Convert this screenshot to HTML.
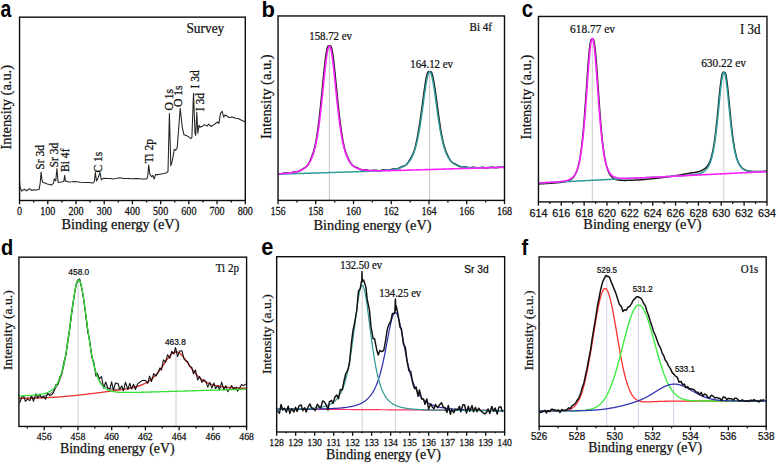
<!DOCTYPE html>
<html><head><meta charset="utf-8"><title>XPS spectra</title>
<style>html,body{margin:0;padding:0;background:#fff;width:778px;height:464px;overflow:hidden}svg{display:block}</style>
</head><body>
<svg xmlns="http://www.w3.org/2000/svg" width="778" height="464" viewBox="0 0 778 464">
<rect x="0" y="0" width="778" height="464" fill="#fff"/>
<polyline fill="none" stroke="#222" stroke-width="1.05" stroke-linejoin="round" points="19.60,181.00 19.90,187.00 21.90,191.20 24.20,189.20 26.50,190.80 29.60,188.70 31.90,190.50 34.00,189.80 36.50,190.00 39.20,189.30 40.20,183.00 41.10,172.00 42.00,180.00 42.70,182.40 45.00,183.10 47.30,183.90 49.50,184.40 51.50,185.10 53.50,183.10 54.20,178.90 55.80,180.80 56.90,168.50 58.10,182.40 61.20,182.00 63.80,181.60 64.70,175.40 65.40,181.20 66.20,181.20 68.90,182.00 72.00,181.80 75.00,181.50 80.00,182.20 85.80,182.60 89.00,182.40 92.80,183.10 94.40,181.50 95.30,172.30 96.50,180.90 98.20,177.70 100.00,172.30 101.40,179.90 103.50,178.20 107.30,178.60 110.00,178.40 112.70,179.00 116.00,178.60 119.70,177.70 123.50,178.60 128.00,178.40 132.00,178.80 137.00,178.60 142.00,179.00 146.50,179.00 147.70,176.80 148.70,164.90 149.80,174.10 151.60,176.80 152.90,175.40 154.10,179.00 155.60,174.60 158.00,174.60 161.10,174.10 164.00,173.60 166.60,172.80 168.00,171.30 169.40,113.40 170.80,165.80 172.40,160.40 174.30,149.40 175.70,150.30 177.20,147.60 180.20,108.20 182.30,127.40 184.00,134.80 186.70,135.70 188.50,136.60 190.80,138.60 191.90,137.60 193.50,93.20 195.00,133.00 195.70,135.40 196.80,112.20 197.80,133.20 199.10,125.20 200.00,127.30 202.20,126.20 204.90,124.60 207.00,126.20 208.60,124.10 211.30,126.50 214.00,124.60 216.20,123.00 217.80,121.90 218.90,123.50 220.50,113.30 222.10,111.20 223.70,117.10 225.30,114.90 227.50,116.50 229.10,117.60 232.30,117.10 235.60,118.20 238.80,118.70 241.50,120.30 244.20,121.40 245.00,121.60" />
<rect x="19.55" y="17.15" width="225.75" height="183.35" fill="none" stroke="#0d0d0d" stroke-width="1.4"/>
<line x1="19.55" y1="200.50" x2="19.55" y2="204.30" stroke="#0d0d0d" stroke-width="1.3"/>
<line x1="47.77" y1="200.50" x2="47.77" y2="204.30" stroke="#0d0d0d" stroke-width="1.3"/>
<line x1="75.99" y1="200.50" x2="75.99" y2="204.30" stroke="#0d0d0d" stroke-width="1.3"/>
<line x1="104.21" y1="200.50" x2="104.21" y2="204.30" stroke="#0d0d0d" stroke-width="1.3"/>
<line x1="132.42" y1="200.50" x2="132.42" y2="204.30" stroke="#0d0d0d" stroke-width="1.3"/>
<line x1="160.64" y1="200.50" x2="160.64" y2="204.30" stroke="#0d0d0d" stroke-width="1.3"/>
<line x1="188.86" y1="200.50" x2="188.86" y2="204.30" stroke="#0d0d0d" stroke-width="1.3"/>
<line x1="217.08" y1="200.50" x2="217.08" y2="204.30" stroke="#0d0d0d" stroke-width="1.3"/>
<line x1="245.30" y1="200.50" x2="245.30" y2="204.30" stroke="#0d0d0d" stroke-width="1.3"/>
<line x1="33.66" y1="200.50" x2="33.66" y2="202.50" stroke="#0d0d0d" stroke-width="1.3"/>
<line x1="61.88" y1="200.50" x2="61.88" y2="202.50" stroke="#0d0d0d" stroke-width="1.3"/>
<line x1="90.10" y1="200.50" x2="90.10" y2="202.50" stroke="#0d0d0d" stroke-width="1.3"/>
<line x1="118.32" y1="200.50" x2="118.32" y2="202.50" stroke="#0d0d0d" stroke-width="1.3"/>
<line x1="146.53" y1="200.50" x2="146.53" y2="202.50" stroke="#0d0d0d" stroke-width="1.3"/>
<line x1="174.75" y1="200.50" x2="174.75" y2="202.50" stroke="#0d0d0d" stroke-width="1.3"/>
<line x1="202.97" y1="200.50" x2="202.97" y2="202.50" stroke="#0d0d0d" stroke-width="1.3"/>
<line x1="231.19" y1="200.50" x2="231.19" y2="202.50" stroke="#0d0d0d" stroke-width="1.3"/>
<text x="0" y="0" font-family='"Liberation Serif", serif' font-size="11.65" text-anchor="middle" font-weight="normal" fill="#111" transform="translate(19.55 215.30) scale(0.87 1.0)" stroke="#111" stroke-width="0.25">0</text>
<text x="0" y="0" font-family='"Liberation Serif", serif' font-size="11.65" text-anchor="middle" font-weight="normal" fill="#111" transform="translate(47.77 215.30) scale(0.87 1.0)" stroke="#111" stroke-width="0.25">100</text>
<text x="0" y="0" font-family='"Liberation Serif", serif' font-size="11.65" text-anchor="middle" font-weight="normal" fill="#111" transform="translate(75.99 215.30) scale(0.87 1.0)" stroke="#111" stroke-width="0.25">200</text>
<text x="0" y="0" font-family='"Liberation Serif", serif' font-size="11.65" text-anchor="middle" font-weight="normal" fill="#111" transform="translate(104.21 215.30) scale(0.87 1.0)" stroke="#111" stroke-width="0.25">300</text>
<text x="0" y="0" font-family='"Liberation Serif", serif' font-size="11.65" text-anchor="middle" font-weight="normal" fill="#111" transform="translate(132.42 215.30) scale(0.87 1.0)" stroke="#111" stroke-width="0.25">400</text>
<text x="0" y="0" font-family='"Liberation Serif", serif' font-size="11.65" text-anchor="middle" font-weight="normal" fill="#111" transform="translate(160.64 215.30) scale(0.87 1.0)" stroke="#111" stroke-width="0.25">500</text>
<text x="0" y="0" font-family='"Liberation Serif", serif' font-size="11.65" text-anchor="middle" font-weight="normal" fill="#111" transform="translate(188.86 215.30) scale(0.87 1.0)" stroke="#111" stroke-width="0.25">600</text>
<text x="0" y="0" font-family='"Liberation Serif", serif' font-size="11.65" text-anchor="middle" font-weight="normal" fill="#111" transform="translate(217.08 215.30) scale(0.87 1.0)" stroke="#111" stroke-width="0.25">700</text>
<text x="0" y="0" font-family='"Liberation Serif", serif' font-size="11.65" text-anchor="middle" font-weight="normal" fill="#111" transform="translate(245.30 215.30) scale(0.87 1.0)" stroke="#111" stroke-width="0.25">800</text>
<text x="120.45" y="228.80" font-family='"Liberation Serif", serif' font-size="14.3" text-anchor="middle" font-weight="normal" fill="#111" stroke="#111" stroke-width="0.25">Binding energy (eV)</text>
<text x="0" y="0" font-family='"Liberation Serif", serif' font-size="14.45" text-anchor="middle" font-weight="normal" fill="#111" transform="translate(11.30 107.25) rotate(-90) scale(1.0 0.95)" stroke="#111" stroke-width="0.25">Intensity (a.u.)</text>
<text x="0" y="0" font-family='"Liberation Serif", serif' font-size="13.8" text-anchor="end" font-weight="normal" fill="#111" transform="translate(224.30 33.10) scale(0.97 1.0)" stroke="#111" stroke-width="0.25">Survey</text>
<text x="0" y="0" font-family='"Liberation Serif", serif' font-size="11.6" text-anchor="start" font-weight="normal" fill="#111" transform="translate(44.10 169.70) rotate(-90)" stroke="#111" stroke-width="0.25">Sr 3d</text>
<text x="0" y="0" font-family='"Liberation Serif", serif' font-size="11.6" text-anchor="start" font-weight="normal" fill="#111" transform="translate(57.60 167.50) rotate(-90)" stroke="#111" stroke-width="0.25">Sr 3d</text>
<text x="0" y="0" font-family='"Liberation Serif", serif' font-size="11.6" text-anchor="start" font-weight="normal" fill="#111" transform="translate(69.10 172.00) rotate(-90)" stroke="#111" stroke-width="0.25">Bi 4f</text>
<text x="0" y="0" font-family='"Liberation Serif", serif' font-size="11.6" text-anchor="start" font-weight="normal" fill="#111" transform="translate(101.80 172.60) rotate(-90)" stroke="#111" stroke-width="0.25">C 1s</text>
<text x="0" y="0" font-family='"Liberation Serif", serif' font-size="11.6" text-anchor="start" font-weight="normal" fill="#111" transform="translate(153.20 163.30) rotate(-90)" stroke="#111" stroke-width="0.25">Ti 2p</text>
<text x="0" y="0" font-family='"Liberation Serif", serif' font-size="11.6" text-anchor="start" font-weight="normal" fill="#111" transform="translate(172.90 110.60) rotate(-90)" stroke="#111" stroke-width="0.25">O 1s</text>
<text x="0" y="0" font-family='"Liberation Serif", serif' font-size="11.6" text-anchor="start" font-weight="normal" fill="#111" transform="translate(181.90 107.10) rotate(-90)" stroke="#111" stroke-width="0.25">O 1s</text>
<text x="0" y="0" font-family='"Liberation Serif", serif' font-size="11.6" text-anchor="start" font-weight="normal" fill="#111" transform="translate(198.60 88.60) rotate(-90)" stroke="#111" stroke-width="0.25">I 3d</text>
<text x="0" y="0" font-family='"Liberation Serif", serif' font-size="11.6" text-anchor="start" font-weight="normal" fill="#111" transform="translate(203.90 111.20) rotate(-90)" stroke="#111" stroke-width="0.25">I 3d</text>
<text x="0" y="0" font-family='"Liberation Sans", sans-serif' font-size="24.6" text-anchor="start" font-weight="bold" fill="#000" transform="translate(0.55 17.10) scale(0.79 1.0)">a</text>
<line x1="329.40" y1="46.00" x2="329.40" y2="200.40" stroke="#bdbdc2" stroke-width="0.9"/>
<line x1="429.70" y1="72.00" x2="429.70" y2="200.40" stroke="#bdbdc2" stroke-width="0.9"/>
<polyline fill="none" stroke="#1a1a1a" stroke-width="1.6" stroke-linejoin="round" points="278.00,173.82 278.39,173.87 278.77,173.93 279.15,173.98 279.54,174.01 279.92,174.03 280.30,174.02 280.67,174.00 281.05,173.95 281.42,173.89 281.79,173.81 282.16,173.71 282.53,173.61 282.91,173.50 283.28,173.40 283.65,173.30 284.03,173.22 284.40,173.15 284.78,173.10 285.16,173.07 285.54,173.07 285.92,173.07 286.29,173.10 286.67,173.13 287.06,173.18 287.44,173.22 287.82,173.25 288.20,173.28 288.58,173.29 288.95,173.28 289.33,173.25 289.71,173.20 290.08,173.13 290.46,173.04 290.83,172.92 291.20,172.80 291.58,172.67 291.95,172.53 292.32,172.40 292.70,172.28 293.07,172.16 293.45,172.06 293.82,171.98 294.20,171.92 294.58,171.87 294.95,171.84 295.33,171.82 295.71,171.81 296.09,171.80 296.47,171.78 296.84,171.76 297.22,171.72 297.60,171.66 297.97,171.58 298.35,171.47 298.72,171.34 299.10,171.18 299.47,170.99 299.84,170.78 300.22,170.56 300.59,170.32 300.96,170.07 301.34,169.82 301.71,169.58 302.08,169.33 302.46,169.10 302.83,168.87 303.20,168.65 303.58,168.44 303.95,168.23 304.33,168.02 304.70,167.80 305.08,167.57 305.45,167.32 305.83,167.04 306.20,166.73 306.57,166.39 306.94,166.00 307.32,165.56 307.69,165.07 308.06,164.54 308.43,163.95 308.80,163.32 309.17,162.64 309.54,161.93 309.91,161.17 310.28,160.37 310.64,159.54 311.01,158.68 311.38,157.78 311.75,156.85 312.12,155.88 312.49,154.86 312.86,153.79 313.22,152.66 313.59,151.47 313.96,150.19 314.33,148.83 314.69,147.36 315.06,145.80 315.42,144.11 315.79,142.30 316.15,140.36 316.52,138.29 316.88,136.09 317.24,133.74 317.61,131.26 317.97,128.65 318.33,125.91 318.69,123.04 319.05,120.06 319.41,116.96 319.78,113.76 320.14,110.46 320.50,107.07 320.86,103.60 321.22,100.06 321.58,96.46 321.94,92.81 322.31,89.13 322.67,85.43 323.03,81.73 323.39,78.05 323.76,74.42 324.12,70.86 324.48,67.40 324.85,64.08 325.22,60.93 325.58,57.99 325.95,55.29 326.32,52.87 326.69,50.75 327.06,48.98 327.44,47.58 327.81,46.57 328.19,45.98 330.36,45.80 330.74,46.05 331.12,46.72 331.49,47.80 331.87,49.27 332.24,51.12 332.61,53.32 332.98,55.83 333.34,58.61 333.71,61.64 334.07,64.87 334.44,68.27 334.80,71.79 335.17,75.40 335.53,79.07 335.89,82.77 336.25,86.48 336.62,90.17 336.98,93.82 337.34,97.42 337.70,100.95 338.06,104.41 338.42,107.79 338.79,111.08 339.15,114.27 339.51,117.36 339.87,120.35 340.23,123.24 340.59,126.01 340.96,128.67 341.32,131.22 341.68,133.64 342.04,135.94 342.41,138.11 342.77,140.16 343.14,142.08 343.50,143.87 343.87,145.54 344.23,147.09 344.60,148.53 344.96,149.86 345.33,151.10 345.70,152.25 346.07,153.31 346.44,154.31 346.80,155.25 347.17,156.14 347.54,156.99 347.91,157.80 348.28,158.58 348.65,159.33 349.02,160.06 349.39,160.75 349.76,161.43 350.13,162.07 350.50,162.67 350.87,163.25 351.24,163.78 351.61,164.27 351.98,164.72 352.36,165.12 352.73,165.48 353.10,165.79 353.47,166.07 353.85,166.31 354.22,166.52 354.60,166.70 354.97,166.87 355.35,167.02 355.72,167.17 356.10,167.33 356.47,167.48 356.85,167.64 357.22,167.82 357.59,168.00 357.97,168.19 358.34,168.39 358.72,168.60 359.09,168.80 359.46,168.99 359.83,169.18 360.21,169.35 360.58,169.49 360.96,169.62 361.33,169.72 361.71,169.79 362.08,169.84 362.46,169.86 362.84,169.87 363.22,169.86 363.59,169.84 363.97,169.81 364.35,169.79 364.73,169.78 365.11,169.77 365.48,169.78 365.86,169.81 366.24,169.86 366.61,169.92 366.99,170.00 367.36,170.09 367.74,170.19 368.11,170.30 368.48,170.40 368.86,170.49 369.23,170.57 369.61,170.64 369.91,170.68 370.28,170.71 370.66,170.71 371.04,170.69 371.42,170.65 371.80,170.59 372.17,170.53 372.55,170.45 372.93,170.38 373.31,170.31 373.68,170.26 374.06,170.21 374.44,170.19 374.82,170.18 375.20,170.20 375.58,170.23 375.95,170.28 376.33,170.34 376.71,170.41 377.09,170.49 377.47,170.56 377.85,170.62 378.23,170.67 378.60,170.71 378.98,170.72 379.36,170.72 379.74,170.69 380.12,170.64 380.49,170.57 380.87,170.49 381.25,170.40 381.63,170.31 382.00,170.21 382.38,170.13 382.76,170.05 383.14,170.00 383.51,169.96 383.89,169.94 384.27,169.93 384.65,169.95 385.03,169.99 385.41,170.03 385.78,170.08 386.16,170.14 386.54,170.19 386.92,170.23 387.30,170.25 387.68,170.26 388.05,170.25 388.43,170.21 388.81,170.15 389.19,170.08 389.49,169.98 389.87,169.87 390.24,169.76 390.61,169.64 390.99,169.52 391.36,169.41 391.73,169.31 392.11,169.22 392.49,169.16 392.86,169.11 393.24,169.08 393.62,169.06 394.00,169.06 394.38,169.07 394.75,169.08 395.13,169.09 395.51,169.10 395.89,169.09 396.27,169.06 396.64,169.01 397.02,168.94 397.39,168.84 397.77,168.72 398.14,168.57 398.52,168.40 398.89,168.22 399.26,168.03 399.63,167.83 400.01,167.63 400.38,167.43 400.75,167.24 401.13,167.06 401.50,166.90 401.88,166.74 402.25,166.60 402.63,166.47 403.00,166.34 403.38,166.21 403.75,166.07 404.13,165.92 404.50,165.76 404.88,165.57 405.25,165.34 405.62,165.09 406.00,164.80 406.37,164.47 406.74,164.10 407.11,163.69 407.48,163.25 407.85,162.77 408.22,162.27 408.59,161.74 408.96,161.19 409.33,160.62 409.70,160.04 410.07,159.44 410.44,158.83 410.81,158.20 411.18,157.55 411.55,156.88 411.92,156.18 412.29,155.43 412.66,154.64 413.02,153.80 413.39,152.89 413.76,151.92 414.13,150.86 414.49,149.72 414.86,148.49 415.22,147.17 415.59,145.76 415.95,144.25 416.32,142.65 416.68,140.96 417.04,139.18 417.41,137.31 417.77,135.37 418.13,133.34 418.50,131.25 418.86,129.08 419.22,126.84 419.58,124.54 419.95,122.18 420.31,119.75 420.67,117.26 421.03,114.72 421.39,112.12 421.76,109.46 422.12,106.77 422.48,104.04 422.84,101.28 423.21,98.52 423.57,95.77 423.93,93.04 424.30,90.37 424.66,87.77 425.03,85.27 425.40,82.91 425.76,80.70 426.13,78.68 426.50,76.88 426.87,75.31 427.24,73.99 427.62,72.95 427.99,72.21 428.37,71.76 428.75,71.61 430.92,71.76 431.30,72.20 431.68,72.94 432.05,73.94 432.42,75.20 432.79,76.69 433.16,78.40 433.53,80.30 433.90,82.37 434.27,84.58 434.63,86.92 435.00,89.36 435.36,91.89 435.73,94.48 436.09,97.11 436.45,99.79 436.82,102.48 437.18,105.18 437.54,107.88 437.91,110.57 438.27,113.23 438.63,115.86 438.99,118.45 439.35,120.98 439.71,123.45 440.08,125.84 440.44,128.16 440.80,130.39 441.16,132.52 441.52,134.55 441.89,136.48 442.25,138.29 442.61,140.00 442.98,141.61 443.34,143.11 443.71,144.51 444.07,145.82 444.44,147.05 444.81,148.20 445.17,149.28 445.54,150.30 445.91,151.27 446.28,152.20 446.64,153.09 447.01,153.94 447.38,154.77 447.75,155.57 448.12,156.34 448.49,157.08 448.85,157.78 449.22,158.46 449.59,159.09 449.96,159.69 450.33,160.24 450.70,160.75 451.07,161.21 451.44,161.62 451.81,161.99 452.18,162.31 452.56,162.59 452.93,162.85 453.30,163.07 453.68,163.28 454.05,163.47 454.43,163.65 454.80,163.83 455.17,164.01 455.55,164.20 455.92,164.39 456.30,164.60 456.67,164.81 457.04,165.04 457.41,165.26 457.79,165.48 458.16,165.70 458.53,165.90 458.90,166.09 459.28,166.26 459.65,166.40 460.02,166.52 460.40,166.61 460.77,166.68 461.15,166.72 461.53,166.74 461.90,166.75 462.28,166.74 462.66,166.73 463.04,166.72 463.42,166.71 463.79,166.71 464.17,166.73 464.55,166.76 464.92,166.82 465.30,166.89 465.67,166.97 466.05,167.07 466.42,167.18 466.79,167.29 467.16,167.40 467.54,167.51 467.91,167.60 468.28,167.67 468.66,167.73 469.03,167.77 469.41,167.78 469.79,167.77 470.17,167.74 470.55,167.70 470.93,167.64 471.31,167.57 471.69,167.51 472.07,167.45 472.45,167.40 472.83,167.36 473.21,167.34 473.58,167.34 473.96,167.36 474.34,167.40 474.71,167.45 475.08,167.52 475.46,167.60 475.83,167.68 476.20,167.77 476.57,167.84 476.94,167.91 477.31,167.95 477.69,167.98 478.06,167.99 478.44,167.98 478.82,167.94 479.21,167.89 479.59,167.82 479.97,167.75 480.36,167.67 480.74,167.59 481.12,167.51 481.50,167.45 481.88,167.41 482.26,167.38 482.64,167.37 483.02,167.38 483.39,167.41 483.77,167.46 484.14,167.53 484.51,167.60 484.88,167.67 485.25,167.74 485.61,167.81 485.98,167.86 486.35,167.89 486.73,167.91 487.11,167.90 487.49,167.88 487.87,167.83 488.24,167.77 488.64,167.70 489.03,167.61 489.42,167.53 489.76,167.44 490.13,167.37 490.51,167.30 490.89,167.26 491.27,167.23 491.65,167.22 492.02,167.24 492.40,167.27 492.78,167.32 493.16,167.38 493.54,167.45 493.91,167.52 494.29,167.58 494.67,167.64 495.05,167.69 495.43,167.72 495.80,167.72 496.18,167.71 496.56,167.68 496.94,167.62 497.32,167.56 497.70,167.48 498.07,167.39 498.45,167.30 498.83,167.22 499.21,167.14 499.59,167.08 499.96,167.04 500.34,167.01 500.72,167.01 501.10,167.03 501.48,167.06 501.85,167.11 502.23,167.17 502.61,167.24 502.99,167.31 503.37,167.37 503.74,167.43 504.12,167.47 504.50,167.49" />
<polyline fill="none" stroke="#2f9c9c" stroke-width="1.5" stroke-linejoin="round" points="278.05,174.16 278.43,174.15 278.81,174.14 279.18,174.13 279.56,174.12 279.94,174.11 280.32,174.09 280.70,174.08 281.07,174.07 281.45,174.06 281.83,174.05 282.21,174.04 282.59,174.02 282.96,174.01 283.34,174.00 283.72,173.99 284.10,173.98 284.48,173.97 284.85,173.96 285.23,173.94 285.61,173.93 285.99,173.92 286.37,173.91 286.75,173.90 287.12,173.89 287.50,173.87 287.88,173.86 288.26,173.85 288.64,173.84 289.01,173.83 289.39,173.82 289.77,173.81 290.15,173.79 290.53,173.78 290.90,173.77 291.28,173.76 291.66,173.75 292.04,173.74 292.42,173.72 292.79,173.71 293.17,173.70 293.55,173.69 293.93,173.68 294.31,173.67 294.68,173.65 295.06,173.64 295.44,173.63 295.82,173.62 296.20,173.61 296.57,173.60 296.95,173.59 297.33,173.57 297.71,173.56 298.09,173.55 298.46,173.54 298.84,173.53 299.22,173.52 299.60,173.50 299.98,173.49 300.35,173.48 300.73,173.47 301.11,173.46 301.49,173.45 301.87,173.43 302.24,173.42 302.62,173.41 303.00,173.40 303.38,173.39 303.76,173.38 304.14,173.36 304.51,173.35 304.89,173.34 305.27,173.33 305.65,173.32 306.03,173.31 306.40,173.30 306.78,173.28 307.16,173.27 307.54,173.26 307.92,173.25 308.29,173.24 308.67,173.23 309.05,173.21 309.43,173.20 309.81,173.19 310.18,173.18 310.56,173.17 310.94,173.16 311.32,173.14 311.70,173.13 312.07,173.12 312.45,173.11 312.83,173.10 313.21,173.09 313.59,173.07 313.96,173.06 314.34,173.05 314.72,173.04 315.10,173.03 315.48,173.02 315.85,173.00 316.23,172.99 316.61,172.98 316.99,172.97 317.37,172.96 317.74,172.95 318.12,172.93 318.50,172.92 318.88,172.91 319.26,172.90 319.64,172.89 320.01,172.88 320.39,172.86 320.77,172.85 321.15,172.84 321.53,172.83 321.90,172.82 322.28,172.81 322.66,172.79 323.04,172.78 323.42,172.77 323.79,172.76 324.17,172.75 324.55,172.74 324.93,172.72 325.31,172.71 325.68,172.70 326.06,172.69 326.44,172.68 326.82,172.66 327.20,172.65 327.57,172.64 327.95,172.63 328.33,172.62 328.71,172.61 329.09,172.59 329.46,172.58 329.84,172.57 330.22,172.56 330.60,172.55 330.98,172.54 331.35,172.52 331.73,172.51 332.11,172.50 332.49,172.49 332.87,172.48 333.24,172.46 333.62,172.45 334.00,172.44 334.38,172.43 334.76,172.42 335.14,172.40 335.51,172.39 335.89,172.38 336.27,172.37 336.65,172.36 337.03,172.35 337.40,172.33 337.78,172.32 338.16,172.31 338.54,172.30 338.92,172.29 339.29,172.27 339.67,172.26 340.05,172.25 340.43,172.24 340.81,172.23 341.18,172.21 341.56,172.20 341.94,172.19 342.32,172.18 342.70,172.16 343.07,172.15 343.45,172.14 343.83,172.13 344.21,172.12 344.59,172.10 344.96,172.09 345.34,172.08 345.72,172.07 346.10,172.06 346.48,172.04 346.85,172.03 347.23,172.02 347.61,172.01 347.99,171.99 348.37,171.98 348.74,171.97 349.12,171.96 349.50,171.94 349.88,171.93 350.26,171.92 350.63,171.91 351.01,171.89 351.39,171.88 351.77,171.87 352.15,171.86 352.53,171.84 352.90,171.83 353.28,171.82 353.66,171.81 354.04,171.79 354.42,171.78 354.79,171.77 355.17,171.76 355.55,171.74 355.93,171.73 356.31,171.72 356.68,171.70 357.06,171.69 357.44,171.68 357.82,171.66 358.20,171.65 358.57,171.64 358.95,171.63 359.33,171.61 359.71,171.60 360.09,171.59 360.46,171.57 360.84,171.56 361.22,171.54 361.60,171.53 361.98,171.52 362.35,171.50 362.73,171.49 363.11,171.48 363.49,171.46 363.87,171.45 364.24,171.43 364.62,171.42 365.00,171.41 365.38,171.39 365.76,171.38 366.13,171.36 366.51,171.35 366.89,171.33 367.27,171.32 367.65,171.30 368.03,171.29 368.40,171.27 368.78,171.26 369.16,171.24 369.54,171.23 369.92,171.21 370.29,171.20 370.67,171.18 371.05,171.16 371.43,171.15 371.81,171.13 372.18,171.12 372.56,171.10 372.94,171.08 373.32,171.06 373.70,171.05 374.07,171.03 374.45,171.01 374.83,170.99 375.21,170.98 375.59,170.96 375.96,170.94 376.34,170.92 376.72,170.90 377.10,170.88 377.48,170.86 377.85,170.84 378.23,170.82 378.61,170.80 378.99,170.78 379.37,170.76 379.74,170.74 380.12,170.72 380.50,170.69 380.88,170.67 381.26,170.65 381.63,170.62 382.01,170.60 382.39,170.57 382.77,170.55 383.15,170.52 383.53,170.50 383.90,170.47 384.28,170.44 384.66,170.41 385.04,170.38 385.42,170.35 385.79,170.32 386.17,170.29 386.55,170.26 386.93,170.23 387.31,170.19 387.68,170.16 388.06,170.12 388.44,170.08 388.82,170.04 389.20,170.00 389.57,169.96 389.95,169.92 390.33,169.88 390.71,169.83 391.09,169.78 391.46,169.74 391.84,169.69 392.22,169.63 392.60,169.58 392.98,169.52 393.35,169.46 393.73,169.40 394.11,169.34 394.49,169.27 394.87,169.21 395.24,169.13 395.62,169.06 396.00,168.98 396.38,168.90 396.76,168.82 397.13,168.73 397.51,168.64 397.89,168.54 398.27,168.44 398.65,168.33 399.02,168.22 399.40,168.10 399.78,167.98 400.16,167.85 400.54,167.72 400.92,167.57 401.29,167.42 401.67,167.27 402.05,167.10 402.43,166.93 402.81,166.74 403.18,166.55 403.56,166.34 403.94,166.13 404.32,165.90 404.70,165.66 405.07,165.41 405.45,165.14 405.83,164.85 406.21,164.55 406.59,164.23 406.96,163.89 407.34,163.54 407.72,163.16 408.10,162.76 408.48,162.33 408.85,161.88 409.23,161.40 409.61,160.89 409.99,160.35 410.37,159.78 410.74,159.17 411.12,158.53 411.50,157.84 411.88,157.11 412.26,156.34 412.63,155.52 413.01,154.66 413.39,153.73 413.77,152.76 414.15,151.72 414.52,150.62 414.90,149.46 415.28,148.23 415.66,146.92 416.04,145.55 416.42,144.09 416.79,142.56 417.17,140.94 417.55,139.24 417.93,137.45 418.31,135.57 418.68,133.61 419.06,131.55 419.44,129.40 419.82,127.17 420.20,124.85 420.57,122.44 420.95,119.96 421.33,117.40 421.71,114.78 422.09,112.09 422.46,109.37 422.84,106.60 423.22,103.82 423.60,101.03 423.98,98.24 424.35,95.49 424.73,92.79 425.11,90.16 425.49,87.62 425.87,85.19 426.24,82.90 426.62,80.78 427.00,78.83 427.38,77.09 427.76,75.57 428.13,74.29 428.51,73.27 428.89,72.52 429.27,72.04 429.65,71.85 430.02,71.94 430.40,72.31 430.78,72.97 431.16,73.89 431.54,75.07 431.92,76.50 432.29,78.16 432.67,80.03 433.05,82.08 433.43,84.31 433.81,86.67 434.18,89.16 434.56,91.74 434.94,94.41 435.32,97.12 435.70,99.87 436.07,102.64 436.45,105.41 436.83,108.16 437.21,110.87 437.59,113.54 437.96,116.16 438.34,118.72 438.72,121.20 439.10,123.60 439.48,125.93 439.85,128.16 440.23,130.31 440.61,132.37 440.99,134.34 441.37,136.22 441.74,138.01 442.12,139.71 442.50,141.33 442.88,142.87 443.26,144.32 443.63,145.69 444.01,146.99 444.39,148.22 444.77,149.38 445.15,150.48 445.52,151.51 445.90,152.48 446.28,153.39 446.66,154.25 447.04,155.06 447.41,155.82 447.79,156.54 448.17,157.21 448.55,157.84 448.93,158.44 449.31,159.00 449.68,159.52 450.06,160.02 450.44,160.48 450.82,160.92 451.20,161.33 451.57,161.71 451.95,162.07 452.33,162.41 452.71,162.73 453.09,163.04 453.46,163.32 453.84,163.58 454.22,163.84 454.60,164.07 454.98,164.29 455.35,164.50 455.73,164.70 456.11,164.88 456.49,165.06 456.87,165.22 457.24,165.37 457.62,165.52 458.00,165.65 458.38,165.78 458.76,165.90 459.13,166.02 459.51,166.13 459.89,166.23 460.27,166.32 460.65,166.41 461.02,166.50 461.40,166.58 461.78,166.65 462.16,166.72 462.54,166.79 462.91,166.85 463.29,166.91 463.67,166.97 464.05,167.02 464.43,167.07 464.81,167.11 465.18,167.16 465.56,167.20 465.94,167.24 466.32,167.27 466.70,167.31 467.07,167.34 467.45,167.37 467.83,167.40 468.21,167.42 468.59,167.45 468.96,167.47 469.34,167.49 469.72,167.51 470.10,167.53 470.48,167.55 470.85,167.56 471.23,167.58 471.61,167.59 471.99,167.60 472.37,167.61 472.74,167.62 473.12,167.63 473.50,167.64 473.88,167.65 474.26,167.66 474.63,167.66 475.01,167.67 475.39,167.67 475.77,167.68 476.15,167.68 476.52,167.69 476.90,167.69 477.28,167.69 477.66,167.69 478.04,167.69 478.41,167.69 478.79,167.69 479.17,167.69 479.55,167.69 479.93,167.69 480.31,167.69 480.68,167.69 481.06,167.68 481.44,167.68 481.82,167.68 482.20,167.67 482.57,167.67 482.95,167.67 483.33,167.66 483.71,167.66 484.09,167.65 484.46,167.65 484.84,167.64 485.22,167.64 485.60,167.63 485.98,167.63 486.35,167.62 486.73,167.62 487.11,167.61 487.49,167.60 487.87,167.60 488.24,167.59 488.62,167.58 489.00,167.57 489.38,167.57 489.76,167.56 490.13,167.55 490.51,167.54 490.89,167.54 491.27,167.53 491.65,167.52 492.02,167.51 492.40,167.50 492.78,167.50 493.16,167.49 493.54,167.48 493.91,167.47 494.29,167.46 494.67,167.45 495.05,167.44 495.43,167.44 495.80,167.43 496.18,167.42 496.56,167.41 496.94,167.40 497.32,167.39 497.70,167.38 498.07,167.37 498.45,167.36 498.83,167.35 499.21,167.34 499.59,167.33 499.96,167.32 500.34,167.31 500.72,167.30 501.10,167.29 501.48,167.28 501.85,167.27 502.23,167.26 502.61,167.25 502.99,167.24 503.37,167.23 503.74,167.22 504.12,167.21 504.50,167.20" />
<polyline fill="none" stroke="#ff22ff" stroke-width="1.6" stroke-linejoin="round" points="278.05,173.86 278.43,173.84 278.81,173.82 279.18,173.80 279.56,173.77 279.94,173.75 280.32,173.73 280.70,173.70 281.07,173.68 281.45,173.65 281.83,173.63 282.21,173.60 282.59,173.58 282.96,173.55 283.34,173.52 283.72,173.49 284.10,173.46 284.48,173.43 284.85,173.40 285.23,173.37 285.61,173.34 285.99,173.31 286.37,173.27 286.75,173.24 287.12,173.20 287.50,173.16 287.88,173.13 288.26,173.09 288.64,173.04 289.01,173.00 289.39,172.96 289.77,172.91 290.15,172.87 290.53,172.82 290.90,172.77 291.28,172.71 291.66,172.66 292.04,172.60 292.42,172.54 292.79,172.48 293.17,172.42 293.55,172.35 293.93,172.29 294.31,172.21 294.68,172.14 295.06,172.06 295.44,171.98 295.82,171.90 296.20,171.81 296.57,171.71 296.95,171.62 297.33,171.51 297.71,171.41 298.09,171.29 298.46,171.18 298.84,171.05 299.22,170.92 299.60,170.79 299.98,170.64 300.35,170.49 300.73,170.33 301.11,170.16 301.49,169.99 301.87,169.80 302.24,169.60 302.62,169.39 303.00,169.17 303.38,168.94 303.76,168.70 304.14,168.44 304.51,168.16 304.89,167.87 305.27,167.56 305.65,167.23 306.03,166.88 306.40,166.51 306.78,166.12 307.16,165.71 307.54,165.27 307.92,164.80 308.29,164.30 308.67,163.77 309.05,163.20 309.43,162.60 309.81,161.96 310.18,161.28 310.56,160.56 310.94,159.78 311.32,158.96 311.70,158.09 312.07,157.16 312.45,156.16 312.83,155.11 313.21,153.98 313.59,152.79 313.96,151.51 314.34,150.16 314.72,148.72 315.10,147.19 315.48,145.57 315.85,143.84 316.23,142.01 316.61,140.08 316.99,138.03 317.37,135.86 317.74,133.57 318.12,131.17 318.50,128.63 318.88,125.97 319.26,123.18 319.64,120.26 320.01,117.22 320.39,114.05 320.77,110.77 321.15,107.38 321.53,103.88 321.90,100.30 322.28,96.64 322.66,92.92 323.04,89.16 323.42,85.38 323.79,81.61 324.17,77.86 324.55,74.18 324.93,70.59 325.31,67.12 325.68,63.80 326.06,60.68 326.44,57.78 326.82,55.14 327.20,52.79 327.57,50.76 327.95,49.07 328.33,47.74 328.71,46.80 329.09,46.25 329.46,46.10 329.84,46.36 330.22,47.02 330.60,48.08 330.98,49.51 331.35,51.29 331.73,53.42 332.11,55.85 332.49,58.55 332.87,61.51 333.24,64.68 333.62,68.02 334.00,71.52 334.38,75.12 334.76,78.80 335.14,82.54 335.51,86.30 335.89,90.05 336.27,93.77 336.65,97.45 337.03,101.06 337.40,104.60 337.78,108.03 338.16,111.37 338.54,114.59 338.92,117.69 339.29,120.66 339.67,123.52 340.05,126.24 340.43,128.83 340.81,131.30 341.18,133.65 341.56,135.87 341.94,137.97 342.32,139.96 342.70,141.84 343.07,143.61 343.45,145.27 343.83,146.84 344.21,148.32 344.59,149.70 344.96,151.01 345.34,152.23 345.72,153.38 346.10,154.46 346.48,155.47 346.85,156.42 347.23,157.30 347.61,158.14 347.99,158.92 348.37,159.65 348.74,160.34 349.12,160.98 349.50,161.58 349.88,162.15 350.26,162.68 350.63,163.17 351.01,163.64 351.39,164.08 351.77,164.49 352.15,164.87 352.53,165.23 352.90,165.57 353.28,165.89 353.66,166.19 354.04,166.47 354.42,166.73 354.79,166.98 355.17,167.21 355.55,167.43 355.93,167.63 356.31,167.83 356.68,168.01 357.06,168.18 357.44,168.34 357.82,168.49 358.20,168.63 358.57,168.76 358.95,168.89 359.33,169.01 359.71,169.12 360.09,169.22 360.46,169.32 360.84,169.41 361.22,169.50 361.60,169.58 361.98,169.66 362.35,169.73 362.73,169.80 363.11,169.87 363.49,169.93 363.87,169.99 364.24,170.04 364.62,170.09 365.00,170.14 365.38,170.18 365.76,170.22 366.13,170.26 366.51,170.30 366.89,170.34 367.27,170.37 367.65,170.40 368.03,170.43 368.40,170.45 368.78,170.48 369.16,170.50 369.54,170.52 369.92,170.54 370.29,170.56 370.67,170.58 371.05,170.60 371.43,170.61 371.81,170.63 372.18,170.64 372.56,170.65 372.94,170.66 373.32,170.67 373.70,170.68 374.07,170.69 374.45,170.70 374.83,170.70 375.21,170.71 375.59,170.71 375.96,170.72 376.34,170.72 376.72,170.73 377.10,170.73 377.48,170.73 377.85,170.73 378.23,170.73 378.61,170.73 378.99,170.73 379.37,170.73 379.74,170.73 380.12,170.73 380.50,170.73 380.88,170.73 381.26,170.73 381.63,170.72 382.01,170.72 382.39,170.72 382.77,170.71 383.15,170.71 383.53,170.71 383.90,170.70 384.28,170.70 384.66,170.69 385.04,170.69 385.42,170.68 385.79,170.68 386.17,170.67 386.55,170.66 386.93,170.66 387.31,170.65 387.68,170.65 388.06,170.64 388.44,170.63 388.82,170.62 389.20,170.62 389.57,170.61 389.95,170.60 390.33,170.60 390.71,170.59 391.09,170.58 391.46,170.57 391.84,170.56 392.22,170.56 392.60,170.55 392.98,170.54 393.35,170.53 393.73,170.52 394.11,170.51 394.49,170.51 394.87,170.50 395.24,170.49 395.62,170.48 396.00,170.47 396.38,170.46 396.76,170.45 397.13,170.44 397.51,170.43 397.89,170.42 398.27,170.41 398.65,170.40 399.02,170.39 399.40,170.39 399.78,170.38 400.16,170.37 400.54,170.36 400.92,170.35 401.29,170.34 401.67,170.33 402.05,170.32 402.43,170.31 402.81,170.30 403.18,170.29 403.56,170.28 403.94,170.27 404.32,170.26 404.70,170.25 405.07,170.24 405.45,170.23 405.83,170.21 406.21,170.20 406.59,170.19 406.96,170.18 407.34,170.17 407.72,170.16 408.10,170.15 408.48,170.14 408.85,170.13 409.23,170.12 409.61,170.11 409.99,170.10 410.37,170.09 410.74,170.08 411.12,170.07 411.50,170.06 411.88,170.05 412.26,170.04 412.63,170.02 413.01,170.01 413.39,170.00 413.77,169.99 414.15,169.98 414.52,169.97 414.90,169.96 415.28,169.95 415.66,169.94 416.04,169.93 416.42,169.92 416.79,169.90 417.17,169.89 417.55,169.88 417.93,169.87 418.31,169.86 418.68,169.85 419.06,169.84 419.44,169.83 419.82,169.82 420.20,169.81 420.57,169.79 420.95,169.78 421.33,169.77 421.71,169.76 422.09,169.75 422.46,169.74 422.84,169.73 423.22,169.72 423.60,169.71 423.98,169.69 424.35,169.68 424.73,169.67 425.11,169.66 425.49,169.65 425.87,169.64 426.24,169.63 426.62,169.62 427.00,169.60 427.38,169.59 427.76,169.58 428.13,169.57 428.51,169.56 428.89,169.55 429.27,169.54 429.65,169.53 430.02,169.52 430.40,169.50 430.78,169.49 431.16,169.48 431.54,169.47 431.92,169.46 432.29,169.45 432.67,169.44 433.05,169.42 433.43,169.41 433.81,169.40 434.18,169.39 434.56,169.38 434.94,169.37 435.32,169.36 435.70,169.35 436.07,169.33 436.45,169.32 436.83,169.31 437.21,169.30 437.59,169.29 437.96,169.28 438.34,169.27 438.72,169.25 439.10,169.24 439.48,169.23 439.85,169.22 440.23,169.21 440.61,169.20 440.99,169.19 441.37,169.18 441.74,169.16 442.12,169.15 442.50,169.14 442.88,169.13 443.26,169.12 443.63,169.11 444.01,169.10 444.39,169.08 444.77,169.07 445.15,169.06 445.52,169.05 445.90,169.04 446.28,169.03 446.66,169.02 447.04,169.00 447.41,168.99 447.79,168.98 448.17,168.97 448.55,168.96 448.93,168.95 449.31,168.94 449.68,168.92 450.06,168.91 450.44,168.90 450.82,168.89 451.20,168.88 451.57,168.87 451.95,168.86 452.33,168.84 452.71,168.83 453.09,168.82 453.46,168.81 453.84,168.80 454.22,168.79 454.60,168.78 454.98,168.76 455.35,168.75 455.73,168.74 456.11,168.73 456.49,168.72 456.87,168.71 457.24,168.70 457.62,168.68 458.00,168.67 458.38,168.66 458.76,168.65 459.13,168.64 459.51,168.63 459.89,168.62 460.27,168.60 460.65,168.59 461.02,168.58 461.40,168.57 461.78,168.56 462.16,168.55 462.54,168.53 462.91,168.52 463.29,168.51 463.67,168.50 464.05,168.49 464.43,168.48 464.81,168.47 465.18,168.45 465.56,168.44 465.94,168.43 466.32,168.42 466.70,168.41 467.07,168.40 467.45,168.39 467.83,168.37 468.21,168.36 468.59,168.35 468.96,168.34 469.34,168.33 469.72,168.32 470.10,168.31 470.48,168.29 470.85,168.28 471.23,168.27 471.61,168.26 471.99,168.25 472.37,168.24 472.74,168.22 473.12,168.21 473.50,168.20 473.88,168.19 474.26,168.18 474.63,168.17 475.01,168.16 475.39,168.14 475.77,168.13 476.15,168.12 476.52,168.11 476.90,168.10 477.28,168.09 477.66,168.08 478.04,168.06 478.41,168.05 478.79,168.04 479.17,168.03 479.55,168.02 479.93,168.01 480.31,167.99 480.68,167.98 481.06,167.97 481.44,167.96 481.82,167.95 482.20,167.94 482.57,167.93 482.95,167.91 483.33,167.90 483.71,167.89 484.09,167.88 484.46,167.87 484.84,167.86 485.22,167.85 485.60,167.83 485.98,167.82 486.35,167.81 486.73,167.80 487.11,167.79 487.49,167.78 487.87,167.76 488.24,167.75 488.62,167.74 489.00,167.73 489.38,167.72 489.76,167.71 490.13,167.70 490.51,167.68 490.89,167.67 491.27,167.66 491.65,167.65 492.02,167.64 492.40,167.63 492.78,167.62 493.16,167.60 493.54,167.59 493.91,167.58 494.29,167.57 494.67,167.56 495.05,167.55 495.43,167.53 495.80,167.52 496.18,167.51 496.56,167.50 496.94,167.49 497.32,167.48 497.70,167.47 498.07,167.45 498.45,167.44 498.83,167.43 499.21,167.42 499.59,167.41 499.96,167.40 500.34,167.38 500.72,167.37 501.10,167.36 501.48,167.35 501.85,167.34 502.23,167.33 502.61,167.32 502.99,167.30 503.37,167.29 503.74,167.28 504.12,167.27 504.50,167.26" />
<rect x="278.05" y="15.95" width="226.45" height="184.45" fill="none" stroke="#0d0d0d" stroke-width="1.4"/>
<line x1="278.05" y1="200.40" x2="278.05" y2="204.20" stroke="#0d0d0d" stroke-width="1.3"/>
<line x1="315.79" y1="200.40" x2="315.79" y2="204.20" stroke="#0d0d0d" stroke-width="1.3"/>
<line x1="353.53" y1="200.40" x2="353.53" y2="204.20" stroke="#0d0d0d" stroke-width="1.3"/>
<line x1="391.27" y1="200.40" x2="391.27" y2="204.20" stroke="#0d0d0d" stroke-width="1.3"/>
<line x1="429.02" y1="200.40" x2="429.02" y2="204.20" stroke="#0d0d0d" stroke-width="1.3"/>
<line x1="466.76" y1="200.40" x2="466.76" y2="204.20" stroke="#0d0d0d" stroke-width="1.3"/>
<line x1="504.50" y1="200.40" x2="504.50" y2="204.20" stroke="#0d0d0d" stroke-width="1.3"/>
<line x1="296.92" y1="200.40" x2="296.92" y2="202.40" stroke="#0d0d0d" stroke-width="1.3"/>
<line x1="334.66" y1="200.40" x2="334.66" y2="202.40" stroke="#0d0d0d" stroke-width="1.3"/>
<line x1="372.40" y1="200.40" x2="372.40" y2="202.40" stroke="#0d0d0d" stroke-width="1.3"/>
<line x1="410.15" y1="200.40" x2="410.15" y2="202.40" stroke="#0d0d0d" stroke-width="1.3"/>
<line x1="447.89" y1="200.40" x2="447.89" y2="202.40" stroke="#0d0d0d" stroke-width="1.3"/>
<line x1="485.63" y1="200.40" x2="485.63" y2="202.40" stroke="#0d0d0d" stroke-width="1.3"/>
<text x="0" y="0" font-family='"Liberation Serif", serif' font-size="11.65" text-anchor="middle" font-weight="normal" fill="#111" transform="translate(278.05 215.30) scale(0.87 1.0)" stroke="#111" stroke-width="0.25">156</text>
<text x="0" y="0" font-family='"Liberation Serif", serif' font-size="11.65" text-anchor="middle" font-weight="normal" fill="#111" transform="translate(315.79 215.30) scale(0.87 1.0)" stroke="#111" stroke-width="0.25">158</text>
<text x="0" y="0" font-family='"Liberation Serif", serif' font-size="11.65" text-anchor="middle" font-weight="normal" fill="#111" transform="translate(353.53 215.30) scale(0.87 1.0)" stroke="#111" stroke-width="0.25">160</text>
<text x="0" y="0" font-family='"Liberation Serif", serif' font-size="11.65" text-anchor="middle" font-weight="normal" fill="#111" transform="translate(391.27 215.30) scale(0.87 1.0)" stroke="#111" stroke-width="0.25">162</text>
<text x="0" y="0" font-family='"Liberation Serif", serif' font-size="11.65" text-anchor="middle" font-weight="normal" fill="#111" transform="translate(429.02 215.30) scale(0.87 1.0)" stroke="#111" stroke-width="0.25">164</text>
<text x="0" y="0" font-family='"Liberation Serif", serif' font-size="11.65" text-anchor="middle" font-weight="normal" fill="#111" transform="translate(466.76 215.30) scale(0.87 1.0)" stroke="#111" stroke-width="0.25">166</text>
<text x="0" y="0" font-family='"Liberation Serif", serif' font-size="11.65" text-anchor="middle" font-weight="normal" fill="#111" transform="translate(504.50 215.30) scale(0.87 1.0)" stroke="#111" stroke-width="0.25">168</text>
<text x="0" y="0" font-family='"Liberation Serif", serif' font-size="15.0" text-anchor="middle" font-weight="normal" fill="#111" transform="translate(372.50 229.90) scale(0.953 1.0)" stroke="#111" stroke-width="0.25">Binding energy (eV)</text>
<text x="0" y="0" font-family='"Liberation Serif", serif' font-size="14.45" text-anchor="middle" font-weight="normal" fill="#111" transform="translate(270.90 96.75) rotate(-90) scale(1.0 0.95)" stroke="#111" stroke-width="0.25">Intensity (a.u.)</text>
<text x="0" y="0" font-family='"Liberation Serif", serif' font-size="11.8" text-anchor="end" font-weight="normal" fill="#111" transform="translate(492.00 30.80) scale(0.94 1.0)" stroke="#111" stroke-width="0.25">Bi 4f</text>
<text x="0" y="0" font-family='"Liberation Serif", serif' font-size="11.9" text-anchor="middle" font-weight="normal" fill="#111" transform="translate(330.60 39.90) scale(0.91 1.0)" stroke="#111" stroke-width="0.25">158.72 ev</text>
<text x="0" y="0" font-family='"Liberation Serif", serif' font-size="11.9" text-anchor="middle" font-weight="normal" fill="#111" transform="translate(431.60 67.50) scale(0.91 1.0)" stroke="#111" stroke-width="0.25">164.12 ev</text>
<text x="261.60" y="17.00" font-family='"Liberation Sans", sans-serif' font-size="22" text-anchor="start" font-weight="bold" fill="#000">b</text>
<line x1="592.30" y1="39.00" x2="592.30" y2="201.90" stroke="#c8c8cc" stroke-width="0.9"/>
<line x1="723.80" y1="73.00" x2="723.80" y2="201.90" stroke="#c8c8cc" stroke-width="0.9"/>
<polyline fill="none" stroke="#1a1a1a" stroke-width="1.5" stroke-linejoin="round" points="538.45,183.98 538.83,183.96 539.21,183.94 539.59,183.92 539.98,183.89 540.36,183.87 540.74,183.85 541.12,183.83 541.50,183.80 541.88,183.78 542.26,183.76 542.65,183.73 543.03,183.71 543.41,183.69 543.79,183.66 544.17,183.64 544.55,183.62 544.93,183.60 545.32,183.57 545.70,183.55 546.08,183.52 546.46,183.50 546.84,183.48 547.22,183.45 547.61,183.43 547.99,183.40 548.37,183.38 548.75,183.36 549.13,183.33 549.51,183.31 549.89,183.28 550.28,183.26 550.66,183.23 551.04,183.20 551.42,183.18 551.80,183.15 552.18,183.13 552.56,183.10 552.95,183.07 553.33,183.04 553.71,183.02 554.09,182.99 554.47,182.96 554.85,182.93 555.23,182.90 555.62,182.87 556.00,182.84 556.38,182.81 556.76,182.77 557.14,182.74 557.52,182.71 557.90,182.67 558.29,182.64 558.67,182.60 559.05,182.56 559.43,182.52 559.81,182.48 560.19,182.44 560.58,182.39 560.96,182.35 561.34,182.30 561.72,182.25 562.10,182.20 562.48,182.14 562.86,182.09 563.25,182.02 563.63,181.96 564.01,181.89 564.39,181.82 564.77,181.75 565.15,181.67 565.52,181.58 565.89,181.49 566.27,181.40 566.65,181.29 567.02,181.18 567.40,181.06 567.78,180.94 568.15,180.80 568.53,180.65 568.91,180.49 569.29,180.32 569.66,180.14 570.04,179.94 570.42,179.72 570.79,179.48 571.17,179.23 571.55,178.95 571.92,178.65 572.30,178.32 572.68,177.96 573.05,177.56 573.43,177.13 573.80,176.67 574.18,176.15 574.55,175.59 574.92,174.98 575.30,174.31 575.67,173.58 576.05,172.78 576.42,171.90 576.79,170.94 577.16,169.89 577.54,168.75 577.91,167.49 578.28,166.12 578.65,164.63 579.02,163.00 579.39,161.23 579.76,159.30 580.13,157.20 580.49,154.92 580.86,152.46 581.23,149.80 581.60,146.93 581.96,143.84 582.33,140.54 582.69,137.00 583.06,133.23 583.42,129.23 583.79,125.00 584.15,120.55 584.52,115.89 584.88,111.03 585.24,106.00 585.61,100.83 585.97,95.54 586.34,90.18 586.70,84.80 587.07,79.43 587.43,74.15 587.80,69.01 588.17,64.07 588.54,59.40 588.91,55.07 589.28,51.14 589.65,47.68 590.03,44.73 590.40,42.35 590.78,40.58 591.16,39.45 591.54,38.99 593.32,39.19 593.70,40.06 594.07,41.57 594.45,43.71 594.82,46.43 595.20,49.69 595.57,53.43 595.94,57.59 596.31,62.11 596.68,66.92 597.04,71.95 597.41,77.15 597.78,82.45 598.14,87.79 598.51,93.12 598.87,98.39 599.24,103.56 599.60,108.60 599.96,113.47 600.33,118.15 600.69,122.65 601.06,126.95 601.42,131.03 601.79,134.87 602.15,138.48 602.52,141.86 602.88,145.01 603.25,147.95 603.62,150.68 603.98,153.20 604.35,155.53 604.72,157.68 605.09,159.66 605.46,161.49 605.83,163.16 606.20,164.69 606.57,166.10 606.94,167.39 607.31,168.56 607.68,169.64 608.05,170.63 608.42,171.53 608.80,172.35 609.17,173.10 609.54,173.79 609.92,174.41 610.29,174.99 610.66,175.51 611.04,175.99 611.41,176.43 611.79,176.83 612.16,177.19 612.53,177.53 612.91,177.84 613.28,178.12 613.65,178.38 614.03,178.62 614.40,178.84 614.77,179.04 615.13,179.22 615.51,179.35 615.89,179.47 616.27,179.58 616.65,179.68 617.03,179.77 617.41,179.85 617.80,179.92 618.18,179.99 618.56,180.04 618.94,180.10 619.32,180.14 619.70,180.18 620.08,180.22 620.47,180.25 620.85,180.27 621.23,180.30 621.61,180.32 621.99,180.34 622.37,180.35 622.75,180.36 623.14,180.37 623.52,180.38 623.90,180.38 624.28,180.39 624.66,180.39 625.04,180.39 625.42,180.39 625.81,180.39 626.19,180.38 626.57,180.38 626.95,180.37 627.33,180.37 627.71,180.36 628.10,180.35 628.48,180.34 628.86,180.33 629.24,180.32 629.62,180.31 630.00,180.30 630.38,180.29 630.77,180.28 631.15,180.26 631.53,180.25 631.91,180.24 632.29,180.22 632.67,180.21 633.05,180.19 633.44,180.18 633.82,180.16 634.20,180.15 634.58,180.13 634.96,180.12 635.34,180.10 635.72,180.08 636.11,180.07 636.49,180.05 636.87,180.03 637.25,180.02 637.63,180.00 638.01,179.98 638.39,179.97 638.78,179.95 639.16,179.93 639.54,179.91 639.92,179.90 640.30,179.86 640.68,179.83 641.07,179.79 641.45,179.75 641.83,179.71 642.21,179.68 642.59,179.64 642.97,179.60 643.35,179.57 643.74,179.53 644.12,179.49 644.50,179.45 644.88,179.42 645.26,179.38 645.64,179.34 646.02,179.30 646.41,179.26 646.79,179.23 647.17,179.19 647.55,179.15 647.93,179.11 648.31,179.08 648.69,179.04 649.08,179.00 649.46,178.96 649.84,178.92 650.22,178.89 650.60,178.85 650.98,178.81 651.36,178.77 651.75,178.73 652.13,178.70 652.51,178.66 652.89,178.62 653.27,178.58 653.65,178.54 654.04,178.51 654.42,178.47 654.80,178.43 655.18,178.39 655.56,178.35 655.94,178.31 656.32,178.28 656.71,178.24 657.09,178.20 657.47,178.16 657.85,178.12 658.23,178.08 658.61,178.05 658.99,178.01 659.38,177.97 659.76,177.93 660.14,177.89 660.52,177.84 660.90,177.79 661.28,177.73 661.66,177.68 662.05,177.63 662.43,177.58 662.81,177.53 663.19,177.48 663.57,177.43 663.95,177.37 664.33,177.32 664.72,177.27 665.10,177.22 665.48,177.17 665.86,177.12 666.24,177.07 666.62,177.01 667.01,176.96 667.39,176.91 667.77,176.86 668.15,176.81 668.53,176.76 668.91,176.70 669.29,176.65 669.68,176.60 670.06,176.55 670.44,176.50 670.82,176.44 671.20,176.39 671.58,176.34 671.95,176.29 672.33,176.23 672.70,176.16 673.08,176.10 673.46,176.04 673.84,175.97 674.21,175.91 674.59,175.85 674.97,175.78 675.35,175.72 675.73,175.66 676.11,175.59 676.49,175.53 676.87,175.46 677.25,175.40 677.63,175.34 678.01,175.27 678.39,175.21 678.77,175.14 679.15,175.08 679.53,175.01 679.91,174.95 680.29,174.88 680.67,174.82 681.05,174.75 681.43,174.68 681.81,174.62 682.19,174.55 682.57,174.48 682.95,174.42 683.33,174.35 683.71,174.28 684.09,174.21 684.47,174.14 684.85,174.07 685.23,174.00 685.61,173.93 685.99,173.86 686.37,173.79 686.75,173.72 687.13,173.65 687.51,173.58 687.89,173.50 688.27,173.43 688.65,173.35 689.03,173.28 689.41,173.20 689.79,173.12 690.17,173.07 690.55,173.03 690.93,172.98 691.31,172.94 691.69,172.89 692.07,172.84 692.45,172.79 692.83,172.74 693.22,172.69 693.60,172.63 693.98,172.58 694.36,172.52 694.74,172.45 695.12,172.39 695.50,172.32 695.88,172.25 696.26,172.17 696.64,172.10 697.02,172.01 697.40,171.93 697.78,171.83 698.16,171.74 698.54,171.64 698.92,171.53 699.30,171.41 699.68,171.29 700.06,171.16 700.44,171.02 700.82,170.87 701.20,170.71 701.57,170.54 701.95,170.36 702.33,170.17 702.71,169.96 703.09,169.74 703.47,169.50 703.84,169.24 704.22,168.95 704.60,168.65 704.98,168.35 705.36,168.07 705.73,167.76 706.11,167.41 706.49,167.04 706.86,166.62 707.24,166.16 707.62,165.66 707.99,165.11 708.37,164.50 708.74,163.83 709.11,163.10 709.49,162.31 709.86,161.43 710.23,160.48 710.61,159.43 710.98,158.29 711.35,157.05 711.72,155.69 712.09,154.20 712.46,152.59 712.83,150.83 713.19,148.94 713.56,146.90 713.93,144.70 714.30,142.34 714.66,139.82 715.03,137.13 715.39,134.27 715.76,131.24 716.12,128.05 716.49,124.70 716.85,121.22 717.22,117.60 717.58,113.89 717.95,110.09 718.31,106.25 718.68,102.40 719.04,98.58 719.41,94.83 719.78,91.17 720.15,87.69 720.52,84.43 720.89,81.47 721.26,78.84 721.63,76.60 722.01,74.78 722.39,73.43 722.76,72.57 723.14,72.22 724.92,72.38 725.30,73.05 725.68,74.22 726.06,75.86 726.43,77.94 726.80,80.42 727.17,83.25 727.54,86.38 727.91,89.76 728.28,93.33 728.65,97.05 729.01,100.86 729.38,104.72 729.74,108.57 730.11,112.39 730.47,116.14 730.84,119.80 731.20,123.33 731.57,126.73 731.93,129.97 732.30,133.05 732.66,135.97 733.03,138.72 733.39,141.30 733.76,143.72 734.12,145.97 734.49,148.07 734.86,150.01 735.23,151.81 735.60,153.47 735.97,155.01 736.33,156.42 736.70,157.72 737.08,158.92 737.45,160.01 737.82,161.02 738.19,161.94 738.56,162.79 738.93,163.56 739.31,164.27 739.68,164.92 740.05,165.52 740.43,166.06 740.80,166.55 741.18,167.01 741.55,167.42 741.93,167.80 742.30,168.15 742.68,168.47 743.06,168.76 743.43,169.02 743.81,169.26 744.19,169.48 744.56,169.69 744.94,169.87 745.32,170.04 745.70,170.19 746.07,170.33 746.45,170.46 746.83,170.58 747.21,170.68 747.59,170.78 747.97,170.87 748.34,170.95 748.72,171.02 749.10,171.08 749.48,171.14 749.86,171.20 750.24,171.24 750.62,171.29 751.00,171.33 751.38,171.36 751.76,171.39 752.14,171.42 752.52,171.44 752.90,171.47 753.28,171.48 753.66,171.50 754.04,171.51 754.42,171.52 754.80,171.53 755.18,171.54 755.56,171.55 755.94,171.55 756.32,171.55 756.70,171.55 757.08,171.55 757.46,171.55 757.84,171.55 758.22,171.54 758.60,171.54 758.99,171.53 759.37,171.52 759.75,171.52 760.13,171.51 760.51,171.50 760.89,171.49 761.27,171.48 761.65,171.47 762.03,171.46 762.41,171.45 762.80,171.43 763.18,171.42 763.56,171.41 763.94,171.39 764.32,171.38 764.70,171.36 765.08,171.35 765.46,171.33 765.84,171.32 766.23,171.30 766.61,171.29 766.99,171.27" />
<polyline fill="none" stroke="#2f9c9c" stroke-width="1.5" stroke-linejoin="round" points="538.45,183.00 538.83,182.98 539.21,182.96 539.59,182.94 539.98,182.92 540.36,182.90 540.74,182.89 541.12,182.87 541.50,182.85 541.88,182.83 542.26,182.81 542.65,182.79 543.03,182.77 543.41,182.75 543.79,182.73 544.17,182.71 544.55,182.69 544.93,182.68 545.32,182.66 545.70,182.64 546.08,182.62 546.46,182.60 546.84,182.58 547.22,182.56 547.61,182.54 547.99,182.52 548.37,182.50 548.75,182.48 549.13,182.47 549.51,182.45 549.89,182.43 550.28,182.41 550.66,182.39 551.04,182.37 551.42,182.35 551.80,182.33 552.18,182.31 552.56,182.29 552.95,182.28 553.33,182.26 553.71,182.24 554.09,182.22 554.47,182.20 554.85,182.18 555.23,182.16 555.62,182.14 556.00,182.12 556.38,182.10 556.76,182.08 557.14,182.07 557.52,182.05 557.90,182.03 558.29,182.01 558.67,181.99 559.05,181.97 559.43,181.95 559.81,181.93 560.19,181.91 560.58,181.89 560.96,181.87 561.34,181.86 561.72,181.84 562.10,181.82 562.48,181.80 562.86,181.78 563.25,181.76 563.63,181.74 564.01,181.72 564.39,181.70 564.77,181.68 565.15,181.66 565.53,181.65 565.92,181.63 566.30,181.61 566.68,181.59 567.06,181.57 567.44,181.55 567.82,181.53 568.20,181.51 568.59,181.49 568.97,181.47 569.35,181.45 569.73,181.44 570.11,181.42 570.49,181.40 570.87,181.38 571.26,181.36 571.64,181.34 572.02,181.32 572.40,181.30 572.78,181.28 573.16,181.26 573.55,181.25 573.93,181.23 574.31,181.21 574.69,181.19 575.07,181.17 575.45,181.15 575.83,181.13 576.22,181.11 576.60,181.09 576.98,181.07 577.36,181.05 577.74,181.04 578.12,181.02 578.50,181.00 578.89,180.98 579.27,180.96 579.65,180.94 580.03,180.92 580.41,180.90 580.79,180.88 581.17,180.86 581.56,180.84 581.94,180.83 582.32,180.81 582.70,180.79 583.08,180.77 583.46,180.75 583.84,180.73 584.23,180.71 584.61,180.69 584.99,180.67 585.37,180.65 585.75,180.63 586.13,180.62 586.52,180.60 586.90,180.58 587.28,180.56 587.66,180.54 588.04,180.52 588.42,180.50 588.80,180.48 589.19,180.46 589.57,180.44 589.95,180.42 590.33,180.41 590.71,180.39 591.09,180.37 591.47,180.35 591.86,180.33 592.24,180.31 592.62,180.29 593.00,180.27 593.38,180.25 593.76,180.23 594.14,180.21 594.53,180.20 594.91,180.18 595.29,180.16 595.67,180.14 596.05,180.12 596.43,180.10 596.81,180.08 597.20,180.06 597.58,180.04 597.96,180.02 598.34,180.01 598.72,179.99 599.10,179.97 599.49,179.95 599.87,179.93 600.25,179.91 600.63,179.89 601.01,179.87 601.39,179.85 601.77,179.83 602.16,179.81 602.54,179.80 602.92,179.78 603.30,179.76 603.68,179.74 604.06,179.72 604.44,179.70 604.83,179.68 605.21,179.66 605.59,179.64 605.97,179.62 606.35,179.60 606.73,179.59 607.11,179.57 607.50,179.55 607.88,179.53 608.26,179.51 608.64,179.49 609.02,179.47 609.40,179.45 609.78,179.43 610.17,179.41 610.55,179.39 610.93,179.38 611.31,179.36 611.69,179.34 612.07,179.32 612.46,179.30 612.84,179.28 613.22,179.26 613.60,179.24 613.98,179.22 614.36,179.20 614.74,179.18 615.13,179.17 615.51,179.15 615.89,179.13 616.27,179.11 616.65,179.09 617.03,179.07 617.41,179.05 617.80,179.03 618.18,179.01 618.56,178.99 618.94,178.97 619.32,178.96 619.70,178.94 620.08,178.92 620.47,178.90 620.85,178.88 621.23,178.86 621.61,178.84 621.99,178.82 622.37,178.80 622.75,178.78 623.14,178.76 623.52,178.75 623.90,178.73 624.28,178.71 624.66,178.69 625.04,178.67 625.42,178.65 625.81,178.63 626.19,178.61 626.57,178.59 626.95,178.57 627.33,178.55 627.71,178.54 628.10,178.52 628.48,178.50 628.86,178.48 629.24,178.46 629.62,178.44 630.00,178.42 630.38,178.40 630.77,178.38 631.15,178.36 631.53,178.34 631.91,178.33 632.29,178.31 632.67,178.29 633.05,178.27 633.44,178.25 633.82,178.23 634.20,178.21 634.58,178.19 634.96,178.17 635.34,178.15 635.72,178.13 636.11,178.11 636.49,178.10 636.87,178.08 637.25,178.06 637.63,178.04 638.01,178.02 638.39,178.00 638.78,177.98 639.16,177.96 639.54,177.94 639.92,177.92 640.30,177.90 640.68,177.88 641.07,177.87 641.45,177.85 641.83,177.83 642.21,177.81 642.59,177.79 642.97,177.77 643.35,177.75 643.74,177.73 644.12,177.71 644.50,177.69 644.88,177.67 645.26,177.65 645.64,177.64 646.02,177.62 646.41,177.60 646.79,177.58 647.17,177.56 647.55,177.54 647.93,177.52 648.31,177.50 648.69,177.48 649.08,177.46 649.46,177.44 649.84,177.42 650.22,177.41 650.60,177.39 650.98,177.37 651.36,177.35 651.75,177.33 652.13,177.31 652.51,177.29 652.89,177.27 653.27,177.25 653.65,177.23 654.04,177.21 654.42,177.19 654.80,177.17 655.18,177.15 655.56,177.14 655.94,177.12 656.32,177.10 656.71,177.08 657.09,177.06 657.47,177.04 657.85,177.02 658.23,177.00 658.61,176.98 658.99,176.96 659.38,176.94 659.76,176.92 660.14,176.90 660.52,176.88 660.90,176.86 661.28,176.84 661.66,176.82 662.05,176.80 662.43,176.78 662.81,176.77 663.19,176.75 663.57,176.73 663.95,176.71 664.33,176.69 664.72,176.67 665.10,176.65 665.48,176.63 665.86,176.61 666.24,176.59 666.62,176.57 667.01,176.55 667.39,176.53 667.77,176.51 668.15,176.49 668.53,176.47 668.91,176.45 669.29,176.43 669.68,176.41 670.06,176.39 670.44,176.37 670.82,176.35 671.20,176.33 671.58,176.31 671.96,176.29 672.35,176.26 672.73,176.24 673.11,176.22 673.49,176.20 673.87,176.18 674.25,176.16 674.63,176.14 675.02,176.12 675.40,176.10 675.78,176.08 676.16,176.05 676.54,176.03 676.92,176.01 677.30,175.99 677.69,175.97 678.07,175.95 678.45,175.92 678.83,175.90 679.21,175.88 679.59,175.86 679.98,175.83 680.36,175.81 680.74,175.79 681.12,175.76 681.50,175.74 681.88,175.72 682.26,175.69 682.65,175.67 683.03,175.64 683.41,175.62 683.79,175.59 684.17,175.56 684.55,175.54 684.93,175.51 685.32,175.48 685.70,175.46 686.08,175.43 686.46,175.40 686.84,175.37 687.22,175.34 687.60,175.31 687.99,175.28 688.37,175.25 688.75,175.21 689.13,175.18 689.51,175.15 689.89,175.11 690.27,175.07 690.66,175.04 691.04,175.00 691.42,174.96 691.80,174.92 692.18,174.87 692.56,174.83 692.94,174.78 693.33,174.73 693.71,174.68 694.09,174.63 694.47,174.58 694.85,174.52 695.23,174.46 695.62,174.40 696.00,174.33 696.38,174.26 696.76,174.19 697.14,174.11 697.52,174.03 697.90,173.94 698.29,173.85 698.67,173.75 699.05,173.65 699.43,173.54 699.81,173.42 700.19,173.30 700.57,173.16 700.96,173.02 701.34,172.87 701.72,172.70 702.10,172.53 702.48,172.34 702.86,172.13 703.24,171.91 703.63,171.68 704.01,171.42 704.39,171.15 704.77,170.85 705.15,170.53 705.53,170.18 705.91,169.80 706.30,169.39 706.68,168.95 707.06,168.47 707.44,167.94 707.82,167.37 708.20,166.76 708.59,166.08 708.97,165.35 709.35,164.56 709.73,163.70 710.11,162.76 710.49,161.73 710.87,160.62 711.26,159.42 711.64,158.11 712.02,156.69 712.40,155.15 712.78,153.49 713.16,151.69 713.54,149.75 713.93,147.66 714.31,145.41 714.69,143.01 715.07,140.44 715.45,137.70 715.83,134.79 716.21,131.71 716.60,128.47 716.98,125.08 717.36,121.55 717.74,117.89 718.12,114.12 718.50,110.28 718.88,106.39 719.27,102.49 719.65,98.62 720.03,94.83 720.41,91.17 720.79,87.69 721.17,84.44 721.56,81.48 721.94,78.85 722.32,76.61 722.70,74.80 723.08,73.45 723.46,72.59 723.84,72.24 724.23,72.40 724.61,73.07 724.99,74.24 725.37,75.88 725.75,77.96 726.13,80.44 726.51,83.28 726.90,86.41 727.28,89.79 727.66,93.37 728.04,97.09 728.42,100.90 728.80,104.75 729.18,108.61 729.57,112.43 729.95,116.18 730.33,119.84 730.71,123.38 731.09,126.77 731.47,130.02 731.85,133.11 732.24,136.03 732.62,138.78 733.00,141.36 733.38,143.78 733.76,146.03 734.14,148.13 734.53,150.07 734.91,151.87 735.29,153.54 735.67,155.07 736.05,156.49 736.43,157.79 736.81,158.99 737.20,160.09 737.58,161.10 737.96,162.02 738.34,162.87 738.72,163.65 739.10,164.36 739.48,165.01 739.87,165.60 740.25,166.15 740.63,166.64 741.01,167.10 741.39,167.52 741.77,167.90 742.15,168.25 742.54,168.56 742.92,168.86 743.30,169.12 743.68,169.37 744.06,169.59 744.44,169.79 744.82,169.98 745.21,170.15 745.59,170.30 745.97,170.44 746.35,170.57 746.73,170.69 747.11,170.80 747.50,170.90 747.88,170.99 748.26,171.07 748.64,171.14 749.02,171.21 749.40,171.27 749.78,171.33 750.17,171.38 750.55,171.42 750.93,171.46 751.31,171.50 751.69,171.53 752.07,171.56 752.45,171.59 752.84,171.61 753.22,171.63 753.60,171.65 753.98,171.66 754.36,171.67 754.74,171.68 755.12,171.69 755.51,171.70 755.89,171.71 756.27,171.71 756.65,171.71 757.03,171.71 757.41,171.71 757.79,171.71 758.18,171.71 758.56,171.71 758.94,171.70 759.32,171.70 759.70,171.69 760.08,171.68 760.47,171.68 760.85,171.67 761.23,171.66 761.61,171.65 761.99,171.64 762.37,171.63 762.75,171.62 763.14,171.61 763.52,171.60 763.90,171.58 764.28,171.57 764.66,171.56 765.04,171.54 765.42,171.53 765.81,171.52 766.19,171.50 766.57,171.49 766.95,171.47" />
<polyline fill="none" stroke="#ff22ff" stroke-width="1.6" stroke-linejoin="round" points="538.45,182.99 538.83,182.97 539.21,182.95 539.59,182.93 539.98,182.91 540.36,182.89 540.74,182.87 541.12,182.85 541.50,182.83 541.88,182.81 542.26,182.79 542.65,182.77 543.03,182.75 543.41,182.73 543.79,182.71 544.17,182.69 544.55,182.67 544.93,182.65 545.32,182.63 545.70,182.61 546.08,182.58 546.46,182.56 546.84,182.54 547.22,182.52 547.61,182.50 547.99,182.48 548.37,182.46 548.75,182.44 549.13,182.41 549.51,182.39 549.89,182.37 550.28,182.35 550.66,182.32 551.04,182.30 551.42,182.28 551.80,182.25 552.18,182.23 552.56,182.21 552.95,182.18 553.33,182.16 553.71,182.13 554.09,182.11 554.47,182.08 554.85,182.05 555.23,182.03 555.62,182.00 556.00,181.97 556.38,181.94 556.76,181.91 557.14,181.88 557.52,181.85 557.90,181.82 558.29,181.79 558.67,181.75 559.05,181.72 559.43,181.68 559.81,181.64 560.19,181.60 560.58,181.56 560.96,181.52 561.34,181.47 561.72,181.43 562.10,181.38 562.48,181.32 562.86,181.27 563.25,181.21 563.63,181.15 564.01,181.09 564.39,181.02 564.77,180.95 565.15,180.87 565.53,180.79 565.92,180.70 566.30,180.61 566.68,180.51 567.06,180.40 567.44,180.28 567.82,180.16 568.20,180.03 568.59,179.88 568.97,179.73 569.35,179.56 569.73,179.38 570.11,179.18 570.49,178.97 570.87,178.73 571.26,178.48 571.64,178.21 572.02,177.91 572.40,177.58 572.78,177.22 573.16,176.83 573.55,176.41 573.93,175.94 574.31,175.43 574.69,174.88 575.07,174.27 575.45,173.60 575.83,172.87 576.22,172.08 576.60,171.20 576.98,170.25 577.36,169.20 577.74,168.06 578.12,166.81 578.50,165.44 578.89,163.95 579.27,162.32 579.65,160.55 580.03,158.63 580.41,156.53 580.79,154.26 581.17,151.80 581.56,149.14 581.94,146.28 582.32,143.19 582.70,139.89 583.08,136.35 583.46,132.59 583.84,128.59 584.23,124.37 584.61,119.92 584.99,115.26 585.37,110.41 585.75,105.38 586.13,100.21 586.52,94.93 586.90,89.57 587.28,84.19 587.66,78.83 588.04,73.55 588.42,68.41 588.80,63.48 589.19,58.81 589.57,54.48 589.95,50.56 590.33,47.09 590.71,44.15 591.09,41.77 591.47,40.01 591.86,38.88 592.24,38.42 592.62,38.63 593.00,39.50 593.38,41.01 593.76,43.15 594.14,45.88 594.53,49.14 594.91,52.88 595.29,57.05 595.67,61.57 596.05,66.38 596.43,71.42 596.81,76.63 597.20,81.93 597.58,87.27 597.96,92.60 598.34,97.88 598.72,103.05 599.10,108.09 599.49,112.96 599.87,117.65 600.25,122.13 600.63,126.39 601.01,130.43 601.39,134.23 601.77,137.80 602.16,141.14 602.54,144.26 602.92,147.16 603.30,149.85 603.68,152.33 604.06,154.63 604.44,156.74 604.83,158.68 605.21,160.47 605.59,162.10 605.97,163.60 606.35,164.96 606.73,166.21 607.11,167.35 607.50,168.39 607.88,169.34 608.26,170.20 608.64,170.98 609.02,171.70 609.40,172.35 609.78,172.93 610.17,173.47 610.55,173.95 610.93,174.40 611.31,174.80 611.69,175.16 612.07,175.49 612.46,175.79 612.84,176.06 613.22,176.30 613.60,176.52 613.98,176.72 614.36,176.91 614.74,177.07 615.13,177.22 615.51,177.35 615.89,177.47 616.27,177.58 616.65,177.68 617.03,177.77 617.41,177.85 617.80,177.92 618.18,177.99 618.56,178.04 618.94,178.10 619.32,178.14 619.70,178.18 620.08,178.22 620.47,178.25 620.85,178.28 621.23,178.30 621.61,178.32 621.99,178.34 622.37,178.35 622.75,178.36 623.14,178.37 623.52,178.38 623.90,178.39 624.28,178.39 624.66,178.39 625.04,178.39 625.42,178.39 625.81,178.39 626.19,178.39 626.57,178.38 626.95,178.38 627.33,178.37 627.71,178.36 628.10,178.35 628.48,178.34 628.86,178.33 629.24,178.32 629.62,178.31 630.00,178.30 630.38,178.29 630.77,178.28 631.15,178.26 631.53,178.25 631.91,178.24 632.29,178.22 632.67,178.21 633.05,178.19 633.44,178.18 633.82,178.16 634.20,178.15 634.58,178.13 634.96,178.12 635.34,178.10 635.72,178.09 636.11,178.07 636.49,178.05 636.87,178.04 637.25,178.02 637.63,178.00 638.01,177.99 638.39,177.97 638.78,177.95 639.16,177.93 639.54,177.92 639.92,177.90 640.30,177.88 640.68,177.86 641.07,177.84 641.45,177.83 641.83,177.81 642.21,177.79 642.59,177.77 642.97,177.75 643.35,177.74 643.74,177.72 644.12,177.70 644.50,177.68 644.88,177.66 645.26,177.65 645.64,177.63 646.02,177.61 646.41,177.59 646.79,177.57 647.17,177.55 647.55,177.53 647.93,177.52 648.31,177.50 648.69,177.48 649.08,177.46 649.46,177.44 649.84,177.42 650.22,177.40 650.60,177.38 650.98,177.37 651.36,177.35 651.75,177.33 652.13,177.31 652.51,177.29 652.89,177.27 653.27,177.25 653.65,177.23 654.04,177.22 654.42,177.20 654.80,177.18 655.18,177.16 655.56,177.14 655.94,177.12 656.32,177.10 656.71,177.08 657.09,177.06 657.47,177.05 657.85,177.03 658.23,177.01 658.61,176.99 658.99,176.97 659.38,176.95 659.76,176.93 660.14,176.91 660.52,176.89 660.90,176.87 661.28,176.86 661.66,176.84 662.05,176.82 662.43,176.80 662.81,176.78 663.19,176.76 663.57,176.74 663.95,176.72 664.33,176.70 664.72,176.68 665.10,176.67 665.48,176.65 665.86,176.63 666.24,176.61 666.62,176.59 667.01,176.57 667.39,176.55 667.77,176.53 668.15,176.51 668.53,176.49 668.91,176.48 669.29,176.46 669.68,176.44 670.06,176.42 670.44,176.40 670.82,176.38 671.20,176.36 671.58,176.34 671.96,176.32 672.35,176.30 672.73,176.29 673.11,176.27 673.49,176.25 673.87,176.23 674.25,176.21 674.63,176.19 675.02,176.17 675.40,176.15 675.78,176.13 676.16,176.11 676.54,176.09 676.92,176.08 677.30,176.06 677.69,176.04 678.07,176.02 678.45,176.00 678.83,175.98 679.21,175.96 679.59,175.94 679.98,175.92 680.36,175.90 680.74,175.89 681.12,175.87 681.50,175.85 681.88,175.83 682.26,175.81 682.65,175.79 683.03,175.77 683.41,175.75 683.79,175.73 684.17,175.71 684.55,175.69 684.93,175.68 685.32,175.66 685.70,175.64 686.08,175.62 686.46,175.60 686.84,175.58 687.22,175.56 687.60,175.54 687.99,175.52 688.37,175.50 688.75,175.48 689.13,175.47 689.51,175.45 689.89,175.43 690.27,175.41 690.66,175.39 691.04,175.37 691.42,175.35 691.80,175.33 692.18,175.31 692.56,175.29 692.94,175.28 693.33,175.26 693.71,175.24 694.09,175.22 694.47,175.20 694.85,175.18 695.23,175.16 695.62,175.14 696.00,175.12 696.38,175.10 696.76,175.08 697.14,175.07 697.52,175.05 697.90,175.03 698.29,175.01 698.67,174.99 699.05,174.97 699.43,174.95 699.81,174.93 700.19,174.91 700.57,174.89 700.96,174.87 701.34,174.86 701.72,174.84 702.10,174.82 702.48,174.80 702.86,174.78 703.24,174.76 703.63,174.74 704.01,174.72 704.39,174.70 704.77,174.68 705.15,174.66 705.53,174.65 705.91,174.63 706.30,174.61 706.68,174.59 707.06,174.57 707.44,174.55 707.82,174.53 708.20,174.51 708.59,174.49 708.97,174.47 709.35,174.46 709.73,174.44 710.11,174.42 710.49,174.40 710.87,174.38 711.26,174.36 711.64,174.34 712.02,174.32 712.40,174.30 712.78,174.28 713.16,174.26 713.54,174.25 713.93,174.23 714.31,174.21 714.69,174.19 715.07,174.17 715.45,174.15 715.83,174.13 716.21,174.11 716.60,174.09 716.98,174.07 717.36,174.05 717.74,174.04 718.12,174.02 718.50,174.00 718.88,173.98 719.27,173.96 719.65,173.94 720.03,173.92 720.41,173.90 720.79,173.88 721.17,173.86 721.56,173.84 721.94,173.83 722.32,173.81 722.70,173.79 723.08,173.77 723.46,173.75 723.84,173.73 724.23,173.71 724.61,173.69 724.99,173.67 725.37,173.65 725.75,173.63 726.13,173.62 726.51,173.60 726.90,173.58 727.28,173.56 727.66,173.54 728.04,173.52 728.42,173.50 728.80,173.48 729.18,173.46 729.57,173.44 729.95,173.43 730.33,173.41 730.71,173.39 731.09,173.37 731.47,173.35 731.85,173.33 732.24,173.31 732.62,173.29 733.00,173.27 733.38,173.25 733.76,173.23 734.14,173.22 734.53,173.20 734.91,173.18 735.29,173.16 735.67,173.14 736.05,173.12 736.43,173.10 736.81,173.08 737.20,173.06 737.58,173.04 737.96,173.02 738.34,173.01 738.72,172.99 739.10,172.97 739.48,172.95 739.87,172.93 740.25,172.91 740.63,172.89 741.01,172.87 741.39,172.85 741.77,172.83 742.15,172.81 742.54,172.80 742.92,172.78 743.30,172.76 743.68,172.74 744.06,172.72 744.44,172.70 744.82,172.68 745.21,172.66 745.59,172.64 745.97,172.62 746.35,172.60 746.73,172.59 747.11,172.57 747.50,172.55 747.88,172.53 748.26,172.51 748.64,172.49 749.02,172.47 749.40,172.45 749.78,172.43 750.17,172.41 750.55,172.40 750.93,172.38 751.31,172.36 751.69,172.34 752.07,172.32 752.45,172.30 752.84,172.28 753.22,172.26 753.60,172.24 753.98,172.22 754.36,172.20 754.74,172.19 755.12,172.17 755.51,172.15 755.89,172.13 756.27,172.11 756.65,172.09 757.03,172.07 757.41,172.05 757.79,172.03 758.18,172.01 758.56,171.99 758.94,171.98 759.32,171.96 759.70,171.94 760.08,171.92 760.47,171.90 760.85,171.88 761.23,171.86 761.61,171.84 761.99,171.82 762.37,171.80 762.75,171.78 763.14,171.77 763.52,171.75 763.90,171.73 764.28,171.71 764.66,171.69 765.04,171.67 765.42,171.65 765.81,171.63 766.19,171.61 766.57,171.59 766.95,171.57" />
<rect x="538.45" y="16.45" width="228.50" height="185.45" fill="none" stroke="#0d0d0d" stroke-width="1.4"/>
<line x1="538.45" y1="201.90" x2="538.45" y2="205.70" stroke="#0d0d0d" stroke-width="1.3"/>
<line x1="561.30" y1="201.90" x2="561.30" y2="205.70" stroke="#0d0d0d" stroke-width="1.3"/>
<line x1="584.15" y1="201.90" x2="584.15" y2="205.70" stroke="#0d0d0d" stroke-width="1.3"/>
<line x1="607.00" y1="201.90" x2="607.00" y2="205.70" stroke="#0d0d0d" stroke-width="1.3"/>
<line x1="629.85" y1="201.90" x2="629.85" y2="205.70" stroke="#0d0d0d" stroke-width="1.3"/>
<line x1="652.70" y1="201.90" x2="652.70" y2="205.70" stroke="#0d0d0d" stroke-width="1.3"/>
<line x1="675.55" y1="201.90" x2="675.55" y2="205.70" stroke="#0d0d0d" stroke-width="1.3"/>
<line x1="698.40" y1="201.90" x2="698.40" y2="205.70" stroke="#0d0d0d" stroke-width="1.3"/>
<line x1="721.25" y1="201.90" x2="721.25" y2="205.70" stroke="#0d0d0d" stroke-width="1.3"/>
<line x1="744.10" y1="201.90" x2="744.10" y2="205.70" stroke="#0d0d0d" stroke-width="1.3"/>
<line x1="766.95" y1="201.90" x2="766.95" y2="205.70" stroke="#0d0d0d" stroke-width="1.3"/>
<line x1="549.88" y1="201.90" x2="549.88" y2="203.90" stroke="#0d0d0d" stroke-width="1.3"/>
<line x1="572.73" y1="201.90" x2="572.73" y2="203.90" stroke="#0d0d0d" stroke-width="1.3"/>
<line x1="595.58" y1="201.90" x2="595.58" y2="203.90" stroke="#0d0d0d" stroke-width="1.3"/>
<line x1="618.43" y1="201.90" x2="618.43" y2="203.90" stroke="#0d0d0d" stroke-width="1.3"/>
<line x1="641.28" y1="201.90" x2="641.28" y2="203.90" stroke="#0d0d0d" stroke-width="1.3"/>
<line x1="664.12" y1="201.90" x2="664.12" y2="203.90" stroke="#0d0d0d" stroke-width="1.3"/>
<line x1="686.98" y1="201.90" x2="686.98" y2="203.90" stroke="#0d0d0d" stroke-width="1.3"/>
<line x1="709.83" y1="201.90" x2="709.83" y2="203.90" stroke="#0d0d0d" stroke-width="1.3"/>
<line x1="732.68" y1="201.90" x2="732.68" y2="203.90" stroke="#0d0d0d" stroke-width="1.3"/>
<line x1="755.53" y1="201.90" x2="755.53" y2="203.90" stroke="#0d0d0d" stroke-width="1.3"/>
<text x="538.45" y="216.60" font-family='"Liberation Sans", sans-serif' font-size="10.8" text-anchor="middle" font-weight="normal" fill="#111" stroke="#111" stroke-width="0.25">614</text>
<text x="561.30" y="216.60" font-family='"Liberation Sans", sans-serif' font-size="10.8" text-anchor="middle" font-weight="normal" fill="#111" stroke="#111" stroke-width="0.25">616</text>
<text x="584.15" y="216.60" font-family='"Liberation Sans", sans-serif' font-size="10.8" text-anchor="middle" font-weight="normal" fill="#111" stroke="#111" stroke-width="0.25">618</text>
<text x="607.00" y="216.60" font-family='"Liberation Sans", sans-serif' font-size="10.8" text-anchor="middle" font-weight="normal" fill="#111" stroke="#111" stroke-width="0.25">620</text>
<text x="629.85" y="216.60" font-family='"Liberation Sans", sans-serif' font-size="10.8" text-anchor="middle" font-weight="normal" fill="#111" stroke="#111" stroke-width="0.25">622</text>
<text x="652.70" y="216.60" font-family='"Liberation Sans", sans-serif' font-size="10.8" text-anchor="middle" font-weight="normal" fill="#111" stroke="#111" stroke-width="0.25">624</text>
<text x="675.55" y="216.60" font-family='"Liberation Sans", sans-serif' font-size="10.8" text-anchor="middle" font-weight="normal" fill="#111" stroke="#111" stroke-width="0.25">626</text>
<text x="698.40" y="216.60" font-family='"Liberation Sans", sans-serif' font-size="10.8" text-anchor="middle" font-weight="normal" fill="#111" stroke="#111" stroke-width="0.25">628</text>
<text x="721.25" y="216.60" font-family='"Liberation Sans", sans-serif' font-size="10.8" text-anchor="middle" font-weight="normal" fill="#111" stroke="#111" stroke-width="0.25">630</text>
<text x="744.10" y="216.60" font-family='"Liberation Sans", sans-serif' font-size="10.8" text-anchor="middle" font-weight="normal" fill="#111" stroke="#111" stroke-width="0.25">632</text>
<text x="766.95" y="216.60" font-family='"Liberation Sans", sans-serif' font-size="10.8" text-anchor="middle" font-weight="normal" fill="#111" stroke="#111" stroke-width="0.25">634</text>
<text x="0" y="0" font-family='"Liberation Serif", serif' font-size="15.0" text-anchor="middle" font-weight="normal" fill="#111" transform="translate(642.45 229.40) scale(0.955 1.0)" stroke="#111" stroke-width="0.25">Binding energy (eV)</text>
<text x="0" y="0" font-family='"Liberation Serif", serif' font-size="14.45" text-anchor="middle" font-weight="normal" fill="#111" transform="translate(530.60 97.10) rotate(-90) scale(1.0 0.95)" stroke="#111" stroke-width="0.25">Intensity (a.u.)</text>
<text x="0" y="0" font-family='"Liberation Serif", serif' font-size="14.0" text-anchor="end" font-weight="normal" fill="#111" transform="translate(760.60 33.70) scale(0.93 1.0)" stroke="#111" stroke-width="0.25">I 3d</text>
<text x="0" y="0" font-family='"Liberation Serif", serif' font-size="12.65" text-anchor="middle" font-weight="normal" fill="#111" transform="translate(592.50 33.40) scale(0.9 1.0)" stroke="#111" stroke-width="0.25">618.77 ev</text>
<text x="0" y="0" font-family='"Liberation Serif", serif' font-size="12.65" text-anchor="middle" font-weight="normal" fill="#111" transform="translate(723.60 67.30) scale(0.9 1.0)" stroke="#111" stroke-width="0.25">630.22 ev</text>
<text x="0" y="0" font-family='"Liberation Sans", sans-serif' font-size="23" text-anchor="start" font-weight="bold" fill="#000" transform="translate(521.80 16.90) scale(0.88 1.0)">c</text>
<line x1="78.20" y1="279.00" x2="78.20" y2="426.45" stroke="#c8c8cc" stroke-width="0.9"/>
<line x1="176.00" y1="350.00" x2="176.00" y2="426.45" stroke="#c8c8cc" stroke-width="0.9"/>
<polyline fill="none" stroke="#333" stroke-width="1.0" stroke-linejoin="round" points="18.90,398.34 19.23,398.33 19.55,398.33 19.88,398.32 20.20,398.31 20.53,398.30 20.85,398.29 21.18,398.28 21.51,398.27 21.83,398.26 22.16,398.25 22.48,398.24 22.81,398.23 23.13,398.22 23.46,398.21 23.79,398.20 24.11,398.19 24.44,398.18 24.76,398.17 25.09,398.15 25.42,398.14 25.74,398.13 26.07,398.12 26.39,398.10 26.72,398.09 27.04,398.07 27.37,398.06 27.70,398.04 28.02,398.03 28.35,398.01 28.67,398.00 29.00,397.98 29.32,397.96 29.65,397.95 29.98,397.93 30.30,397.91 30.63,397.89 30.95,397.87 31.28,397.85 31.60,397.83 31.93,397.81 32.26,397.78 32.58,397.76 32.91,397.74 33.23,397.71 33.56,397.69 33.88,397.66 34.21,397.64 34.54,397.61 34.86,397.58 35.19,397.55 35.51,397.52 35.84,397.49 36.16,397.45 36.49,397.42 36.82,397.38 37.14,397.35 37.47,397.31 37.79,397.27 38.12,397.23 38.45,397.19 38.77,397.14 39.10,397.10 39.42,397.05 39.75,397.00 40.07,396.95 40.40,396.90 40.73,396.84 41.05,396.79 41.38,396.73 41.70,396.66 42.03,396.60 42.35,396.53 42.68,396.46 43.01,396.39 43.33,396.31 43.66,396.23 43.98,396.15 44.31,396.06 44.63,395.97 44.96,395.88 45.29,395.78 45.61,395.67 45.94,395.57 46.26,395.45 46.59,395.34 46.91,395.21 47.24,395.08 47.57,394.95 47.89,394.81 48.22,394.66 48.54,394.50 48.87,394.34 49.19,394.17 49.52,393.99 49.85,393.80 50.17,393.60 50.50,393.40 50.82,393.18 51.15,392.95 51.48,392.71 51.80,392.46 52.13,392.20 52.45,391.92 52.78,391.63 53.10,391.32 53.43,391.00 53.76,390.66 54.08,390.31 54.41,389.94 54.73,389.55 55.06,389.13 55.38,388.70 55.71,388.25 56.04,387.77 56.36,387.27 56.69,386.74 57.01,386.18 57.34,385.60 57.66,384.99 57.99,384.35 58.32,383.67 58.64,382.97 58.97,382.22 59.29,381.44 59.62,380.62 59.94,379.76 60.27,378.87 60.60,377.92 60.92,376.94 61.25,375.90 61.57,374.82 61.90,373.69 62.22,372.51 62.55,371.27 62.88,369.98 63.20,368.64 63.53,367.24 63.85,365.78 64.18,364.26 64.51,362.68 64.83,361.04 65.16,359.34 65.48,357.57 65.81,355.75 66.13,353.86 66.46,351.92 66.79,349.91 67.11,347.85 67.44,345.72 67.76,343.54 68.09,341.31 68.41,339.03 68.74,336.70 69.07,334.33 69.39,331.93 69.72,329.48 70.04,327.02 70.37,324.53 70.69,322.02 71.02,319.51 71.35,317.00 71.67,314.50 72.00,312.01 72.32,309.55 72.65,307.13 72.97,304.75 73.30,302.43 73.63,300.18 73.95,298.00 74.28,295.91 74.60,293.91 74.93,292.03 75.25,290.26 75.58,288.61 75.91,287.11 76.23,285.74 76.56,284.53 76.88,283.48 77.21,282.59 77.54,281.87 77.86,281.32 78.19,280.95 78.51,280.76 78.84,280.75 79.16,280.92 79.49,281.27 79.82,281.79 80.14,282.49 80.47,283.35 80.79,284.38 81.12,285.56 81.44,286.90 81.77,288.37 82.10,289.98 82.42,291.71 82.75,293.56 83.07,295.51 83.40,297.56 83.72,299.69 84.05,301.89 84.38,304.16 84.70,306.48 85.03,308.84 85.35,311.24 85.68,313.66 86.00,316.09 86.33,318.53 86.66,320.97 86.98,323.41 87.31,325.82 87.63,328.21 87.96,330.57 88.28,332.90 88.61,335.19 88.94,337.44 89.26,339.64 89.59,341.79 89.91,343.88 90.24,345.92 90.57,347.90 90.89,349.82 91.22,351.68 91.54,353.48 91.87,355.22 92.19,356.90 92.52,358.52 92.85,360.07 93.17,361.57 93.50,363.00 93.82,364.38 94.15,365.70 94.47,366.96 94.80,368.17 95.13,369.32 95.45,370.42 95.78,371.48 96.10,372.48 96.43,373.43 96.75,374.34 97.08,375.21 97.41,376.03 97.73,376.81 98.06,377.56 98.38,378.26 98.71,378.93 99.03,379.57 99.36,380.17 99.69,380.74 100.01,381.28 100.34,381.79 100.66,382.27 100.99,382.73 101.32,383.16 101.64,383.57 101.97,383.96 102.29,384.32 102.62,384.67 102.94,384.99 103.27,385.30 103.60,385.59 103.92,385.86 104.25,386.11 104.57,386.35 104.90,386.58 105.22,386.79 105.55,386.99 105.88,387.18 106.20,387.36 106.53,387.52 106.85,387.68 107.18,387.82 107.50,387.96 107.83,388.09 108.16,388.20 108.48,388.31 108.81,388.42 109.13,388.51 109.46,388.60 109.78,388.68 110.11,388.76 110.44,388.83 110.76,388.89 111.09,388.95 111.41,389.01 111.74,389.05 112.06,389.10 112.39,389.14 112.72,389.18 113.04,389.21 113.37,389.24 113.69,389.26 114.02,389.29 114.35,389.30 114.67,389.32 115.00,389.33 115.32,389.34 115.65,389.35 115.97,389.35 116.30,389.36 116.63,389.36 116.95,389.36 117.28,389.35 117.60,389.34 117.93,389.34 118.25,389.33 118.58,389.31 118.91,389.30 119.23,389.29 119.56,389.27 119.88,389.25 120.21,389.23 120.53,389.21 120.86,389.19 121.19,389.16 121.51,389.14 121.84,389.11 122.16,389.08 122.49,389.05 122.81,389.02 123.14,388.99 123.47,388.95 123.79,388.92 124.12,388.88 124.44,388.85 124.77,388.81 125.09,388.77 125.42,388.73 125.75,388.69 126.07,388.65 126.40,388.60 126.72,388.56 127.05,388.51 127.38,388.46 127.70,388.42 128.03,388.37 128.35,388.32 128.68,388.26 129.00,388.21 129.33,388.16 129.66,388.10 129.98,388.04 130.31,387.99 130.63,387.93 130.96,387.87 131.28,387.81 131.61,387.74 131.94,387.68 132.26,387.61 132.59,387.54 132.91,387.47 133.24,387.40 133.56,387.33 133.89,387.26 134.22,387.18 134.54,387.11 134.87,387.03 135.19,386.95 135.52,386.87 135.84,386.78 136.17,386.69 136.50,386.61 136.82,386.52 137.15,386.42 137.47,386.33 137.80,386.23 138.12,386.14 138.45,386.03 138.78,385.93 139.10,385.83 139.43,385.72 139.75,385.61 140.08,385.49 140.41,385.38 140.73,385.26 141.06,385.14 141.38,385.01 141.71,384.88 142.03,384.75 142.36,384.62 142.69,384.48 143.01,384.34 143.34,384.19 143.66,384.05 143.99,383.89 144.31,383.74 144.64,383.58 144.97,383.42 145.29,383.25 145.62,383.08 145.94,382.90 146.27,382.72 146.59,382.54 146.92,382.35 147.25,382.15 147.57,381.95 147.90,381.75 148.22,381.54 148.55,381.33 148.87,381.11 149.20,380.88 149.53,380.65 149.85,380.41 150.18,380.17 150.50,379.93 150.83,379.67 151.15,379.41 151.48,379.15 151.81,378.87 152.13,378.60 152.46,378.31 152.78,378.02 153.11,377.72 153.44,377.42 153.76,377.11 154.09,376.79 154.41,376.46 154.74,376.13 155.06,375.79 155.39,375.44 155.72,375.09 156.04,374.73 156.37,374.36 156.69,373.99 157.02,373.61 157.34,373.22 157.67,372.83 158.00,372.42 158.32,372.01 158.65,371.60 158.97,371.18 159.30,370.75 159.62,370.32 159.95,369.88 160.28,369.43 160.60,368.98 160.93,368.52 161.25,368.06 161.58,367.60 161.90,367.13 162.23,366.65 162.56,366.18 162.88,365.70 163.21,365.22 163.53,364.73 163.86,364.25 164.18,363.76 164.51,363.27 164.84,362.79 165.16,362.30 165.49,361.82 165.81,361.34 166.14,360.86 166.47,360.38 166.79,359.91 167.12,359.45 167.44,358.99 167.77,358.54 168.09,358.10 168.42,357.67 168.75,357.24 169.07,356.83 169.40,356.42 169.72,356.03 170.05,355.66 170.37,355.29 170.70,354.94 171.03,354.61 171.35,354.29 171.68,353.99 172.00,353.71 172.33,353.45 172.65,353.20 172.98,352.98 173.31,352.77 173.63,352.59 173.96,352.42 174.28,352.28 174.61,352.16 174.93,352.07 175.26,351.99 175.59,351.94 175.91,351.91 176.24,351.91 176.56,351.93 176.89,351.97 177.22,352.03 177.54,352.12 177.87,352.23 178.19,352.36 178.52,352.52 178.84,352.69 179.17,352.89 179.50,353.10 179.82,353.34 180.15,353.59 180.47,353.87 180.80,354.16 181.12,354.47 181.45,354.79 181.78,355.13 182.10,355.49 182.43,355.86 182.75,356.24 183.08,356.63 183.40,357.04 183.73,357.46 184.06,357.88 184.38,358.32 184.71,358.76 185.03,359.21 185.36,359.67 185.68,360.13 186.01,360.60 186.34,361.07 186.66,361.54 186.99,362.02 187.31,362.50 187.64,362.98 187.96,363.46 188.29,363.94 188.62,364.42 188.94,364.89 189.27,365.37 189.59,365.84 189.92,366.31 190.25,366.78 190.57,367.24 190.90,367.70 191.22,368.16 191.55,368.61 191.87,369.05 192.20,369.49 192.53,369.92 192.85,370.35 193.18,370.77 193.50,371.19 193.83,371.60 194.15,372.00 194.48,372.39 194.81,372.78 195.13,373.16 195.46,373.54 195.78,373.90 196.11,374.27 196.43,374.62 196.76,374.96 197.09,375.30 197.41,375.64 197.74,375.96 198.06,376.28 198.39,376.59 198.71,376.89 199.04,377.19 199.37,377.48 199.69,377.76 200.02,378.04 200.34,378.31 200.67,378.58 200.99,378.83 201.32,379.09 201.65,379.33 201.97,379.57 202.30,379.80 202.62,380.03 202.95,380.25 203.28,380.47 203.60,380.68 203.93,380.89 204.25,381.09 204.58,381.28 204.90,381.47 205.23,381.65 205.56,381.83 205.88,382.01 206.21,382.18 206.53,382.35 206.86,382.51 207.18,382.67 207.51,382.82 207.84,382.97 208.16,383.11 208.49,383.26 208.81,383.39 209.14,383.53 209.46,383.66 209.79,383.79 210.12,383.91 210.44,384.03 210.77,384.15 211.09,384.26 211.42,384.37 211.74,384.48 212.07,384.58 212.40,384.69 212.72,384.79 213.05,384.88 213.37,384.98 213.70,385.07 214.02,385.16 214.35,385.24 214.68,385.33 215.00,385.41 215.33,385.49 215.65,385.57 215.98,385.64 216.31,385.72 216.63,385.79 216.96,385.86 217.28,385.93 217.61,386.00 217.93,386.06 218.26,386.12 218.59,386.18 218.91,386.24 219.24,386.30 219.56,386.36 219.89,386.41 220.21,386.47 220.54,386.52 220.87,386.57 221.19,386.62 221.52,386.67 221.84,386.72 222.17,386.76 222.49,386.81 222.82,386.85 223.15,386.89 223.47,386.94 223.80,386.98 224.12,387.02 224.45,387.05 224.77,387.09 225.10,387.13 225.43,387.16 225.75,387.20 226.08,387.23 226.40,387.27 226.73,387.30 227.05,387.33 227.38,387.36 227.71,387.39 228.03,387.42 228.36,387.45 228.68,387.48 229.01,387.50 229.34,387.53 229.66,387.55 229.99,387.58 230.31,387.60 230.64,387.63 230.96,387.65 231.29,387.68 231.62,387.70 231.94,387.72 232.27,387.74 232.59,387.76 232.92,387.78 233.24,387.80 233.57,387.82 233.90,387.84 234.22,387.86 234.55,387.88 234.87,387.89 235.20,387.91 235.52,387.93 235.85,387.95 236.18,387.96 236.50,387.98 236.83,387.99 237.15,388.01 237.48,388.02 237.80,388.04 238.13,388.05 238.46,388.07 238.78,388.08 239.11,388.09 239.43,388.10 239.76,388.12 240.08,388.13 240.41,388.14 240.74,388.15 241.06,388.17 241.39,388.18 241.71,388.19 242.04,388.20 242.37,388.21 242.69,388.22 243.02,388.23 243.34,388.24 243.67,388.25 243.99,388.26 244.32,388.27 244.65,388.28 244.97,388.29 245.30,388.30 245.62,388.30 245.95,388.31 246.27,388.32 246.60,388.33" />
<polyline fill="none" stroke="#ee3333" stroke-width="1.3" stroke-linejoin="round" points="18.90,398.43 19.23,398.43 19.55,398.42 19.88,398.42 20.20,398.41 20.53,398.40 20.85,398.40 21.18,398.39 21.51,398.39 21.83,398.38 22.16,398.38 22.48,398.37 22.81,398.36 23.13,398.36 23.46,398.35 23.79,398.35 24.11,398.34 24.44,398.33 24.76,398.33 25.09,398.32 25.42,398.31 25.74,398.31 26.07,398.30 26.39,398.29 26.72,398.29 27.04,398.28 27.37,398.27 27.70,398.26 28.02,398.26 28.35,398.25 28.67,398.24 29.00,398.23 29.32,398.23 29.65,398.22 29.98,398.21 30.30,398.20 30.63,398.19 30.95,398.18 31.28,398.18 31.60,398.17 31.93,398.16 32.26,398.15 32.58,398.14 32.91,398.13 33.23,398.12 33.56,398.11 33.88,398.10 34.21,398.09 34.54,398.08 34.86,398.07 35.19,398.06 35.51,398.05 35.84,398.04 36.16,398.03 36.49,398.02 36.82,398.01 37.14,398.00 37.47,397.99 37.79,397.98 38.12,397.97 38.45,397.96 38.77,397.95 39.10,397.94 39.42,397.92 39.75,397.91 40.07,397.90 40.40,397.89 40.73,397.88 41.05,397.86 41.38,397.85 41.70,397.84 42.03,397.83 42.35,397.81 42.68,397.80 43.01,397.79 43.33,397.77 43.66,397.76 43.98,397.74 44.31,397.73 44.63,397.72 44.96,397.70 45.29,397.69 45.61,397.67 45.94,397.66 46.26,397.64 46.59,397.63 46.91,397.61 47.24,397.60 47.57,397.58 47.89,397.57 48.22,397.55 48.54,397.53 48.87,397.52 49.19,397.50 49.52,397.48 49.85,397.47 50.17,397.45 50.50,397.43 50.82,397.41 51.15,397.40 51.48,397.38 51.80,397.36 52.13,397.34 52.45,397.32 52.78,397.31 53.10,397.29 53.43,397.27 53.76,397.25 54.08,397.23 54.41,397.21 54.73,397.19 55.06,397.17 55.38,397.15 55.71,397.13 56.04,397.11 56.36,397.09 56.69,397.06 57.01,397.04 57.34,397.02 57.66,397.00 57.99,396.98 58.32,396.96 58.64,396.93 58.97,396.91 59.29,396.89 59.62,396.86 59.94,396.84 60.27,396.82 60.60,396.79 60.92,396.77 61.25,396.75 61.57,396.72 61.90,396.70 62.22,396.67 62.55,396.65 62.88,396.62 63.20,396.59 63.53,396.57 63.85,396.54 64.18,396.52 64.51,396.49 64.83,396.46 65.16,396.44 65.48,396.41 65.81,396.38 66.13,396.35 66.46,396.33 66.79,396.30 67.11,396.27 67.44,396.24 67.76,396.21 68.09,396.18 68.41,396.16 68.74,396.13 69.07,396.10 69.39,396.07 69.72,396.04 70.04,396.01 70.37,395.98 70.69,395.94 71.02,395.91 71.35,395.88 71.67,395.85 72.00,395.82 72.32,395.79 72.65,395.76 72.97,395.72 73.30,395.69 73.63,395.66 73.95,395.63 74.28,395.59 74.60,395.56 74.93,395.53 75.25,395.49 75.58,395.46 75.91,395.43 76.23,395.39 76.56,395.36 76.88,395.32 77.21,395.29 77.54,395.25 77.86,395.22 78.19,395.18 78.51,395.15 78.84,395.11 79.16,395.08 79.49,395.04 79.82,395.00 80.14,394.97 80.47,394.93 80.79,394.89 81.12,394.86 81.44,394.82 81.77,394.78 82.10,394.75 82.42,394.71 82.75,394.67 83.07,394.63 83.40,394.59 83.72,394.56 84.05,394.52 84.38,394.48 84.70,394.44 85.03,394.40 85.35,394.36 85.68,394.33 86.00,394.29 86.33,394.25 86.66,394.21 86.98,394.17 87.31,394.13 87.63,394.09 87.96,394.05 88.28,394.01 88.61,393.97 88.94,393.93 89.26,393.89 89.59,393.85 89.91,393.81 90.24,393.77 90.57,393.73 90.89,393.69 91.22,393.65 91.54,393.61 91.87,393.57 92.19,393.53 92.52,393.49 92.85,393.45 93.17,393.41 93.50,393.36 93.82,393.32 94.15,393.28 94.47,393.24 94.80,393.20 95.13,393.16 95.45,393.12 95.78,393.08 96.10,393.04 96.43,392.99 96.75,392.95 97.08,392.91 97.41,392.87 97.73,392.83 98.06,392.79 98.38,392.75 98.71,392.70 99.03,392.66 99.36,392.62 99.69,392.58 100.01,392.54 100.34,392.50 100.66,392.45 100.99,392.41 101.32,392.37 101.64,392.33 101.97,392.29 102.29,392.25 102.62,392.20 102.94,392.16 103.27,392.12 103.60,392.08 103.92,392.04 104.25,392.00 104.57,391.95 104.90,391.91 105.22,391.87 105.55,391.83 105.88,391.79 106.20,391.74 106.53,391.70 106.85,391.66 107.18,391.62 107.50,391.58 107.83,391.54 108.16,391.49 108.48,391.45 108.81,391.41 109.13,391.37 109.46,391.32 109.78,391.28 110.11,391.24 110.44,391.20 110.76,391.16 111.09,391.11 111.41,391.07 111.74,391.03 112.06,390.99 112.39,390.94 112.72,390.90 113.04,390.86 113.37,390.81 113.69,390.77 114.02,390.73 114.35,390.69 114.67,390.64 115.00,390.60 115.32,390.55 115.65,390.51 115.97,390.47 116.30,390.42 116.63,390.38 116.95,390.33 117.28,390.29 117.60,390.24 117.93,390.20 118.25,390.15 118.58,390.11 118.91,390.06 119.23,390.02 119.56,389.97 119.88,389.92 120.21,389.88 120.53,389.83 120.86,389.78 121.19,389.74 121.51,389.69 121.84,389.64 122.16,389.59 122.49,389.54 122.81,389.49 123.14,389.44 123.47,389.39 123.79,389.34 124.12,389.29 124.44,389.24 124.77,389.18 125.09,389.13 125.42,389.08 125.75,389.02 126.07,388.97 126.40,388.91 126.72,388.86 127.05,388.80 127.38,388.74 127.70,388.68 128.03,388.63 128.35,388.57 128.68,388.50 129.00,388.44 129.33,388.38 129.66,388.32 129.98,388.25 130.31,388.19 130.63,388.12 130.96,388.06 131.28,387.99 131.61,387.92 131.94,387.85 132.26,387.78 132.59,387.70 132.91,387.63 133.24,387.55 133.56,387.48 133.89,387.40 134.22,387.32 134.54,387.24 134.87,387.15 135.19,387.07 135.52,386.98 135.84,386.90 136.17,386.81 136.50,386.71 136.82,386.62 137.15,386.53 137.47,386.43 137.80,386.33 138.12,386.23 138.45,386.12 138.78,386.02 139.10,385.91 139.43,385.80 139.75,385.68 140.08,385.57 140.41,385.45 140.73,385.33 141.06,385.20 141.38,385.08 141.71,384.95 142.03,384.81 142.36,384.68 142.69,384.54 143.01,384.40 143.34,384.25 143.66,384.10 143.99,383.95 144.31,383.79 144.64,383.63 144.97,383.46 145.29,383.30 145.62,383.12 145.94,382.95 146.27,382.76 146.59,382.58 146.92,382.39 147.25,382.19 147.57,381.99 147.90,381.79 148.22,381.58 148.55,381.36 148.87,381.14 149.20,380.91 149.53,380.68 149.85,380.45 150.18,380.20 150.50,379.96 150.83,379.70 151.15,379.44 151.48,379.17 151.81,378.90 152.13,378.62 152.46,378.34 152.78,378.04 153.11,377.75 153.44,377.44 153.76,377.13 154.09,376.81 154.41,376.48 154.74,376.15 155.06,375.81 155.39,375.46 155.72,375.11 156.04,374.75 156.37,374.38 156.69,374.01 157.02,373.63 157.34,373.24 157.67,372.84 158.00,372.44 158.32,372.03 158.65,371.62 158.97,371.19 159.30,370.77 159.62,370.33 159.95,369.89 160.28,369.44 160.60,368.99 160.93,368.54 161.25,368.08 161.58,367.61 161.90,367.14 162.23,366.67 162.56,366.19 162.88,365.71 163.21,365.23 163.53,364.74 163.86,364.26 164.18,363.77 164.51,363.28 164.84,362.80 165.16,362.31 165.49,361.83 165.81,361.35 166.14,360.87 166.47,360.39 166.79,359.92 167.12,359.46 167.44,359.00 167.77,358.55 168.09,358.11 168.42,357.67 168.75,357.25 169.07,356.83 169.40,356.43 169.72,356.04 170.05,355.66 170.37,355.30 170.70,354.95 171.03,354.62 171.35,354.30 171.68,354.00 172.00,353.72 172.33,353.45 172.65,353.21 172.98,352.98 173.31,352.78 173.63,352.59 173.96,352.43 174.28,352.29 174.61,352.17 174.93,352.07 175.26,352.00 175.59,351.95 175.91,351.92 176.24,351.91 176.56,351.93 176.89,351.97 177.22,352.04 177.54,352.13 177.87,352.23 178.19,352.37 178.52,352.52 178.84,352.69 179.17,352.89 179.50,353.11 179.82,353.34 180.15,353.60 180.47,353.87 180.80,354.16 181.12,354.47 181.45,354.79 181.78,355.13 182.10,355.49 182.43,355.86 182.75,356.24 183.08,356.64 183.40,357.04 183.73,357.46 184.06,357.89 184.38,358.32 184.71,358.76 185.03,359.21 185.36,359.67 185.68,360.13 186.01,360.60 186.34,361.07 186.66,361.55 186.99,362.02 187.31,362.50 187.64,362.98 187.96,363.46 188.29,363.94 188.62,364.42 188.94,364.90 189.27,365.37 189.59,365.84 189.92,366.31 190.25,366.78 190.57,367.24 190.90,367.70 191.22,368.16 191.55,368.61 191.87,369.05 192.20,369.49 192.53,369.93 192.85,370.35 193.18,370.77 193.50,371.19 193.83,371.60 194.15,372.00 194.48,372.39 194.81,372.78 195.13,373.16 195.46,373.54 195.78,373.91 196.11,374.27 196.43,374.62 196.76,374.97 197.09,375.31 197.41,375.64 197.74,375.96 198.06,376.28 198.39,376.59 198.71,376.89 199.04,377.19 199.37,377.48 199.69,377.77 200.02,378.04 200.34,378.31 200.67,378.58 200.99,378.84 201.32,379.09 201.65,379.33 201.97,379.57 202.30,379.80 202.62,380.03 202.95,380.25 203.28,380.47 203.60,380.68 203.93,380.89 204.25,381.09 204.58,381.28 204.90,381.47 205.23,381.66 205.56,381.84 205.88,382.01 206.21,382.18 206.53,382.35 206.86,382.51 207.18,382.67 207.51,382.82 207.84,382.97 208.16,383.12 208.49,383.26 208.81,383.39 209.14,383.53 209.46,383.66 209.79,383.79 210.12,383.91 210.44,384.03 210.77,384.15 211.09,384.26 211.42,384.37 211.74,384.48 212.07,384.58 212.40,384.69 212.72,384.79 213.05,384.88 213.37,384.98 213.70,385.07 214.02,385.16 214.35,385.24 214.68,385.33 215.00,385.41 215.33,385.49 215.65,385.57 215.98,385.65 216.31,385.72 216.63,385.79 216.96,385.86 217.28,385.93 217.61,386.00 217.93,386.06 218.26,386.12 218.59,386.19 218.91,386.24 219.24,386.30 219.56,386.36 219.89,386.41 220.21,386.47 220.54,386.52 220.87,386.57 221.19,386.62 221.52,386.67 221.84,386.72 222.17,386.76 222.49,386.81 222.82,386.85 223.15,386.89 223.47,386.94 223.80,386.98 224.12,387.02 224.45,387.05 224.77,387.09 225.10,387.13 225.43,387.16 225.75,387.20 226.08,387.23 226.40,387.27 226.73,387.30 227.05,387.33 227.38,387.36 227.71,387.39 228.03,387.42 228.36,387.45 228.68,387.48 229.01,387.50 229.34,387.53 229.66,387.56 229.99,387.58 230.31,387.60 230.64,387.63 230.96,387.65 231.29,387.68 231.62,387.70 231.94,387.72 232.27,387.74 232.59,387.76 232.92,387.78 233.24,387.80 233.57,387.82 233.90,387.84 234.22,387.86 234.55,387.88 234.87,387.89 235.20,387.91 235.52,387.93 235.85,387.95 236.18,387.96 236.50,387.98 236.83,387.99 237.15,388.01 237.48,388.02 237.80,388.04 238.13,388.05 238.46,388.07 238.78,388.08 239.11,388.09 239.43,388.11 239.76,388.12 240.08,388.13 240.41,388.14 240.74,388.15 241.06,388.17 241.39,388.18 241.71,388.19 242.04,388.20 242.37,388.21 242.69,388.22 243.02,388.23 243.34,388.24 243.67,388.25 243.99,388.26 244.32,388.27 244.65,388.28 244.97,388.29 245.30,388.30 245.62,388.30 245.95,388.31 246.27,388.32 246.60,388.33" />
<polyline fill="none" stroke="#111" stroke-width="1.1" stroke-linejoin="round" points="19.70,402.79 21.70,397.22 23.76,396.52 25.42,401.35 27.49,399.17 29.96,400.64 31.44,395.48 33.48,401.27 35.97,393.76 37.77,398.34 39.62,394.11 41.71,398.08 43.80,396.22 45.57,399.23 47.48,393.14 49.87,395.57 51.80,394.57 53.71,392.09 55.89,384.68 57.73,384.40 59.99,376.46 61.52,374.71 63.73,362.68 65.69,355.96 67.61,341.14 69.75,328.32 71.54,312.61 73.88,296.99 75.92,285.02 77.48,280.27 79.68,278.92 81.57,287.06 83.45,297.70 85.94,316.83 87.66,331.52 89.49,339.03 91.80,357.82 93.52,360.94 95.94,376.18 97.53,373.66 99.42,378.88 101.52,376.49 103.61,388.16 105.68,382.05 107.94,388.29 109.82,389.18 111.60,381.85 113.41,389.79 115.50,383.00 118.00,383.51 119.68,389.23 121.81,385.88 123.43,390.85 125.42,382.28 127.91,389.54 129.75,383.20 131.59,388.94 133.59,384.18 135.45,389.48 137.50,384.22 139.41,382.36 141.90,380.76 143.68,380.17 145.48,380.46 147.84,383.44 149.52,376.18 151.44,381.55 153.76,373.50 155.94,376.16 157.42,373.68 159.88,368.06 161.51,369.96 163.46,359.80 165.41,362.28 167.58,354.72 169.84,358.31 171.70,351.39 173.91,354.00 175.53,347.49 177.59,356.64 179.55,351.07 181.99,350.90 183.96,358.87 185.60,360.70 187.66,361.59 189.59,366.24 191.85,367.41 193.42,373.80 195.44,369.87 197.64,379.89 199.55,376.41 201.91,382.32 203.85,379.58 205.73,381.41 207.80,387.15 209.82,382.42 211.87,388.11 213.96,383.06 215.49,388.67 217.78,385.67 219.49,389.80 221.67,382.17 223.87,390.01 225.94,385.84 227.86,391.61 229.42,389.21 231.62,385.55 233.50,388.76 236.00,387.15 237.49,391.15 239.55,387.98 241.61,384.53 243.44,385.61 245.80,384.03" />
<polyline fill="none" stroke="#33dd33" stroke-width="1.3" stroke-linejoin="round" points="18.90,395.91 19.23,395.90 19.55,395.89 19.88,395.88 20.20,395.86 20.53,395.85 20.85,395.84 21.18,395.82 21.51,395.81 21.83,395.80 22.16,395.78 22.48,395.77 22.81,395.75 23.13,395.74 23.46,395.73 23.79,395.71 24.11,395.70 24.44,395.68 24.76,395.67 25.09,395.65 25.42,395.64 25.74,395.62 26.07,395.60 26.39,395.59 26.72,395.57 27.04,395.55 27.37,395.54 27.70,395.52 28.02,395.50 28.35,395.48 28.67,395.47 29.00,395.45 29.32,395.43 29.65,395.41 29.98,395.39 30.30,395.37 30.63,395.35 30.95,395.33 31.28,395.31 31.60,395.28 31.93,395.26 32.26,395.24 32.58,395.21 32.91,395.19 33.23,395.16 33.56,395.14 33.88,395.11 34.21,395.08 34.54,395.06 34.86,395.03 35.19,395.00 35.51,394.97 35.84,394.94 36.16,394.90 36.49,394.87 36.82,394.84 37.14,394.80 37.47,394.76 37.79,394.73 38.12,394.69 38.45,394.65 38.77,394.60 39.10,394.56 39.42,394.51 39.75,394.47 40.07,394.42 40.40,394.37 40.73,394.31 41.05,394.26 41.38,394.20 41.70,394.14 42.03,394.08 42.35,394.02 42.68,393.95 43.01,393.88 43.33,393.81 43.66,393.73 43.98,393.65 44.31,393.57 44.63,393.49 44.96,393.40 45.29,393.30 45.61,393.20 45.94,393.10 46.26,392.99 46.59,392.88 46.91,392.76 47.24,392.64 47.57,392.51 47.89,392.37 48.22,392.23 48.54,392.08 48.87,391.92 49.19,391.76 49.52,391.59 49.85,391.41 50.17,391.22 50.50,391.02 50.82,390.81 51.15,390.59 51.48,390.36 51.80,390.12 52.13,389.86 52.45,389.59 52.78,389.31 53.10,389.01 53.43,388.70 53.76,388.37 54.08,388.03 54.41,387.67 54.73,387.28 55.06,386.88 55.38,386.46 55.71,386.02 56.04,385.55 56.36,385.06 56.69,384.54 57.01,384.00 57.34,383.43 57.66,382.83 57.99,382.20 58.32,381.54 58.64,380.84 58.97,380.11 59.29,379.35 59.62,378.54 59.94,377.70 60.27,376.81 60.60,375.88 60.92,374.91 61.25,373.89 61.57,372.82 61.90,371.71 62.22,370.54 62.55,369.32 62.88,368.05 63.20,366.72 63.53,365.33 63.85,363.89 64.18,362.38 64.51,360.82 64.83,359.20 65.16,357.52 65.48,355.77 65.81,353.96 66.13,352.10 66.46,350.17 66.79,348.18 67.11,346.13 67.44,344.03 67.76,341.87 68.09,339.66 68.41,337.39 68.74,335.09 69.07,332.74 69.39,330.35 69.72,327.93 70.04,325.48 70.37,323.01 70.69,320.53 71.02,318.04 71.35,315.55 71.67,313.06 72.00,310.60 72.32,308.16 72.65,305.76 72.97,303.41 73.30,301.11 73.63,298.88 73.95,296.73 74.28,294.66 74.60,292.69 74.93,290.82 75.25,289.08 75.58,287.46 75.91,285.97 76.23,284.63 76.56,283.45 76.88,282.42 77.21,281.55 77.54,280.86 77.86,280.34 78.19,279.99 78.51,279.83 78.84,279.84 79.16,280.04 79.49,280.41 79.82,280.96 80.14,281.68 80.47,282.58 80.79,283.63 81.12,284.84 81.44,286.20 81.77,287.71 82.10,289.34 82.42,291.10 82.75,292.98 83.07,294.96 83.40,297.03 83.72,299.19 84.05,301.42 84.38,303.72 84.70,306.06 85.03,308.46 85.35,310.88 85.68,313.33 86.00,315.80 86.33,318.27 86.66,320.74 86.98,323.20 87.31,325.64 87.63,328.06 87.96,330.46 88.28,332.81 88.61,335.13 88.94,337.41 89.26,339.64 89.59,341.82 89.91,343.94 90.24,346.01 90.57,348.02 90.89,349.97 91.22,351.87 91.54,353.70 91.87,355.47 92.19,357.18 92.52,358.82 92.85,360.41 93.17,361.94 93.50,363.40 93.82,364.81 94.15,366.16 94.47,367.45 94.80,368.69 95.13,369.88 95.45,371.01 95.78,372.10 96.10,373.13 96.43,374.12 96.75,375.06 97.08,375.95 97.41,376.81 97.73,377.62 98.06,378.40 98.38,379.13 98.71,379.84 99.03,380.50 99.36,381.14 99.69,381.74 100.01,382.31 100.34,382.85 100.66,383.37 100.99,383.86 101.32,384.32 101.64,384.76 101.97,385.18 102.29,385.58 102.62,385.95 102.94,386.31 103.27,386.65 103.60,386.97 103.92,387.27 104.25,387.56 104.57,387.83 104.90,388.09 105.22,388.34 105.55,388.57 105.88,388.79 106.20,389.00 106.53,389.19 106.85,389.38 107.18,389.56 107.50,389.73 107.83,389.89 108.16,390.04 108.48,390.18 108.81,390.31 109.13,390.44 109.46,390.56 109.78,390.68 110.11,390.78 110.44,390.89 110.76,390.98 111.09,391.08 111.41,391.16 111.74,391.24 112.06,391.32 112.39,391.40 112.72,391.46 113.04,391.53 113.37,391.59 113.69,391.65 114.02,391.71 114.35,391.76 114.67,391.81 115.00,391.85 115.32,391.90 115.65,391.94 115.97,391.98 116.30,392.02 116.63,392.05 116.95,392.08 117.28,392.11 117.60,392.14 117.93,392.17 118.25,392.19 118.58,392.22 118.91,392.24 119.23,392.26 119.56,392.28 119.88,392.30 120.21,392.32 120.53,392.33 120.86,392.35 121.19,392.36 121.51,392.37 121.84,392.38 122.16,392.39 122.49,392.40 122.81,392.41 123.14,392.42 123.47,392.43 123.79,392.44 124.12,392.44 124.44,392.45 124.77,392.45 125.09,392.46 125.42,392.46 125.75,392.46 126.07,392.47 126.40,392.47 126.72,392.47 127.05,392.47 127.38,392.47 127.70,392.47 128.03,392.47 128.35,392.47 128.68,392.47 129.00,392.47 129.33,392.47 129.66,392.46 129.98,392.46 130.31,392.46 130.63,392.46 130.96,392.45 131.28,392.45 131.61,392.45 131.94,392.44 132.26,392.44 132.59,392.43 132.91,392.43 133.24,392.42 133.56,392.42 133.89,392.41 134.22,392.41 134.54,392.40 134.87,392.40 135.19,392.39 135.52,392.39 135.84,392.38 136.17,392.37 136.50,392.37 136.82,392.36 137.15,392.36 137.47,392.35 137.80,392.34 138.12,392.33 138.45,392.33 138.78,392.32 139.10,392.31 139.43,392.31 139.75,392.30 140.08,392.29 140.41,392.28 140.73,392.28 141.06,392.27 141.38,392.26 141.71,392.25 142.03,392.25 142.36,392.24 142.69,392.23 143.01,392.22 143.34,392.21 143.66,392.21 143.99,392.20 144.31,392.19 144.64,392.18 144.97,392.17 145.29,392.16 145.62,392.16 145.94,392.15 146.27,392.14 146.59,392.13 146.92,392.12 147.25,392.11 147.57,392.10 147.90,392.10 148.22,392.09 148.55,392.08 148.87,392.07 149.20,392.06 149.53,392.05 149.85,392.04 150.18,392.03 150.50,392.02 150.83,392.02 151.15,392.01 151.48,392.00 151.81,391.99 152.13,391.98 152.46,391.97 152.78,391.96 153.11,391.95 153.44,391.94 153.76,391.93 154.09,391.92 154.41,391.92 154.74,391.91 155.06,391.90 155.39,391.89 155.72,391.88 156.04,391.87 156.37,391.86 156.69,391.85 157.02,391.84 157.34,391.83 157.67,391.82 158.00,391.81 158.32,391.80 158.65,391.79 158.97,391.79 159.30,391.78 159.62,391.77 159.95,391.76 160.28,391.75 160.60,391.74 160.93,391.73 161.25,391.72 161.58,391.71 161.90,391.70 162.23,391.69 162.56,391.68 162.88,391.67 163.21,391.66 163.53,391.65 163.86,391.64 164.18,391.63 164.51,391.62 164.84,391.61 165.16,391.61 165.49,391.60 165.81,391.59 166.14,391.58 166.47,391.57 166.79,391.56 167.12,391.55 167.44,391.54 167.77,391.53 168.09,391.52 168.42,391.51 168.75,391.50 169.07,391.49 169.40,391.48 169.72,391.47 170.05,391.46 170.37,391.45 170.70,391.44 171.03,391.43 171.35,391.42 171.68,391.41 172.00,391.40 172.33,391.39 172.65,391.38 172.98,391.37 173.31,391.37 173.63,391.36 173.96,391.35 174.28,391.34 174.61,391.33 174.93,391.32 175.26,391.31 175.59,391.30 175.91,391.29 176.24,391.28 176.56,391.27 176.89,391.26 177.22,391.25 177.54,391.24 177.87,391.23 178.19,391.22 178.52,391.21 178.84,391.20 179.17,391.19 179.50,391.18 179.82,391.17 180.15,391.16 180.47,391.15 180.80,391.14 181.12,391.13 181.45,391.12 181.78,391.11 182.10,391.10 182.43,391.09 182.75,391.08 183.08,391.07 183.40,391.06 183.73,391.06 184.06,391.05 184.38,391.04 184.71,391.03 185.03,391.02 185.36,391.01 185.68,391.00 186.01,390.99 186.34,390.98 186.66,390.97 186.99,390.96 187.31,390.95 187.64,390.94 187.96,390.93 188.29,390.92 188.62,390.91 188.94,390.90 189.27,390.89 189.59,390.88 189.92,390.87 190.25,390.86 190.57,390.85 190.90,390.84 191.22,390.83 191.55,390.82 191.87,390.81 192.20,390.80 192.53,390.79 192.85,390.78 193.18,390.77 193.50,390.76 193.83,390.75 194.15,390.74 194.48,390.73 194.81,390.72 195.13,390.71 195.46,390.70 195.78,390.69 196.11,390.69 196.43,390.68 196.76,390.67 197.09,390.66 197.41,390.65 197.74,390.64 198.06,390.63 198.39,390.62 198.71,390.61 199.04,390.60 199.37,390.59 199.69,390.58 200.02,390.57 200.34,390.56 200.67,390.55 200.99,390.54 201.32,390.53 201.65,390.52 201.97,390.51 202.30,390.50 202.62,390.49 202.95,390.48 203.28,390.47 203.60,390.46 203.93,390.45 204.25,390.44 204.58,390.43 204.90,390.42 205.23,390.41 205.56,390.40 205.88,390.39 206.21,390.38 206.53,390.37 206.86,390.36 207.18,390.35 207.51,390.34 207.84,390.33 208.16,390.32 208.49,390.31 208.81,390.30 209.14,390.30 209.46,390.29 209.79,390.28 210.12,390.27 210.44,390.26 210.77,390.25 211.09,390.24 211.42,390.23 211.74,390.22 212.07,390.21 212.40,390.20 212.72,390.19 213.05,390.18 213.37,390.17 213.70,390.16 214.02,390.15 214.35,390.14 214.68,390.13 215.00,390.12 215.33,390.11 215.65,390.10 215.98,390.09 216.31,390.08 216.63,390.07 216.96,390.06 217.28,390.05 217.61,390.04 217.93,390.03 218.26,390.02 218.59,390.01 218.91,390.00 219.24,389.99 219.56,389.98 219.89,389.97 220.21,389.96 220.54,389.95 220.87,389.94 221.19,389.93 221.52,389.92 221.84,389.91 222.17,389.90 222.49,389.89 222.82,389.88 223.15,389.88 223.47,389.87 223.80,389.86 224.12,389.85 224.45,389.84 224.77,389.83 225.10,389.82 225.43,389.81 225.75,389.80 226.08,389.79 226.40,389.78 226.73,389.77 227.05,389.76 227.38,389.75 227.71,389.74 228.03,389.73 228.36,389.72 228.68,389.71 229.01,389.70 229.34,389.69 229.66,389.68 229.99,389.67 230.31,389.66 230.64,389.65 230.96,389.64 231.29,389.63 231.62,389.62 231.94,389.61 232.27,389.60 232.59,389.59 232.92,389.58 233.24,389.57 233.57,389.56 233.90,389.55 234.22,389.54 234.55,389.53 234.87,389.52 235.20,389.51 235.52,389.50 235.85,389.49 236.18,389.48 236.50,389.47 236.83,389.46 237.15,389.46 237.48,389.45 237.80,389.44 238.13,389.43 238.46,389.42 238.78,389.41 239.11,389.40 239.43,389.39 239.76,389.38 240.08,389.37 240.41,389.36 240.74,389.35 241.06,389.34 241.39,389.33 241.71,389.32 242.04,389.31 242.37,389.30 242.69,389.29 243.02,389.28 243.34,389.27 243.67,389.26 243.99,389.25 244.32,389.24 244.65,389.23 244.97,389.22 245.30,389.21 245.62,389.20 245.95,389.19 246.27,389.18 246.60,389.17" />
<rect x="18.90" y="257.15" width="227.70" height="169.30" fill="none" stroke="#0d0d0d" stroke-width="1.4"/>
<line x1="44.20" y1="426.45" x2="44.20" y2="430.25" stroke="#0d0d0d" stroke-width="1.3"/>
<line x1="77.93" y1="426.45" x2="77.93" y2="430.25" stroke="#0d0d0d" stroke-width="1.3"/>
<line x1="111.67" y1="426.45" x2="111.67" y2="430.25" stroke="#0d0d0d" stroke-width="1.3"/>
<line x1="145.40" y1="426.45" x2="145.40" y2="430.25" stroke="#0d0d0d" stroke-width="1.3"/>
<line x1="179.13" y1="426.45" x2="179.13" y2="430.25" stroke="#0d0d0d" stroke-width="1.3"/>
<line x1="212.87" y1="426.45" x2="212.87" y2="430.25" stroke="#0d0d0d" stroke-width="1.3"/>
<line x1="246.60" y1="426.45" x2="246.60" y2="430.25" stroke="#0d0d0d" stroke-width="1.3"/>
<line x1="27.33" y1="426.45" x2="27.33" y2="428.45" stroke="#0d0d0d" stroke-width="1.3"/>
<line x1="61.07" y1="426.45" x2="61.07" y2="428.45" stroke="#0d0d0d" stroke-width="1.3"/>
<line x1="94.80" y1="426.45" x2="94.80" y2="428.45" stroke="#0d0d0d" stroke-width="1.3"/>
<line x1="128.53" y1="426.45" x2="128.53" y2="428.45" stroke="#0d0d0d" stroke-width="1.3"/>
<line x1="162.27" y1="426.45" x2="162.27" y2="428.45" stroke="#0d0d0d" stroke-width="1.3"/>
<line x1="196.00" y1="426.45" x2="196.00" y2="428.45" stroke="#0d0d0d" stroke-width="1.3"/>
<line x1="229.73" y1="426.45" x2="229.73" y2="428.45" stroke="#0d0d0d" stroke-width="1.3"/>
<text x="0" y="0" font-family='"Liberation Serif", serif' font-size="11.0" text-anchor="middle" font-weight="normal" fill="#111" transform="translate(44.20 439.90) scale(0.89 1.0)" stroke="#111" stroke-width="0.25">456</text>
<text x="0" y="0" font-family='"Liberation Serif", serif' font-size="11.0" text-anchor="middle" font-weight="normal" fill="#111" transform="translate(77.93 439.90) scale(0.89 1.0)" stroke="#111" stroke-width="0.25">458</text>
<text x="0" y="0" font-family='"Liberation Serif", serif' font-size="11.0" text-anchor="middle" font-weight="normal" fill="#111" transform="translate(111.67 439.90) scale(0.89 1.0)" stroke="#111" stroke-width="0.25">460</text>
<text x="0" y="0" font-family='"Liberation Serif", serif' font-size="11.0" text-anchor="middle" font-weight="normal" fill="#111" transform="translate(145.40 439.90) scale(0.89 1.0)" stroke="#111" stroke-width="0.25">462</text>
<text x="0" y="0" font-family='"Liberation Serif", serif' font-size="11.0" text-anchor="middle" font-weight="normal" fill="#111" transform="translate(179.13 439.90) scale(0.89 1.0)" stroke="#111" stroke-width="0.25">464</text>
<text x="0" y="0" font-family='"Liberation Serif", serif' font-size="11.0" text-anchor="middle" font-weight="normal" fill="#111" transform="translate(212.87 439.90) scale(0.89 1.0)" stroke="#111" stroke-width="0.25">466</text>
<text x="0" y="0" font-family='"Liberation Serif", serif' font-size="11.0" text-anchor="middle" font-weight="normal" fill="#111" transform="translate(246.60 439.90) scale(0.89 1.0)" stroke="#111" stroke-width="0.25">468</text>
<text x="117.30" y="452.70" font-family='"Liberation Serif", serif' font-size="13.9" text-anchor="middle" font-weight="normal" fill="#111" stroke="#111" stroke-width="0.25">Binding energy (eV)</text>
<text x="0" y="0" font-family='"Liberation Serif", serif' font-size="13.65" text-anchor="middle" font-weight="normal" fill="#111" transform="translate(11.80 330.25) rotate(-90) scale(1.0 0.95)" stroke="#111" stroke-width="0.25">Intensity (a.u.)</text>
<text x="0" y="0" font-family='"Liberation Serif", serif' font-size="12.3" text-anchor="end" font-weight="normal" fill="#111" transform="translate(239.00 272.30) scale(0.9 1.0)" stroke="#111" stroke-width="0.25">Ti 2p</text>
<text x="0" y="0" font-family='"Liberation Sans", sans-serif' font-size="9.0" text-anchor="middle" font-weight="normal" fill="#111" transform="translate(78.80 274.50) scale(0.93 1.0)" stroke="#111" stroke-width="0.25">458.0</text>
<text x="0" y="0" font-family='"Liberation Sans", sans-serif' font-size="9.0" text-anchor="middle" font-weight="normal" fill="#111" transform="translate(175.35 344.80) scale(0.93 1.0)" stroke="#111" stroke-width="0.25">463.8</text>
<text x="0" y="0" font-family='"Liberation Sans", sans-serif' font-size="22.3" text-anchor="start" font-weight="bold" fill="#000" transform="translate(0.90 254.90) scale(0.9 1.0)">d</text>
<line x1="362.20" y1="272.00" x2="362.20" y2="432.00" stroke="#c8c8cc" stroke-width="0.9"/>
<line x1="395.30" y1="300.00" x2="395.30" y2="432.00" stroke="#c8c8cc" stroke-width="0.9"/>
<polyline fill="none" stroke="#ff3366" stroke-width="1.2" stroke-linejoin="round" points="276.65,409.00 276.98,409.00 277.30,409.00 277.63,409.01 277.95,409.01 278.28,409.01 278.61,409.01 278.93,409.02 279.26,409.02 279.59,409.02 279.91,409.02 280.24,409.03 280.56,409.03 280.89,409.03 281.22,409.03 281.54,409.03 281.87,409.04 282.20,409.04 282.52,409.04 282.85,409.04 283.17,409.05 283.50,409.05 283.83,409.05 284.15,409.05 284.48,409.05 284.80,409.06 285.13,409.06 285.46,409.06 285.78,409.06 286.11,409.07 286.44,409.07 286.76,409.07 287.09,409.07 287.41,409.08 287.74,409.08 288.07,409.08 288.39,409.08 288.72,409.08 289.04,409.09 289.37,409.09 289.70,409.09 290.02,409.09 290.35,409.10 290.68,409.10 291.00,409.10 291.33,409.10 291.65,409.11 291.98,409.11 292.31,409.11 292.63,409.11 292.96,409.11 293.29,409.12 293.61,409.12 293.94,409.12 294.26,409.12 294.59,409.13 294.92,409.13 295.24,409.13 295.57,409.13 295.89,409.14 296.22,409.14 296.55,409.14 296.87,409.14 297.20,409.14 297.53,409.15 297.85,409.15 298.18,409.15 298.50,409.15 298.83,409.16 299.16,409.16 299.48,409.16 299.81,409.16 300.13,409.16 300.46,409.17 300.79,409.17 301.11,409.17 301.44,409.17 301.77,409.18 302.09,409.18 302.42,409.18 302.74,409.18 303.07,409.19 303.40,409.19 303.72,409.19 304.05,409.19 304.38,409.19 304.70,409.20 305.03,409.20 305.35,409.20 305.68,409.20 306.01,409.21 306.33,409.21 306.66,409.21 306.98,409.21 307.31,409.22 307.64,409.22 307.96,409.22 308.29,409.22 308.62,409.22 308.94,409.23 309.27,409.23 309.59,409.23 309.92,409.23 310.25,409.24 310.57,409.24 310.90,409.24 311.23,409.24 311.55,409.24 311.88,409.25 312.20,409.25 312.53,409.25 312.86,409.25 313.18,409.26 313.51,409.26 313.83,409.26 314.16,409.26 314.49,409.27 314.81,409.27 315.14,409.27 315.47,409.27 315.79,409.27 316.12,409.28 316.44,409.28 316.77,409.28 317.10,409.28 317.42,409.29 317.75,409.29 318.07,409.29 318.40,409.29 318.73,409.30 319.05,409.30 319.38,409.30 319.71,409.30 320.03,409.30 320.36,409.31 320.68,409.31 321.01,409.31 321.34,409.31 321.66,409.32 321.99,409.32 322.32,409.32 322.64,409.32 322.97,409.33 323.29,409.33 323.62,409.33 323.95,409.33 324.27,409.33 324.60,409.34 324.92,409.34 325.25,409.34 325.58,409.34 325.90,409.35 326.23,409.35 326.56,409.35 326.88,409.35 327.21,409.35 327.53,409.36 327.86,409.36 328.19,409.36 328.51,409.36 328.84,409.37 329.17,409.37 329.49,409.37 329.82,409.37 330.14,409.38 330.47,409.38 330.80,409.38 331.12,409.38 331.45,409.38 331.77,409.39 332.10,409.39 332.43,409.39 332.75,409.39 333.08,409.40 333.41,409.40 333.73,409.40 334.06,409.40 334.38,409.41 334.71,409.41 335.04,409.41 335.36,409.41 335.69,409.41 336.01,409.42 336.34,409.42 336.67,409.42 336.99,409.42 337.32,409.43 337.65,409.43 337.97,409.43 338.30,409.43 338.62,409.43 338.95,409.44 339.28,409.44 339.60,409.44 339.93,409.44 340.26,409.45 340.58,409.45 340.91,409.45 341.23,409.45 341.56,409.46 341.89,409.46 342.21,409.46 342.54,409.46 342.86,409.46 343.19,409.47 343.52,409.47 343.84,409.47 344.17,409.47 344.50,409.48 344.82,409.48 345.15,409.48 345.47,409.48 345.80,409.49 346.13,409.49 346.45,409.49 346.78,409.49 347.10,409.49 347.43,409.50 347.76,409.50 348.08,409.50 348.41,409.50 348.74,409.51 349.06,409.51 349.39,409.51 349.71,409.51 350.04,409.52 350.37,409.52 350.69,409.52 351.02,409.52 351.35,409.52 351.67,409.53 352.00,409.53 352.32,409.53 352.65,409.53 352.98,409.54 353.30,409.54 353.63,409.54 353.95,409.54 354.28,409.54 354.61,409.55 354.93,409.55 355.26,409.55 355.59,409.55 355.91,409.56 356.24,409.56 356.56,409.56 356.89,409.56 357.22,409.57 357.54,409.57 357.87,409.57 358.20,409.57 358.52,409.57 358.85,409.58 359.17,409.58 359.50,409.58 359.83,409.58 360.15,409.59 360.48,409.59 360.80,409.59 361.13,409.59 361.46,409.60 361.78,409.60 362.11,409.60 362.44,409.60 362.76,409.60 363.09,409.61 363.41,409.61 363.74,409.61 364.07,409.61 364.39,409.62 364.72,409.62 365.04,409.62 365.37,409.62 365.70,409.62 366.02,409.63 366.35,409.63 366.68,409.63 367.00,409.63 367.33,409.64 367.65,409.64 367.98,409.64 368.31,409.64 368.63,409.65 368.96,409.65 369.29,409.65 369.61,409.65 369.94,409.65 370.26,409.66 370.59,409.66 370.92,409.66 371.24,409.66 371.57,409.67 371.89,409.67 372.22,409.67 372.55,409.67 372.87,409.68 373.20,409.68 373.53,409.68 373.85,409.68 374.18,409.68 374.50,409.69 374.83,409.69 375.16,409.69 375.48,409.69 375.81,409.70 376.13,409.70 376.46,409.70 376.79,409.70 377.11,409.71 377.44,409.71 377.77,409.71 378.09,409.71 378.42,409.71 378.74,409.72 379.07,409.72 379.40,409.72 379.72,409.72 380.05,409.73 380.38,409.73 380.70,409.73 381.03,409.73 381.35,409.73 381.68,409.74 382.01,409.74 382.33,409.74 382.66,409.74 382.98,409.75 383.31,409.75 383.64,409.75 383.96,409.75 384.29,409.76 384.62,409.76 384.94,409.76 385.27,409.76 385.59,409.76 385.92,409.77 386.25,409.77 386.57,409.77 386.90,409.77 387.23,409.78 387.55,409.78 387.88,409.78 388.20,409.78 388.53,409.79 388.86,409.79 389.18,409.79 389.51,409.79 389.83,409.79 390.16,409.80 390.49,409.80 390.81,409.80 391.14,409.80 391.47,409.81 391.79,409.81 392.12,409.81 392.44,409.81 392.77,409.81 393.10,409.82 393.42,409.82 393.75,409.82 394.07,409.82 394.40,409.83 394.73,409.83 395.05,409.83 395.38,409.83 395.71,409.84 396.03,409.84 396.36,409.84 396.68,409.84 397.01,409.84 397.34,409.85 397.66,409.85 397.99,409.85 398.32,409.85 398.64,409.86 398.97,409.86 399.29,409.86 399.62,409.86 399.95,409.87 400.27,409.87 400.60,409.87 400.92,409.87 401.25,409.87 401.58,409.88 401.90,409.88 402.23,409.88 402.56,409.88 402.88,409.89 403.21,409.89 403.53,409.89 403.86,409.89 404.19,409.89 404.51,409.90 404.84,409.90 405.17,409.90 405.49,409.90 405.82,409.91 406.14,409.91 406.47,409.91 406.80,409.91 407.12,409.92 407.45,409.92 407.77,409.92 408.10,409.92 408.43,409.92 408.75,409.93 409.08,409.93 409.41,409.93 409.73,409.93 410.06,409.94 410.38,409.94 410.71,409.94 411.04,409.94 411.36,409.95 411.69,409.95 412.01,409.95 412.34,409.95 412.67,409.95 412.99,409.96 413.32,409.96 413.65,409.96 413.97,409.96 414.30,409.97 414.62,409.97 414.95,409.97 415.28,409.97 415.60,409.98 415.93,409.98 416.26,409.98 416.58,409.98 416.91,409.98 417.23,409.99 417.56,409.99 417.89,409.99 418.21,409.99 418.54,410.00 418.86,410.00 419.19,410.00 419.52,410.00 419.84,410.00 420.17,410.01 420.50,410.01 420.82,410.01 421.15,410.01 421.47,410.02 421.80,410.02 422.13,410.02 422.45,410.02 422.78,410.03 423.10,410.03 423.43,410.03 423.76,410.03 424.08,410.03 424.41,410.04 424.74,410.04 425.06,410.04 425.39,410.04 425.71,410.05 426.04,410.05 426.37,410.05 426.69,410.05 427.02,410.06 427.35,410.06 427.67,410.06 428.00,410.06 428.32,410.06 428.65,410.07 428.98,410.07 429.30,410.07 429.63,410.07 429.95,410.08 430.28,410.08 430.61,410.08 430.93,410.08 431.26,410.08 431.59,410.09 431.91,410.09 432.24,410.09 432.56,410.09 432.89,410.10 433.22,410.10 433.54,410.10 433.87,410.10 434.20,410.11 434.52,410.11 434.85,410.11 435.17,410.11 435.50,410.11 435.83,410.12 436.15,410.12 436.48,410.12 436.80,410.12 437.13,410.13 437.46,410.13 437.78,410.13 438.11,410.13 438.44,410.14 438.76,410.14 439.09,410.14 439.41,410.14 439.74,410.14 440.07,410.15 440.39,410.15 440.72,410.15 441.04,410.15 441.37,410.16 441.70,410.16 442.02,410.16 442.35,410.16 442.68,410.17 443.00,410.17 443.33,410.17 443.65,410.17 443.98,410.17 444.31,410.18 444.63,410.18 444.96,410.18 445.29,410.18 445.61,410.19 445.94,410.19 446.26,410.19 446.59,410.19 446.92,410.19 447.24,410.20 447.57,410.20 447.89,410.20 448.22,410.20 448.55,410.21 448.87,410.21 449.20,410.21 449.53,410.21 449.85,410.22 450.18,410.22 450.50,410.22 450.83,410.22 451.16,410.22 451.48,410.23 451.81,410.23 452.13,410.23 452.46,410.23 452.79,410.24 453.11,410.24 453.44,410.24 453.77,410.24 454.09,410.25 454.42,410.25 454.74,410.25 455.07,410.25 455.40,410.25 455.72,410.26 456.05,410.26 456.38,410.26 456.70,410.26 457.03,410.27 457.35,410.27 457.68,410.27 458.01,410.27 458.33,410.27 458.66,410.28 458.98,410.28 459.31,410.28 459.64,410.28 459.96,410.29 460.29,410.29 460.62,410.29 460.94,410.29 461.27,410.30 461.59,410.30 461.92,410.30 462.25,410.30 462.57,410.30 462.90,410.31 463.23,410.31 463.55,410.31 463.88,410.31 464.20,410.32 464.53,410.32 464.86,410.32 465.18,410.32 465.51,410.33 465.83,410.33 466.16,410.33 466.49,410.33 466.81,410.33 467.14,410.34 467.47,410.34 467.79,410.34 468.12,410.34 468.44,410.35 468.77,410.35 469.10,410.35 469.42,410.35 469.75,410.36 470.07,410.36 470.40,410.36 470.73,410.36 471.05,410.36 471.38,410.37 471.71,410.37 472.03,410.37 472.36,410.37 472.68,410.38 473.01,410.38 473.34,410.38 473.66,410.38 473.99,410.38 474.32,410.39 474.64,410.39 474.97,410.39 475.29,410.39 475.62,410.40 475.95,410.40 476.27,410.40 476.60,410.40 476.92,410.41 477.25,410.41 477.58,410.41 477.90,410.41 478.23,410.41 478.56,410.42 478.88,410.42 479.21,410.42 479.53,410.42 479.86,410.43 480.19,410.43 480.51,410.43 480.84,410.43 481.17,410.44 481.49,410.44 481.82,410.44 482.14,410.44 482.47,410.44 482.80,410.45 483.12,410.45 483.45,410.45 483.77,410.45 484.10,410.46 484.43,410.46 484.75,410.46 485.08,410.46 485.41,410.46 485.73,410.47 486.06,410.47 486.38,410.47 486.71,410.47 487.04,410.48 487.36,410.48 487.69,410.48 488.01,410.48 488.34,410.49 488.67,410.49 488.99,410.49 489.32,410.49 489.65,410.49 489.97,410.50 490.30,410.50 490.62,410.50 490.95,410.50 491.28,410.51 491.60,410.51 491.93,410.51 492.26,410.51 492.58,410.52 492.91,410.52 493.23,410.52 493.56,410.52 493.89,410.52 494.21,410.53 494.54,410.53 494.86,410.53 495.19,410.53 495.52,410.54 495.84,410.54 496.17,410.54 496.50,410.54 496.82,410.55 497.15,410.55 497.47,410.55 497.80,410.55 498.13,410.55 498.45,410.56 498.78,410.56 499.10,410.56 499.43,410.56 499.76,410.57 500.08,410.57 500.41,410.57 500.74,410.57 501.06,410.57 501.39,410.58 501.71,410.58 502.04,410.58 502.37,410.58 502.69,410.59 503.02,410.59 503.35,410.59 503.67,410.59 504.00,410.60 504.32,410.60 504.65,410.60" />
<polyline fill="none" stroke="#2a2ab0" stroke-width="1.2" stroke-linejoin="round" points="276.65,409.13 276.98,409.14 277.30,409.14 277.63,409.14 277.95,409.14 278.28,409.14 278.61,409.14 278.93,409.14 279.26,409.14 279.59,409.14 279.91,409.14 280.24,409.14 280.56,409.14 280.89,409.14 281.22,409.15 281.54,409.15 281.87,409.15 282.20,409.15 282.52,409.15 282.85,409.15 283.17,409.15 283.50,409.15 283.83,409.15 284.15,409.15 284.48,409.15 284.80,409.15 285.13,409.15 285.46,409.15 285.78,409.15 286.11,409.15 286.44,409.15 286.76,409.15 287.09,409.15 287.41,409.15 287.74,409.15 288.07,409.15 288.39,409.15 288.72,409.15 289.04,409.15 289.37,409.15 289.70,409.15 290.02,409.15 290.35,409.15 290.68,409.15 291.00,409.15 291.33,409.15 291.65,409.15 291.98,409.15 292.31,409.15 292.63,409.15 292.96,409.15 293.29,409.15 293.61,409.15 293.94,409.15 294.26,409.15 294.59,409.15 294.92,409.15 295.24,409.15 295.57,409.15 295.89,409.15 296.22,409.15 296.55,409.15 296.87,409.15 297.20,409.14 297.53,409.14 297.85,409.14 298.18,409.14 298.50,409.14 298.83,409.14 299.16,409.14 299.48,409.14 299.81,409.14 300.13,409.14 300.46,409.13 300.79,409.13 301.11,409.13 301.44,409.13 301.77,409.13 302.09,409.13 302.42,409.13 302.74,409.12 303.07,409.12 303.40,409.12 303.72,409.12 304.05,409.12 304.38,409.11 304.70,409.11 305.03,409.11 305.35,409.11 305.68,409.11 306.01,409.10 306.33,409.10 306.66,409.10 306.98,409.10 307.31,409.09 307.64,409.09 307.96,409.09 308.29,409.09 308.62,409.08 308.94,409.08 309.27,409.08 309.59,409.08 309.92,409.07 310.25,409.07 310.57,409.07 310.90,409.06 311.23,409.06 311.55,409.06 311.88,409.05 312.20,409.05 312.53,409.04 312.86,409.04 313.18,409.04 313.51,409.03 313.83,409.03 314.16,409.02 314.49,409.02 314.81,409.01 315.14,409.01 315.47,409.01 315.79,409.00 316.12,409.00 316.44,408.99 316.77,408.99 317.10,408.98 317.42,408.97 317.75,408.97 318.07,408.96 318.40,408.96 318.73,408.95 319.05,408.94 319.38,408.94 319.71,408.93 320.03,408.93 320.36,408.92 320.68,408.91 321.01,408.90 321.34,408.90 321.66,408.89 321.99,408.88 322.32,408.87 322.64,408.87 322.97,408.86 323.29,408.85 323.62,408.84 323.95,408.83 324.27,408.82 324.60,408.81 324.92,408.81 325.25,408.80 325.58,408.79 325.90,408.78 326.23,408.77 326.56,408.76 326.88,408.74 327.21,408.73 327.53,408.72 327.86,408.71 328.19,408.70 328.51,408.69 328.84,408.67 329.17,408.66 329.49,408.65 329.82,408.64 330.14,408.62 330.47,408.61 330.80,408.60 331.12,408.58 331.45,408.57 331.77,408.55 332.10,408.54 332.43,408.52 332.75,408.50 333.08,408.49 333.41,408.47 333.73,408.45 334.06,408.44 334.38,408.42 334.71,408.40 335.04,408.38 335.36,408.36 335.69,408.34 336.01,408.32 336.34,408.30 336.67,408.28 336.99,408.26 337.32,408.23 337.65,408.21 337.97,408.19 338.30,408.16 338.62,408.14 338.95,408.11 339.28,408.09 339.60,408.06 339.93,408.03 340.26,408.01 340.58,407.98 340.91,407.95 341.23,407.92 341.56,407.89 341.89,407.86 342.21,407.83 342.54,407.79 342.86,407.76 343.19,407.72 343.52,407.69 343.84,407.65 344.17,407.62 344.50,407.58 344.82,407.54 345.15,407.50 345.47,407.46 345.80,407.41 346.13,407.37 346.45,407.33 346.78,407.28 347.10,407.23 347.43,407.19 347.76,407.14 348.08,407.09 348.41,407.03 348.74,406.98 349.06,406.93 349.39,406.87 349.71,406.81 350.04,406.75 350.37,406.69 350.69,406.63 351.02,406.56 351.35,406.50 351.67,406.43 352.00,406.36 352.32,406.29 352.65,406.21 352.98,406.14 353.30,406.06 353.63,405.98 353.95,405.90 354.28,405.81 354.61,405.72 354.93,405.63 355.26,405.54 355.59,405.45 355.91,405.35 356.24,405.25 356.56,405.14 356.89,405.03 357.22,404.92 357.54,404.81 357.87,404.69 358.20,404.57 358.52,404.45 358.85,404.32 359.17,404.19 359.50,404.05 359.83,403.91 360.15,403.76 360.48,403.61 360.80,403.46 361.13,403.30 361.46,403.14 361.78,402.97 362.11,402.79 362.44,402.61 362.76,402.43 363.09,402.23 363.41,402.03 363.74,401.83 364.07,401.62 364.39,401.40 364.72,401.17 365.04,400.94 365.37,400.69 365.70,400.44 366.02,400.19 366.35,399.92 366.68,399.64 367.00,399.36 367.33,399.06 367.65,398.75 367.98,398.44 368.31,398.11 368.63,397.77 368.96,397.42 369.29,397.06 369.61,396.68 369.94,396.29 370.26,395.89 370.59,395.47 370.92,395.04 371.24,394.60 371.57,394.13 371.89,393.65 372.22,393.16 372.55,392.64 372.87,392.11 373.20,391.56 373.53,390.99 373.85,390.40 374.18,389.78 374.50,389.15 374.83,388.49 375.16,387.81 375.48,387.11 375.81,386.38 376.13,385.62 376.46,384.84 376.79,384.03 377.11,383.20 377.44,382.33 377.77,381.44 378.09,380.51 378.42,379.55 378.74,378.56 379.07,377.54 379.40,376.49 379.72,375.40 380.05,374.28 380.38,373.12 380.70,371.93 381.03,370.70 381.35,369.43 381.68,368.13 382.01,366.80 382.33,365.43 382.66,364.02 382.98,362.58 383.31,361.10 383.64,359.59 383.96,358.04 384.29,356.47 384.62,354.86 384.94,353.23 385.27,351.57 385.59,349.89 385.92,348.19 386.25,346.47 386.57,344.74 386.90,343.00 387.23,341.25 387.55,339.49 387.88,337.75 388.20,336.01 388.53,334.28 388.86,332.57 389.18,330.89 389.51,329.24 389.83,327.63 390.16,326.06 390.49,324.55 390.81,323.09 391.14,321.70 391.47,320.38 391.79,319.15 392.12,317.99 392.44,316.93 392.77,315.97 393.10,315.11 393.42,314.36 393.75,313.72 394.07,313.20 394.40,312.80 394.73,312.52 395.05,312.37 395.38,312.34 395.71,312.43 396.03,312.65 396.36,313.00 396.68,313.46 397.01,314.04 397.34,314.74 397.66,315.55 397.99,316.47 398.32,317.48 398.64,318.59 398.97,319.79 399.29,321.07 399.62,322.43 399.95,323.86 400.27,325.35 400.60,326.90 400.92,328.49 401.25,330.12 401.58,331.80 401.90,333.49 402.23,335.22 402.56,336.96 402.88,338.70 403.21,340.46 403.53,342.22 403.86,343.97 404.19,345.71 404.51,347.44 404.84,349.16 405.17,350.86 405.49,352.53 405.82,354.18 406.14,355.80 406.47,357.40 406.80,358.96 407.12,360.50 407.45,361.99 407.77,363.46 408.10,364.89 408.43,366.28 408.75,367.64 409.08,368.97 409.41,370.25 409.73,371.51 410.06,372.72 410.38,373.90 410.71,375.05 411.04,376.16 411.36,377.23 411.69,378.28 412.01,379.29 412.34,380.26 412.67,381.21 412.99,382.12 413.32,383.01 413.65,383.87 413.97,384.69 414.30,385.49 414.62,386.27 414.95,387.01 415.28,387.74 415.60,388.43 415.93,389.11 416.26,389.76 416.58,390.38 416.91,390.99 417.23,391.58 417.56,392.14 417.89,392.69 418.21,393.22 418.54,393.73 418.86,394.22 419.19,394.70 419.52,395.16 419.84,395.60 420.17,396.03 420.50,396.44 420.82,396.84 421.15,397.23 421.47,397.60 421.80,397.97 422.13,398.32 422.45,398.65 422.78,398.98 423.10,399.30 423.43,399.60 423.76,399.90 424.08,400.18 424.41,400.46 424.74,400.73 425.06,400.98 425.39,401.24 425.71,401.48 426.04,401.71 426.37,401.94 426.69,402.16 427.02,402.37 427.35,402.58 427.67,402.78 428.00,402.98 428.32,403.16 428.65,403.35 428.98,403.52 429.30,403.69 429.63,403.86 429.95,404.02 430.28,404.18 430.61,404.33 430.93,404.48 431.26,404.62 431.59,404.76 431.91,404.90 432.24,405.03 432.56,405.15 432.89,405.28 433.22,405.40 433.54,405.52 433.87,405.63 434.20,405.74 434.52,405.85 434.85,405.95 435.17,406.05 435.50,406.15 435.83,406.25 436.15,406.34 436.48,406.43 436.80,406.52 437.13,406.61 437.46,406.69 437.78,406.77 438.11,406.85 438.44,406.93 438.76,407.00 439.09,407.08 439.41,407.15 439.74,407.22 440.07,407.29 440.39,407.35 440.72,407.42 441.04,407.48 441.37,407.54 441.70,407.60 442.02,407.66 442.35,407.72 442.68,407.78 443.00,407.83 443.33,407.88 443.65,407.94 443.98,407.99 444.31,408.04 444.63,408.09 444.96,408.13 445.29,408.18 445.61,408.22 445.94,408.27 446.26,408.31 446.59,408.35 446.92,408.40 447.24,408.44 447.57,408.48 447.89,408.51 448.22,408.55 448.55,408.59 448.87,408.63 449.20,408.66 449.53,408.70 449.85,408.73 450.18,408.76 450.50,408.80 450.83,408.83 451.16,408.86 451.48,408.89 451.81,408.92 452.13,408.95 452.46,408.98 452.79,409.01 453.11,409.03 453.44,409.06 453.77,409.09 454.09,409.11 454.42,409.14 454.74,409.16 455.07,409.19 455.40,409.21 455.72,409.24 456.05,409.26 456.38,409.28 456.70,409.31 457.03,409.33 457.35,409.35 457.68,409.37 458.01,409.39 458.33,409.41 458.66,409.43 458.98,409.45 459.31,409.47 459.64,409.49 459.96,409.51 460.29,409.53 460.62,409.55 460.94,409.56 461.27,409.58 461.59,409.60 461.92,409.62 462.25,409.63 462.57,409.65 462.90,409.67 463.23,409.68 463.55,409.70 463.88,409.71 464.20,409.73 464.53,409.74 464.86,409.76 465.18,409.77 465.51,409.79 465.83,409.80 466.16,409.81 466.49,409.83 466.81,409.84 467.14,409.85 467.47,409.87 467.79,409.88 468.12,409.89 468.44,409.90 468.77,409.92 469.10,409.93 469.42,409.94 469.75,409.95 470.07,409.96 470.40,409.98 470.73,409.99 471.05,410.00 471.38,410.01 471.71,410.02 472.03,410.03 472.36,410.04 472.68,410.05 473.01,410.06 473.34,410.07 473.66,410.08 473.99,410.09 474.32,410.10 474.64,410.11 474.97,410.12 475.29,410.13 475.62,410.14 475.95,410.15 476.27,410.16 476.60,410.17 476.92,410.18 477.25,410.18 477.58,410.19 477.90,410.20 478.23,410.21 478.56,410.22 478.88,410.23 479.21,410.23 479.53,410.24 479.86,410.25 480.19,410.26 480.51,410.27 480.84,410.27 481.17,410.28 481.49,410.29 481.82,410.30 482.14,410.30 482.47,410.31 482.80,410.32 483.12,410.33 483.45,410.33 483.77,410.34 484.10,410.35 484.43,410.35 484.75,410.36 485.08,410.37 485.41,410.37 485.73,410.38 486.06,410.39 486.38,410.39 486.71,410.40 487.04,410.41 487.36,410.41 487.69,410.42 488.01,410.43 488.34,410.43 488.67,410.44 488.99,410.44 489.32,410.45 489.65,410.46 489.97,410.46 490.30,410.47 490.62,410.47 490.95,410.48 491.28,410.49 491.60,410.49 491.93,410.50 492.26,410.50 492.58,410.51 492.91,410.51 493.23,410.52 493.56,410.52 493.89,410.53 494.21,410.53 494.54,410.54 494.86,410.55 495.19,410.55 495.52,410.56 495.84,410.56 496.17,410.57 496.50,410.57 496.82,410.58 497.15,410.58 497.47,410.59 497.80,410.59 498.13,410.60 498.45,410.60 498.78,410.60 499.10,410.61 499.43,410.61 499.76,410.62 500.08,410.62 500.41,410.63 500.74,410.63 501.06,410.64 501.39,410.64 501.71,410.65 502.04,410.65 502.37,410.66 502.69,410.66 503.02,410.66 503.35,410.67 503.67,410.67 504.00,410.68 504.32,410.68 504.65,410.69" />
<polyline fill="none" stroke="#2a9a90" stroke-width="1.2" stroke-linejoin="round" points="276.65,409.13 276.98,409.13 277.30,409.13 277.63,409.13 277.95,409.13 278.28,409.13 278.61,409.13 278.93,409.13 279.26,409.13 279.59,409.12 279.91,409.12 280.24,409.12 280.56,409.12 280.89,409.12 281.22,409.12 281.54,409.12 281.87,409.12 282.20,409.12 282.52,409.12 282.85,409.12 283.17,409.11 283.50,409.11 283.83,409.11 284.15,409.11 284.48,409.11 284.80,409.11 285.13,409.11 285.46,409.10 285.78,409.10 286.11,409.10 286.44,409.10 286.76,409.10 287.09,409.09 287.41,409.09 287.74,409.09 288.07,409.09 288.39,409.08 288.72,409.08 289.04,409.08 289.37,409.08 289.70,409.07 290.02,409.07 290.35,409.07 290.68,409.06 291.00,409.06 291.33,409.06 291.65,409.05 291.98,409.05 292.31,409.04 292.63,409.04 292.96,409.04 293.29,409.03 293.61,409.03 293.94,409.02 294.26,409.02 294.59,409.01 294.92,409.01 295.24,409.00 295.57,409.00 295.89,408.99 296.22,408.99 296.55,408.98 296.87,408.97 297.20,408.97 297.53,408.96 297.85,408.95 298.18,408.95 298.50,408.94 298.83,408.93 299.16,408.93 299.48,408.92 299.81,408.91 300.13,408.90 300.46,408.89 300.79,408.88 301.11,408.87 301.44,408.86 301.77,408.85 302.09,408.84 302.42,408.83 302.74,408.82 303.07,408.81 303.40,408.80 303.72,408.79 304.05,408.78 304.38,408.77 304.70,408.75 305.03,408.74 305.35,408.73 305.68,408.71 306.01,408.70 306.33,408.68 306.66,408.67 306.98,408.65 307.31,408.64 307.64,408.62 307.96,408.60 308.29,408.58 308.62,408.57 308.94,408.55 309.27,408.53 309.59,408.51 309.92,408.49 310.25,408.47 310.57,408.44 310.90,408.42 311.23,408.40 311.55,408.38 311.88,408.35 312.20,408.32 312.53,408.30 312.86,408.27 313.18,408.24 313.51,408.21 313.83,408.19 314.16,408.15 314.49,408.12 314.81,408.09 315.14,408.06 315.47,408.02 315.79,407.99 316.12,407.95 316.44,407.91 316.77,407.87 317.10,407.83 317.42,407.79 317.75,407.74 318.07,407.70 318.40,407.65 318.73,407.61 319.05,407.56 319.38,407.50 319.71,407.45 320.03,407.40 320.36,407.34 320.68,407.28 321.01,407.22 321.34,407.16 321.66,407.09 321.99,407.03 322.32,406.96 322.64,406.89 322.97,406.81 323.29,406.73 323.62,406.65 323.95,406.57 324.27,406.49 324.60,406.40 324.92,406.31 325.25,406.21 325.58,406.11 325.90,406.01 326.23,405.90 326.56,405.80 326.88,405.68 327.21,405.56 327.53,405.44 327.86,405.31 328.19,405.18 328.51,405.04 328.84,404.90 329.17,404.76 329.49,404.60 329.82,404.44 330.14,404.28 330.47,404.11 330.80,403.93 331.12,403.74 331.45,403.55 331.77,403.35 332.10,403.14 332.43,402.92 332.75,402.70 333.08,402.46 333.41,402.22 333.73,401.96 334.06,401.70 334.38,401.42 334.71,401.13 335.04,400.84 335.36,400.52 335.69,400.20 336.01,399.86 336.34,399.51 336.67,399.14 336.99,398.76 337.32,398.36 337.65,397.94 337.97,397.51 338.30,397.06 338.62,396.59 338.95,396.09 339.28,395.58 339.60,395.04 339.93,394.48 340.26,393.90 340.58,393.29 340.91,392.66 341.23,391.99 341.56,391.30 341.89,390.58 342.21,389.83 342.54,389.04 342.86,388.22 343.19,387.37 343.52,386.48 343.84,385.55 344.17,384.58 344.50,383.57 344.82,382.51 345.15,381.42 345.47,380.27 345.80,379.08 346.13,377.84 346.45,376.55 346.78,375.21 347.10,373.81 347.43,372.36 347.76,370.85 348.08,369.29 348.41,367.66 348.74,365.98 349.06,364.24 349.39,362.44 349.71,360.57 350.04,358.65 350.37,356.66 350.69,354.61 351.02,352.51 351.35,350.34 351.67,348.12 352.00,345.84 352.32,343.52 352.65,341.14 352.98,338.71 353.30,336.25 353.63,333.75 353.95,331.22 354.28,328.67 354.61,326.09 354.93,323.51 355.26,320.93 355.59,318.36 355.91,315.80 356.24,313.27 356.56,310.78 356.89,308.34 357.22,305.96 357.54,303.65 357.87,301.43 358.20,299.30 358.52,297.29 358.85,295.40 359.17,293.64 359.50,292.03 359.83,290.57 360.15,289.27 360.48,288.16 360.80,287.22 361.13,286.47 361.46,285.92 361.78,285.56 362.11,285.41 362.44,285.45 362.76,285.70 363.09,286.15 363.41,286.80 363.74,287.63 364.07,288.66 364.39,289.86 364.72,291.23 365.04,292.76 365.37,294.45 365.70,296.27 366.02,298.22 366.35,300.29 366.68,302.46 367.00,304.73 367.33,307.07 367.65,309.49 367.98,311.96 368.31,314.47 368.63,317.02 368.96,319.59 369.29,322.17 369.61,324.76 369.94,327.34 370.26,329.91 370.59,332.46 370.92,334.99 371.24,337.47 371.57,339.93 371.89,342.33 372.22,344.69 372.55,347.01 372.87,349.26 373.20,351.46 373.53,353.61 373.85,355.69 374.18,357.72 374.50,359.68 374.83,361.58 375.16,363.42 375.48,365.21 375.81,366.93 376.13,368.59 376.46,370.19 376.79,371.73 377.11,373.22 377.44,374.65 377.77,376.03 378.09,377.35 378.42,378.62 378.74,379.85 379.07,381.02 379.40,382.15 379.72,383.23 380.05,384.27 380.38,385.27 380.70,386.22 381.03,387.14 381.35,388.02 381.68,388.87 382.01,389.67 382.33,390.45 382.66,391.19 382.98,391.91 383.31,392.59 383.64,393.24 383.96,393.87 384.29,394.47 384.62,395.05 384.94,395.60 385.27,396.13 385.59,396.64 385.92,397.13 386.25,397.60 386.57,398.05 386.90,398.48 387.23,398.89 387.55,399.29 387.88,399.67 388.20,400.03 388.53,400.38 388.86,400.72 389.18,401.04 389.51,401.35 389.83,401.65 390.16,401.94 390.49,402.21 390.81,402.48 391.14,402.73 391.47,402.98 391.79,403.21 392.12,403.44 392.44,403.66 392.77,403.87 393.10,404.07 393.42,404.26 393.75,404.45 394.07,404.63 394.40,404.80 394.73,404.97 395.05,405.13 395.38,405.29 395.71,405.44 396.03,405.58 396.36,405.72 396.68,405.85 397.01,405.98 397.34,406.11 397.66,406.23 397.99,406.35 398.32,406.46 398.64,406.57 398.97,406.67 399.29,406.77 399.62,406.87 399.95,406.97 400.27,407.06 400.60,407.15 400.92,407.23 401.25,407.32 401.58,407.40 401.90,407.47 402.23,407.55 402.56,407.62 402.88,407.69 403.21,407.76 403.53,407.83 403.86,407.89 404.19,407.95 404.51,408.02 404.84,408.07 405.17,408.13 405.49,408.19 405.82,408.24 406.14,408.29 406.47,408.34 406.80,408.39 407.12,408.44 407.45,408.48 407.77,408.53 408.10,408.57 408.43,408.61 408.75,408.66 409.08,408.70 409.41,408.73 409.73,408.77 410.06,408.81 410.38,408.84 410.71,408.88 411.04,408.91 411.36,408.95 411.69,408.98 412.01,409.01 412.34,409.04 412.67,409.07 412.99,409.10 413.32,409.13 413.65,409.15 413.97,409.18 414.30,409.21 414.62,409.23 414.95,409.26 415.28,409.28 415.60,409.31 415.93,409.33 416.26,409.35 416.58,409.37 416.91,409.39 417.23,409.42 417.56,409.44 417.89,409.46 418.21,409.48 418.54,409.50 418.86,409.51 419.19,409.53 419.52,409.55 419.84,409.57 420.17,409.58 420.50,409.60 420.82,409.62 421.15,409.63 421.47,409.65 421.80,409.67 422.13,409.68 422.45,409.69 422.78,409.71 423.10,409.72 423.43,409.74 423.76,409.75 424.08,409.76 424.41,409.78 424.74,409.79 425.06,409.80 425.39,409.82 425.71,409.83 426.04,409.84 426.37,409.85 426.69,409.86 427.02,409.87 427.35,409.88 427.67,409.90 428.00,409.91 428.32,409.92 428.65,409.93 428.98,409.94 429.30,409.95 429.63,409.96 429.95,409.97 430.28,409.98 430.61,409.99 430.93,409.99 431.26,410.00 431.59,410.01 431.91,410.02 432.24,410.03 432.56,410.04 432.89,410.05 433.22,410.05 433.54,410.06 433.87,410.07 434.20,410.08 434.52,410.09 434.85,410.09 435.17,410.10 435.50,410.11 435.83,410.12 436.15,410.12 436.48,410.13 436.80,410.14 437.13,410.14 437.46,410.15 437.78,410.16 438.11,410.16 438.44,410.17 438.76,410.18 439.09,410.18 439.41,410.19 439.74,410.20 440.07,410.20 440.39,410.21 440.72,410.21 441.04,410.22 441.37,410.23 441.70,410.23 442.02,410.24 442.35,410.24 442.68,410.25 443.00,410.25 443.33,410.26 443.65,410.27 443.98,410.27 444.31,410.28 444.63,410.28 444.96,410.29 445.29,410.29 445.61,410.30 445.94,410.30 446.26,410.31 446.59,410.31 446.92,410.32 447.24,410.32 447.57,410.33 447.89,410.33 448.22,410.34 448.55,410.34 448.87,410.34 449.20,410.35 449.53,410.35 449.85,410.36 450.18,410.36 450.50,410.37 450.83,410.37 451.16,410.38 451.48,410.38 451.81,410.38 452.13,410.39 452.46,410.39 452.79,410.40 453.11,410.40 453.44,410.41 453.77,410.41 454.09,410.41 454.42,410.42 454.74,410.42 455.07,410.43 455.40,410.43 455.72,410.43 456.05,410.44 456.38,410.44 456.70,410.45 457.03,410.45 457.35,410.45 457.68,410.46 458.01,410.46 458.33,410.46 458.66,410.47 458.98,410.47 459.31,410.48 459.64,410.48 459.96,410.48 460.29,410.49 460.62,410.49 460.94,410.49 461.27,410.50 461.59,410.50 461.92,410.50 462.25,410.51 462.57,410.51 462.90,410.51 463.23,410.52 463.55,410.52 463.88,410.52 464.20,410.53 464.53,410.53 464.86,410.53 465.18,410.54 465.51,410.54 465.83,410.54 466.16,410.55 466.49,410.55 466.81,410.55 467.14,410.56 467.47,410.56 467.79,410.56 468.12,410.57 468.44,410.57 468.77,410.57 469.10,410.58 469.42,410.58 469.75,410.58 470.07,410.59 470.40,410.59 470.73,410.59 471.05,410.59 471.38,410.60 471.71,410.60 472.03,410.60 472.36,410.61 472.68,410.61 473.01,410.61 473.34,410.62 473.66,410.62 473.99,410.62 474.32,410.63 474.64,410.63 474.97,410.63 475.29,410.63 475.62,410.64 475.95,410.64 476.27,410.64 476.60,410.65 476.92,410.65 477.25,410.65 477.58,410.65 477.90,410.66 478.23,410.66 478.56,410.66 478.88,410.67 479.21,410.67 479.53,410.67 479.86,410.67 480.19,410.68 480.51,410.68 480.84,410.68 481.17,410.69 481.49,410.69 481.82,410.69 482.14,410.69 482.47,410.70 482.80,410.70 483.12,410.70 483.45,410.71 483.77,410.71 484.10,410.71 484.43,410.71 484.75,410.72 485.08,410.72 485.41,410.72 485.73,410.72 486.06,410.73 486.38,410.73 486.71,410.73 487.04,410.74 487.36,410.74 487.69,410.74 488.01,410.74 488.34,410.75 488.67,410.75 488.99,410.75 489.32,410.75 489.65,410.76 489.97,410.76 490.30,410.76 490.62,410.76 490.95,410.77 491.28,410.77 491.60,410.77 491.93,410.78 492.26,410.78 492.58,410.78 492.91,410.78 493.23,410.79 493.56,410.79 493.89,410.79 494.21,410.79 494.54,410.80 494.86,410.80 495.19,410.80 495.52,410.80 495.84,410.81 496.17,410.81 496.50,410.81 496.82,410.81 497.15,410.82 497.47,410.82 497.80,410.82 498.13,410.82 498.45,410.83 498.78,410.83 499.10,410.83 499.43,410.83 499.76,410.84 500.08,410.84 500.41,410.84 500.74,410.84 501.06,410.85 501.39,410.85 501.71,410.85 502.04,410.86 502.37,410.86 502.69,410.86 503.02,410.86 503.35,410.87 503.67,410.87 504.00,410.87 504.32,410.87 504.65,410.88" />
<polyline fill="none" stroke="#111" stroke-width="1.45" stroke-linejoin="round" points="277.45,410.45 279.43,413.43 281.06,404.45 282.72,410.07 284.38,408.28 286.38,412.28 288.20,406.13 289.78,413.53 291.58,408.63 293.95,412.06 295.54,407.20 297.09,411.48 299.01,405.87 301.13,404.84 302.89,410.64 304.66,407.72 306.19,412.01 308.05,407.06 309.96,403.90 311.39,407.64 313.48,408.72 315.11,410.62 317.28,404.22 318.59,406.17 320.76,407.86 322.67,400.90 324.09,401.59 326.29,405.09 328.07,410.00 329.36,401.83 331.57,400.31 332.95,403.48 335.05,396.88 336.81,395.11 338.47,398.79 340.34,389.44 342.43,389.68 343.94,381.22 345.64,373.99 347.77,370.08 349.42,363.45 351.43,342.91 352.89,331.25 354.74,322.24 356.83,310.25 358.45,291.14 360.25,288.30 361.45,281.44 361.89,281.45 361.90,271.50 362.35,281.44 363.56,280.02 365.91,287.07 367.20,299.34 369.46,310.22 370.97,326.40 373.12,338.73 374.59,338.82 376.71,349.67 378.28,354.93 379.89,350.55 381.99,351.64 383.75,350.32 385.56,340.85 387.23,329.61 388.88,324.54 390.93,320.75 392.41,313.37 394.57,313.47 394.95,309.97 395.40,299.00 395.85,309.97 396.33,306.07 397.98,314.47 400.03,327.34 401.47,328.99 403.38,343.60 405.43,347.56 406.98,360.81 408.98,370.82 410.72,371.51 412.71,383.16 414.55,388.60 416.18,387.08 418.04,396.29 419.44,389.87 421.58,398.91 423.46,399.01 424.99,404.28 426.88,399.00 428.64,408.97 430.73,403.69 432.14,406.75 433.99,408.73 435.55,404.54 437.60,407.64 439.53,404.80 441.51,402.65 443.30,407.19 444.75,407.38 446.94,412.57 448.26,405.36 450.44,414.28 451.84,409.32 453.79,412.82 455.39,409.20 457.66,409.79 459.45,406.28 460.83,411.71 462.87,404.82 464.50,404.79 466.45,413.06 468.28,406.17 469.81,411.21 472.07,405.62 473.52,411.72 475.42,407.35 476.98,411.68 478.75,408.14 480.67,410.80 482.56,412.46 484.71,414.00 486.48,412.36 488.04,409.00 489.82,413.50 491.75,406.37 493.67,411.31 495.15,408.02 497.23,413.97 498.79,407.44 500.71,406.55 502.59,412.03" />
<rect x="276.65" y="256.70" width="228.00" height="175.30" fill="none" stroke="#0d0d0d" stroke-width="1.4"/>
<line x1="276.65" y1="432.00" x2="276.65" y2="435.80" stroke="#0d0d0d" stroke-width="1.3"/>
<line x1="295.65" y1="432.00" x2="295.65" y2="435.80" stroke="#0d0d0d" stroke-width="1.3"/>
<line x1="314.65" y1="432.00" x2="314.65" y2="435.80" stroke="#0d0d0d" stroke-width="1.3"/>
<line x1="333.65" y1="432.00" x2="333.65" y2="435.80" stroke="#0d0d0d" stroke-width="1.3"/>
<line x1="352.65" y1="432.00" x2="352.65" y2="435.80" stroke="#0d0d0d" stroke-width="1.3"/>
<line x1="371.65" y1="432.00" x2="371.65" y2="435.80" stroke="#0d0d0d" stroke-width="1.3"/>
<line x1="390.65" y1="432.00" x2="390.65" y2="435.80" stroke="#0d0d0d" stroke-width="1.3"/>
<line x1="409.65" y1="432.00" x2="409.65" y2="435.80" stroke="#0d0d0d" stroke-width="1.3"/>
<line x1="428.65" y1="432.00" x2="428.65" y2="435.80" stroke="#0d0d0d" stroke-width="1.3"/>
<line x1="447.65" y1="432.00" x2="447.65" y2="435.80" stroke="#0d0d0d" stroke-width="1.3"/>
<line x1="466.65" y1="432.00" x2="466.65" y2="435.80" stroke="#0d0d0d" stroke-width="1.3"/>
<line x1="485.65" y1="432.00" x2="485.65" y2="435.80" stroke="#0d0d0d" stroke-width="1.3"/>
<line x1="504.65" y1="432.00" x2="504.65" y2="435.80" stroke="#0d0d0d" stroke-width="1.3"/>
<line x1="286.15" y1="432.00" x2="286.15" y2="433.30" stroke="#0d0d0d" stroke-width="1.3"/>
<line x1="305.15" y1="432.00" x2="305.15" y2="433.30" stroke="#0d0d0d" stroke-width="1.3"/>
<line x1="324.15" y1="432.00" x2="324.15" y2="433.30" stroke="#0d0d0d" stroke-width="1.3"/>
<line x1="343.15" y1="432.00" x2="343.15" y2="433.30" stroke="#0d0d0d" stroke-width="1.3"/>
<line x1="362.15" y1="432.00" x2="362.15" y2="433.30" stroke="#0d0d0d" stroke-width="1.3"/>
<line x1="381.15" y1="432.00" x2="381.15" y2="433.30" stroke="#0d0d0d" stroke-width="1.3"/>
<line x1="400.15" y1="432.00" x2="400.15" y2="433.30" stroke="#0d0d0d" stroke-width="1.3"/>
<line x1="419.15" y1="432.00" x2="419.15" y2="433.30" stroke="#0d0d0d" stroke-width="1.3"/>
<line x1="438.15" y1="432.00" x2="438.15" y2="433.30" stroke="#0d0d0d" stroke-width="1.3"/>
<line x1="457.15" y1="432.00" x2="457.15" y2="433.30" stroke="#0d0d0d" stroke-width="1.3"/>
<line x1="476.15" y1="432.00" x2="476.15" y2="433.30" stroke="#0d0d0d" stroke-width="1.3"/>
<line x1="495.15" y1="432.00" x2="495.15" y2="433.30" stroke="#0d0d0d" stroke-width="1.3"/>
<text x="0" y="0" font-family='"Liberation Serif", serif' font-size="11.0" text-anchor="middle" font-weight="normal" fill="#111" transform="translate(276.65 445.50) scale(0.89 1.0)" stroke="#111" stroke-width="0.25">128</text>
<text x="0" y="0" font-family='"Liberation Serif", serif' font-size="11.0" text-anchor="middle" font-weight="normal" fill="#111" transform="translate(295.65 445.50) scale(0.89 1.0)" stroke="#111" stroke-width="0.25">129</text>
<text x="0" y="0" font-family='"Liberation Serif", serif' font-size="11.0" text-anchor="middle" font-weight="normal" fill="#111" transform="translate(314.65 445.50) scale(0.89 1.0)" stroke="#111" stroke-width="0.25">130</text>
<text x="0" y="0" font-family='"Liberation Serif", serif' font-size="11.0" text-anchor="middle" font-weight="normal" fill="#111" transform="translate(333.65 445.50) scale(0.89 1.0)" stroke="#111" stroke-width="0.25">131</text>
<text x="0" y="0" font-family='"Liberation Serif", serif' font-size="11.0" text-anchor="middle" font-weight="normal" fill="#111" transform="translate(352.65 445.50) scale(0.89 1.0)" stroke="#111" stroke-width="0.25">132</text>
<text x="0" y="0" font-family='"Liberation Serif", serif' font-size="11.0" text-anchor="middle" font-weight="normal" fill="#111" transform="translate(371.65 445.50) scale(0.89 1.0)" stroke="#111" stroke-width="0.25">133</text>
<text x="0" y="0" font-family='"Liberation Serif", serif' font-size="11.0" text-anchor="middle" font-weight="normal" fill="#111" transform="translate(390.65 445.50) scale(0.89 1.0)" stroke="#111" stroke-width="0.25">134</text>
<text x="0" y="0" font-family='"Liberation Serif", serif' font-size="11.0" text-anchor="middle" font-weight="normal" fill="#111" transform="translate(409.65 445.50) scale(0.89 1.0)" stroke="#111" stroke-width="0.25">135</text>
<text x="0" y="0" font-family='"Liberation Serif", serif' font-size="11.0" text-anchor="middle" font-weight="normal" fill="#111" transform="translate(428.65 445.50) scale(0.89 1.0)" stroke="#111" stroke-width="0.25">136</text>
<text x="0" y="0" font-family='"Liberation Serif", serif' font-size="11.0" text-anchor="middle" font-weight="normal" fill="#111" transform="translate(447.65 445.50) scale(0.89 1.0)" stroke="#111" stroke-width="0.25">137</text>
<text x="0" y="0" font-family='"Liberation Serif", serif' font-size="11.0" text-anchor="middle" font-weight="normal" fill="#111" transform="translate(466.65 445.50) scale(0.89 1.0)" stroke="#111" stroke-width="0.25">138</text>
<text x="0" y="0" font-family='"Liberation Serif", serif' font-size="11.0" text-anchor="middle" font-weight="normal" fill="#111" transform="translate(485.65 445.50) scale(0.89 1.0)" stroke="#111" stroke-width="0.25">139</text>
<text x="0" y="0" font-family='"Liberation Serif", serif' font-size="11.0" text-anchor="middle" font-weight="normal" fill="#111" transform="translate(504.65 445.50) scale(0.89 1.0)" stroke="#111" stroke-width="0.25">140</text>
<text x="383.45" y="459.30" font-family='"Liberation Serif", serif' font-size="13.9" text-anchor="middle" font-weight="normal" fill="#111" stroke="#111" stroke-width="0.25">Binding energy (eV)</text>
<text x="0" y="0" font-family='"Liberation Serif", serif' font-size="13.65" text-anchor="middle" font-weight="normal" fill="#111" transform="translate(270.60 334.10) rotate(-90) scale(1.0 0.95)" stroke="#111" stroke-width="0.25">Intensity (a.u.)</text>
<text x="488.60" y="272.70" font-family='"Liberation Sans", sans-serif' font-size="10.2" text-anchor="end" font-weight="normal" fill="#111" stroke="#111" stroke-width="0.25">Sr 3d</text>
<text x="0" y="0" font-family='"Liberation Serif", serif' font-size="11.7" text-anchor="middle" font-weight="normal" fill="#111" transform="translate(361.10 269.00) scale(0.91 1.0)" stroke="#111" stroke-width="0.25">132.50 ev</text>
<text x="0" y="0" font-family='"Liberation Serif", serif' font-size="11.7" text-anchor="middle" font-weight="normal" fill="#111" transform="translate(400.20 296.60) scale(0.91 1.0)" stroke="#111" stroke-width="0.25">134.25 ev</text>
<text x="0" y="0" font-family='"Liberation Sans", sans-serif' font-size="23.9" text-anchor="start" font-weight="bold" fill="#000" transform="translate(261.30 255.30) scale(0.91 1.0)">e</text>
<line x1="606.80" y1="276.00" x2="606.80" y2="426.35" stroke="#d2d2e6" stroke-width="1.0"/>
<line x1="638.40" y1="296.00" x2="638.40" y2="426.35" stroke="#d2d2e6" stroke-width="1.0"/>
<line x1="673.60" y1="376.00" x2="673.60" y2="426.35" stroke="#d2d2e6" stroke-width="1.0"/>
<polyline fill="none" stroke="#ff3030" stroke-width="1.3" stroke-linejoin="round" points="539.10,410.99 539.42,410.99 539.75,410.99 540.07,410.99 540.40,410.99 540.72,410.99 541.05,410.99 541.37,410.99 541.70,410.99 542.02,410.99 542.35,410.99 542.67,410.99 543.00,410.99 543.32,410.99 543.65,410.99 543.97,410.98 544.30,410.98 544.62,410.98 544.95,410.98 545.27,410.98 545.60,410.98 545.92,410.98 546.25,410.98 546.57,410.98 546.90,410.98 547.22,410.98 547.55,410.98 547.87,410.98 548.20,410.98 548.52,410.98 548.85,410.98 549.17,410.97 549.50,410.97 549.82,410.97 550.15,410.97 550.47,410.97 550.80,410.97 551.12,410.97 551.45,410.97 551.77,410.97 552.10,410.96 552.42,410.96 552.75,410.96 553.07,410.96 553.40,410.96 553.72,410.96 554.05,410.95 554.37,410.95 554.69,410.95 555.02,410.94 555.34,410.94 555.67,410.94 555.99,410.93 556.32,410.93 556.64,410.93 556.97,410.92 557.29,410.92 557.62,410.91 557.94,410.90 558.27,410.90 558.59,410.89 558.92,410.88 559.24,410.87 559.57,410.86 559.89,410.85 560.22,410.84 560.54,410.83 560.87,410.82 561.19,410.80 561.52,410.79 561.84,410.77 562.17,410.75 562.49,410.73 562.82,410.71 563.14,410.68 563.47,410.65 563.79,410.63 564.12,410.59 564.44,410.56 564.77,410.52 565.09,410.48 565.42,410.44 565.74,410.39 566.07,410.34 566.39,410.29 566.72,410.23 567.04,410.16 567.37,410.09 567.69,410.02 568.02,409.93 568.34,409.85 568.67,409.75 568.99,409.65 569.32,409.54 569.64,409.43 569.96,409.30 570.29,409.17 570.61,409.02 570.94,408.87 571.26,408.70 571.59,408.53 571.91,408.34 572.24,408.14 572.56,407.92 572.89,407.69 573.21,407.45 573.54,407.19 573.86,406.91 574.19,406.62 574.51,406.31 574.84,405.98 575.16,405.63 575.49,405.26 575.81,404.87 576.14,404.45 576.46,404.02 576.79,403.55 577.11,403.07 577.44,402.55 577.76,402.02 578.09,401.45 578.41,400.85 578.74,400.22 579.06,399.57 579.39,398.88 579.71,398.16 580.04,397.41 580.36,396.62 580.69,395.79 581.01,394.94 581.34,394.04 581.66,393.11 581.99,392.14 582.31,391.13 582.64,390.09 582.96,389.00 583.29,387.88 583.61,386.71 583.94,385.51 584.26,384.26 584.58,382.98 584.91,381.65 585.23,380.29 585.56,378.88 585.88,377.43 586.21,375.95 586.53,374.42 586.86,372.86 587.18,371.26 587.51,369.62 587.83,367.95 588.16,366.24 588.48,364.50 588.81,362.73 589.13,360.92 589.46,359.09 589.78,357.23 590.11,355.34 590.43,353.43 590.76,351.50 591.08,349.55 591.41,347.58 591.73,345.60 592.06,343.60 592.38,341.60 592.71,339.58 593.03,337.57 593.36,335.55 593.68,333.53 594.01,331.52 594.33,329.52 594.66,327.53 594.98,325.55 595.31,323.59 595.63,321.66 595.96,319.74 596.28,317.86 596.61,316.00 596.93,314.18 597.26,312.40 597.58,310.66 597.91,308.96 598.23,307.32 598.56,305.72 598.88,304.18 599.21,302.69 599.53,301.27 599.85,299.90 600.18,298.61 600.50,297.38 600.83,296.23 601.15,295.14 601.48,294.14 601.80,293.21 602.13,292.36 602.45,291.59 602.78,290.91 603.10,290.31 603.43,289.79 603.75,289.37 604.08,289.03 604.40,288.78 604.73,288.61 605.05,288.54 605.38,288.56 605.70,288.66 606.03,288.86 606.35,289.14 606.68,289.51 607.00,289.97 607.33,290.51 607.65,291.14 607.98,291.85 608.30,292.64 608.63,293.51 608.95,294.45 609.28,295.48 609.60,296.57 609.93,297.73 610.25,298.97 610.58,300.26 610.90,301.62 611.23,303.04 611.55,304.52 611.88,306.05 612.20,307.62 612.53,309.25 612.85,310.92 613.18,312.63 613.50,314.37 613.83,316.15 614.15,317.96 614.48,319.80 614.80,321.66 615.12,323.54 615.45,325.43 615.77,327.34 616.10,329.26 616.42,331.19 616.75,333.12 617.07,335.05 617.40,336.98 617.72,338.91 618.05,340.83 618.37,342.73 618.70,344.63 619.02,346.51 619.35,348.37 619.67,350.21 620.00,352.03 620.32,353.82 620.65,355.59 620.97,357.33 621.30,359.05 621.62,360.73 621.95,362.37 622.27,363.99 622.60,365.57 622.92,367.11 623.25,368.62 623.57,370.09 623.90,371.52 624.22,372.92 624.55,374.27 624.87,375.59 625.20,376.86 625.52,378.10 625.85,379.29 626.17,380.45 626.50,381.56 626.82,382.64 627.15,383.68 627.47,384.67 627.80,385.63 628.12,386.56 628.45,387.44 628.77,388.29 629.10,389.10 629.42,389.88 629.75,390.62 630.07,391.33 630.39,392.00 630.72,392.64 631.04,393.26 631.37,393.84 631.69,394.39 632.02,394.91 632.34,395.41 632.67,395.87 632.99,396.32 633.32,396.73 633.64,397.13 633.97,397.50 634.29,397.85 634.62,398.17 634.94,398.48 635.27,398.77 635.59,399.04 635.92,399.29 636.24,399.52 636.57,399.74 636.89,399.94 637.22,400.13 637.54,400.30 637.87,400.46 638.19,400.61 638.52,400.75 638.84,400.87 639.17,400.99 639.49,401.09 639.82,401.19 640.14,401.28 640.47,401.36 640.79,401.43 641.12,401.49 641.44,401.55 641.77,401.60 642.09,401.65 642.42,401.69 642.74,401.73 643.07,401.76 643.39,401.78 643.72,401.81 644.04,401.82 644.37,401.84 644.69,401.85 645.02,401.86 645.34,401.87 645.66,401.87 645.99,401.88 646.31,401.88 646.64,401.88 646.96,401.87 647.29,401.87 647.61,401.86 647.94,401.86 648.26,401.85 648.59,401.84 648.91,401.83 649.24,401.82 649.56,401.81 649.89,401.79 650.21,401.78 650.54,401.77 650.86,401.76 651.19,401.74 651.51,401.73 651.84,401.72 652.16,401.70 652.49,401.69 652.81,401.68 653.14,401.66 653.46,401.65 653.79,401.63 654.11,401.62 654.44,401.61 654.76,401.59 655.09,401.58 655.41,401.57 655.74,401.55 656.06,401.54 656.39,401.53 656.71,401.52 657.04,401.50 657.36,401.49 657.69,401.48 658.01,401.47 658.34,401.46 658.66,401.45 658.99,401.43 659.31,401.42 659.64,401.41 659.96,401.40 660.28,401.39 660.61,401.38 660.93,401.37 661.26,401.36 661.58,401.35 661.91,401.35 662.23,401.34 662.56,401.33 662.88,401.32 663.21,401.31 663.53,401.30 663.86,401.30 664.18,401.29 664.51,401.28 664.83,401.27 665.16,401.27 665.48,401.26 665.81,401.25 666.13,401.25 666.46,401.24 666.78,401.23 667.11,401.23 667.43,401.22 667.76,401.22 668.08,401.21 668.41,401.20 668.73,401.20 669.06,401.19 669.38,401.19 669.71,401.18 670.03,401.18 670.36,401.17 670.68,401.17 671.01,401.17 671.33,401.16 671.66,401.16 671.98,401.15 672.31,401.15 672.63,401.14 672.96,401.14 673.28,401.14 673.61,401.13 673.93,401.13 674.26,401.13 674.58,401.12 674.91,401.12 675.23,401.12 675.55,401.11 675.88,401.11 676.20,401.11 676.53,401.11 676.85,401.10 677.18,401.10 677.50,401.10 677.83,401.09 678.15,401.09 678.48,401.09 678.80,401.09 679.13,401.08 679.45,401.08 679.78,401.08 680.10,401.08 680.43,401.08 680.75,401.07 681.08,401.07 681.40,401.07 681.73,401.07 682.05,401.07 682.38,401.06 682.70,401.06 683.03,401.06 683.35,401.06 683.68,401.06 684.00,401.06 684.33,401.06 684.65,401.05 684.98,401.05 685.30,401.05 685.63,401.05 685.95,401.05 686.28,401.05 686.60,401.05 686.93,401.04 687.25,401.04 687.58,401.04 687.90,401.04 688.23,401.04 688.55,401.04 688.88,401.04 689.20,401.04 689.53,401.04 689.85,401.03 690.18,401.03 690.50,401.03 690.82,401.03 691.15,401.03 691.47,401.03 691.80,401.03 692.12,401.03 692.45,401.03 692.77,401.03 693.10,401.03 693.42,401.03 693.75,401.03 694.07,401.02 694.40,401.02 694.72,401.02 695.05,401.02 695.37,401.02 695.70,401.02 696.02,401.02 696.35,401.02 696.67,401.02 697.00,401.02 697.32,401.02 697.65,401.02 697.97,401.02 698.30,401.02 698.62,401.02 698.95,401.02 699.27,401.02 699.60,401.02 699.92,401.02 700.25,401.01 700.57,401.01 700.90,401.01 701.22,401.01 701.55,401.01 701.87,401.01 702.20,401.01 702.52,401.01 702.85,401.01 703.17,401.01 703.50,401.01 703.82,401.01 704.15,401.01 704.47,401.01 704.80,401.01 705.12,401.01 705.45,401.01 705.77,401.01 706.09,401.01 706.42,401.01 706.74,401.01 707.07,401.01 707.39,401.01 707.72,401.01 708.04,401.01 708.37,401.01 708.69,401.01 709.02,401.01 709.34,401.01 709.67,401.01 709.99,401.01 710.32,401.01 710.64,401.01 710.97,401.01 711.29,401.01 711.62,401.01 711.94,401.01 712.27,401.01 712.59,401.01 712.92,401.01 713.24,401.00 713.57,401.00 713.89,401.00 714.22,401.00 714.54,401.00 714.87,401.00 715.19,401.00 715.52,401.00 715.84,401.00 716.17,401.00 716.49,401.00 716.82,401.00 717.14,401.00 717.47,401.00 717.79,401.00 718.12,401.00 718.44,401.00 718.77,401.00 719.09,401.00 719.42,401.00 719.74,401.00 720.07,401.00 720.39,401.00 720.72,401.00 721.04,401.00 721.36,401.00 721.69,401.00 722.01,401.00 722.34,401.00 722.66,401.00 722.99,401.00 723.31,401.00 723.64,401.00 723.96,401.00 724.29,401.00 724.61,401.00 724.94,401.00 725.26,401.00 725.59,401.00 725.91,401.00 726.24,401.00 726.56,401.00 726.89,401.00 727.21,401.00 727.54,401.00 727.86,401.00 728.19,401.00 728.51,401.00 728.84,401.00 729.16,401.00 729.49,401.00 729.81,401.00 730.14,401.00 730.46,401.00 730.79,401.00 731.11,401.00 731.44,401.00 731.76,401.00 732.09,401.00 732.41,401.00 732.74,401.00 733.06,401.00 733.39,401.00 733.71,401.00 734.04,401.00 734.36,401.00 734.69,401.00 735.01,401.00 735.34,401.00 735.66,401.00 735.98,401.00 736.31,401.00 736.63,401.00 736.96,401.00 737.28,401.00 737.61,401.00 737.93,401.00 738.26,401.00 738.58,401.00 738.91,401.00 739.23,401.00 739.56,401.00 739.88,401.00 740.21,401.00 740.53,401.00 740.86,401.00 741.18,401.00 741.51,401.00 741.83,401.00 742.16,401.00 742.48,401.00 742.81,401.00 743.13,401.00 743.46,401.00 743.78,401.00 744.11,401.00 744.43,401.00 744.76,401.00 745.08,401.00 745.41,401.00 745.73,401.00 746.06,401.00 746.38,401.00 746.71,401.00 747.03,401.00 747.36,401.00 747.68,401.00 748.01,401.00 748.33,401.00 748.66,401.00 748.98,401.00 749.31,401.00 749.63,401.00 749.96,401.00 750.28,401.00 750.61,401.00 750.93,401.00 751.25,401.00 751.58,401.00 751.90,401.00 752.23,401.00 752.55,401.00 752.88,401.00 753.20,401.00 753.53,401.00 753.85,401.00 754.18,401.00 754.50,401.00 754.83,401.00 755.15,401.00 755.48,401.00 755.80,401.00 756.13,401.00 756.45,401.00 756.78,401.00 757.10,401.00 757.43,401.00 757.75,401.00 758.08,401.00 758.40,401.00 758.73,401.00 759.05,401.00 759.38,401.00 759.70,401.00 760.03,401.00 760.35,401.00 760.68,401.00 761.00,401.00 761.33,401.00 761.65,401.00 761.98,401.00 762.30,401.00 762.63,401.00 762.95,401.00 763.28,401.00 763.60,401.00 763.93,401.00 764.25,401.00 764.58,401.00 764.90,401.00 765.23,401.00 765.55,401.00 765.88,401.00 766.20,401.00" />
<polyline fill="none" stroke="#33ee33" stroke-width="1.3" stroke-linejoin="round" points="539.10,410.99 539.42,410.99 539.75,410.99 540.07,410.99 540.40,410.99 540.72,410.99 541.05,410.99 541.37,410.99 541.70,410.99 542.02,410.99 542.35,410.99 542.67,410.99 543.00,410.99 543.32,410.99 543.65,410.99 543.97,410.99 544.30,410.98 544.62,410.98 544.95,410.98 545.27,410.98 545.60,410.98 545.92,410.98 546.25,410.98 546.57,410.98 546.90,410.98 547.22,410.98 547.55,410.98 547.87,410.98 548.20,410.98 548.52,410.98 548.85,410.98 549.17,410.98 549.50,410.98 549.82,410.98 550.15,410.97 550.47,410.97 550.80,410.97 551.12,410.97 551.45,410.97 551.77,410.97 552.10,410.97 552.42,410.97 552.75,410.97 553.07,410.97 553.40,410.97 553.72,410.97 554.05,410.97 554.37,410.96 554.69,410.96 555.02,410.96 555.34,410.96 555.67,410.96 555.99,410.96 556.32,410.96 556.64,410.96 556.97,410.96 557.29,410.95 557.62,410.95 557.94,410.95 558.27,410.95 558.59,410.95 558.92,410.95 559.24,410.95 559.57,410.94 559.89,410.94 560.22,410.94 560.54,410.94 560.87,410.94 561.19,410.94 561.52,410.93 561.84,410.93 562.17,410.93 562.49,410.93 562.82,410.93 563.14,410.93 563.47,410.92 563.79,410.92 564.12,410.92 564.44,410.92 564.77,410.91 565.09,410.91 565.42,410.91 565.74,410.91 566.07,410.90 566.39,410.90 566.72,410.90 567.04,410.89 567.37,410.89 567.69,410.89 568.02,410.88 568.34,410.88 568.67,410.88 568.99,410.87 569.32,410.87 569.64,410.87 569.96,410.86 570.29,410.86 570.61,410.85 570.94,410.85 571.26,410.84 571.59,410.84 571.91,410.83 572.24,410.83 572.56,410.82 572.89,410.82 573.21,410.81 573.54,410.80 573.86,410.80 574.19,410.79 574.51,410.78 574.84,410.77 575.16,410.77 575.49,410.76 575.81,410.75 576.14,410.74 576.46,410.73 576.79,410.72 577.11,410.71 577.44,410.70 577.76,410.69 578.09,410.68 578.41,410.66 578.74,410.65 579.06,410.64 579.39,410.62 579.71,410.61 580.04,410.59 580.36,410.57 580.69,410.56 581.01,410.54 581.34,410.52 581.66,410.50 581.99,410.48 582.31,410.45 582.64,410.43 582.96,410.40 583.29,410.38 583.61,410.35 583.94,410.32 584.26,410.29 584.58,410.26 584.91,410.22 585.23,410.19 585.56,410.15 585.88,410.11 586.21,410.07 586.53,410.03 586.86,409.98 587.18,409.93 587.51,409.88 587.83,409.83 588.16,409.77 588.48,409.72 588.81,409.65 589.13,409.59 589.46,409.52 589.78,409.45 590.11,409.38 590.43,409.30 590.76,409.22 591.08,409.13 591.41,409.04 591.73,408.94 592.06,408.84 592.38,408.74 592.71,408.63 593.03,408.52 593.36,408.40 593.68,408.27 594.01,408.14 594.33,408.00 594.66,407.86 594.98,407.71 595.31,407.55 595.63,407.38 595.96,407.21 596.28,407.03 596.61,406.85 596.93,406.65 597.26,406.45 597.58,406.23 597.91,406.01 598.23,405.78 598.56,405.54 598.88,405.29 599.21,405.03 599.53,404.76 599.85,404.48 600.18,404.19 600.50,403.88 600.83,403.57 601.15,403.24 601.48,402.90 601.80,402.54 602.13,402.18 602.45,401.80 602.78,401.40 603.10,401.00 603.43,400.58 603.75,400.14 604.08,399.69 604.40,399.22 604.73,398.74 605.05,398.24 605.38,397.73 605.70,397.20 606.03,396.65 606.35,396.09 606.68,395.51 607.00,394.91 607.33,394.30 607.65,393.67 607.98,393.02 608.30,392.35 608.63,391.66 608.95,390.95 609.28,390.23 609.60,389.49 609.93,388.73 610.25,387.95 610.58,387.15 610.90,386.33 611.23,385.50 611.55,384.64 611.88,383.77 612.20,382.87 612.53,381.96 612.85,381.03 613.18,380.09 613.50,379.12 613.83,378.13 614.15,377.13 614.48,376.11 614.80,375.08 615.12,374.02 615.45,372.95 615.77,371.87 616.10,370.77 616.42,369.65 616.75,368.52 617.07,367.37 617.40,366.21 617.72,365.04 618.05,363.85 618.37,362.66 618.70,361.45 619.02,360.23 619.35,359.00 619.67,357.76 620.00,356.51 620.32,355.26 620.65,354.00 620.97,352.73 621.30,351.46 621.62,350.19 621.95,348.91 622.27,347.63 622.60,346.35 622.92,345.07 623.25,343.79 623.57,342.52 623.90,341.24 624.22,339.97 624.55,338.71 624.87,337.45 625.20,336.21 625.52,334.97 625.85,333.74 626.17,332.52 626.50,331.31 626.82,330.12 627.15,328.94 627.47,327.78 627.80,326.63 628.12,325.51 628.45,324.40 628.77,323.31 629.10,322.25 629.42,321.20 629.75,320.19 630.07,319.19 630.39,318.22 630.72,317.28 631.04,316.37 631.37,315.49 631.69,314.64 632.02,313.81 632.34,313.02 632.67,312.27 632.99,311.54 633.32,310.85 633.64,310.20 633.97,309.58 634.29,309.00 634.62,308.46 634.94,307.95 635.27,307.48 635.59,307.06 635.92,306.67 636.24,306.32 636.57,306.01 636.89,305.74 637.22,305.51 637.54,305.33 637.87,305.18 638.19,305.08 638.52,305.02 638.84,305.00 639.17,305.02 639.49,305.08 639.82,305.18 640.14,305.33 640.47,305.51 640.79,305.74 641.12,306.00 641.44,306.31 641.77,306.65 642.09,307.04 642.42,307.46 642.74,307.92 643.07,308.42 643.39,308.95 643.72,309.52 644.04,310.13 644.37,310.77 644.69,311.44 645.02,312.15 645.34,312.89 645.66,313.66 645.99,314.45 646.31,315.28 646.64,316.14 646.96,317.02 647.29,317.93 647.61,318.86 647.94,319.82 648.26,320.80 648.59,321.80 648.91,322.82 649.24,323.87 649.56,324.93 649.89,326.00 650.21,327.10 650.54,328.20 650.86,329.33 651.19,330.46 651.51,331.60 651.84,332.76 652.16,333.92 652.49,335.10 652.81,336.28 653.14,337.46 653.46,338.65 653.79,339.84 654.11,341.04 654.44,342.23 654.76,343.43 655.09,344.63 655.41,345.82 655.74,347.01 656.06,348.20 656.39,349.38 656.71,350.56 657.04,351.74 657.36,352.90 657.69,354.06 658.01,355.21 658.34,356.35 658.66,357.48 658.99,358.59 659.31,359.70 659.64,360.80 659.96,361.88 660.28,362.95 660.61,364.00 660.93,365.05 661.26,366.07 661.58,367.09 661.91,368.08 662.23,369.06 662.56,370.03 662.88,370.97 663.21,371.91 663.53,372.82 663.86,373.72 664.18,374.60 664.51,375.46 664.83,376.30 665.16,377.13 665.48,377.94 665.81,378.73 666.13,379.50 666.46,380.25 666.78,380.99 667.11,381.71 667.43,382.41 667.76,383.09 668.08,383.76 668.41,384.40 668.73,385.03 669.06,385.65 669.38,386.24 669.71,386.82 670.03,387.38 670.36,387.92 670.68,388.45 671.01,388.96 671.33,389.46 671.66,389.94 671.98,390.40 672.31,390.85 672.63,391.29 672.96,391.71 673.28,392.11 673.61,392.50 673.93,392.88 674.26,393.25 674.58,393.60 674.91,393.94 675.23,394.26 675.55,394.57 675.88,394.88 676.20,395.17 676.53,395.44 676.85,395.71 677.18,395.97 677.50,396.22 677.83,396.45 678.15,396.68 678.48,396.90 678.80,397.10 679.13,397.30 679.45,397.49 679.78,397.67 680.10,397.85 680.43,398.01 680.75,398.17 681.08,398.32 681.40,398.47 681.73,398.61 682.05,398.74 682.38,398.86 682.70,398.98 683.03,399.10 683.35,399.20 683.68,399.31 684.00,399.40 684.33,399.50 684.65,399.58 684.98,399.67 685.30,399.75 685.63,399.82 685.95,399.89 686.28,399.96 686.60,400.02 686.93,400.08 687.25,400.14 687.58,400.19 687.90,400.24 688.23,400.29 688.55,400.34 688.88,400.38 689.20,400.42 689.53,400.46 689.85,400.49 690.18,400.53 690.50,400.56 690.82,400.59 691.15,400.62 691.47,400.64 691.80,400.67 692.12,400.69 692.45,400.71 692.77,400.73 693.10,400.75 693.42,400.77 693.75,400.79 694.07,400.80 694.40,400.82 694.72,400.83 695.05,400.84 695.37,400.86 695.70,400.87 696.02,400.88 696.35,400.89 696.67,400.90 697.00,400.90 697.32,400.91 697.65,400.92 697.97,400.93 698.30,400.93 698.62,400.94 698.95,400.94 699.27,400.95 699.60,400.95 699.92,400.96 700.25,400.96 700.57,400.97 700.90,400.97 701.22,400.97 701.55,400.97 701.87,400.98 702.20,400.98 702.52,400.98 702.85,400.98 703.17,400.99 703.50,400.99 703.82,400.99 704.15,400.99 704.47,400.99 704.80,400.99 705.12,400.99 705.45,401.00 705.77,401.00 706.09,401.00 706.42,401.00 706.74,401.00 707.07,401.00 707.39,401.00 707.72,401.00 708.04,401.00 708.37,401.00 708.69,401.00 709.02,401.00 709.34,401.00 709.67,401.00 709.99,401.00 710.32,401.00 710.64,401.00 710.97,401.00 711.29,401.00 711.62,401.00 711.94,401.00 712.27,401.00 712.59,401.00 712.92,401.00 713.24,401.00 713.57,401.00 713.89,401.00 714.22,401.00 714.54,401.00 714.87,401.00 715.19,401.00 715.52,401.00 715.84,401.00 716.17,401.00 716.49,401.00 716.82,401.00 717.14,401.00 717.47,401.00 717.79,401.00 718.12,401.00 718.44,401.00 718.77,401.00 719.09,401.00 719.42,401.00 719.74,401.00 720.07,401.00 720.39,401.00 720.72,401.00 721.04,401.00 721.36,401.00 721.69,401.00 722.01,401.00 722.34,401.00 722.66,401.00 722.99,401.00 723.31,401.00 723.64,401.00 723.96,401.00 724.29,401.00 724.61,401.00 724.94,401.00 725.26,401.00 725.59,401.00 725.91,401.00 726.24,401.00 726.56,401.00 726.89,401.00 727.21,401.00 727.54,401.00 727.86,401.00 728.19,401.00 728.51,401.00 728.84,401.00 729.16,401.00 729.49,401.00 729.81,401.00 730.14,401.00 730.46,401.00 730.79,401.00 731.11,401.00 731.44,401.00 731.76,401.00 732.09,401.00 732.41,401.00 732.74,401.00 733.06,401.00 733.39,401.00 733.71,401.00 734.04,401.00 734.36,401.00 734.69,401.00 735.01,401.00 735.34,401.00 735.66,401.00 735.98,401.00 736.31,401.00 736.63,401.00 736.96,401.00 737.28,401.00 737.61,401.00 737.93,401.00 738.26,401.00 738.58,401.00 738.91,401.00 739.23,401.00 739.56,401.00 739.88,401.00 740.21,401.00 740.53,401.00 740.86,401.00 741.18,401.00 741.51,401.00 741.83,401.00 742.16,401.00 742.48,401.00 742.81,401.00 743.13,401.00 743.46,401.00 743.78,401.00 744.11,401.00 744.43,401.00 744.76,401.00 745.08,401.00 745.41,401.00 745.73,401.00 746.06,401.00 746.38,401.00 746.71,401.00 747.03,401.00 747.36,401.00 747.68,401.00 748.01,401.00 748.33,401.00 748.66,401.00 748.98,401.00 749.31,401.00 749.63,401.00 749.96,401.00 750.28,401.00 750.61,401.00 750.93,401.00 751.25,401.00 751.58,401.00 751.90,401.00 752.23,401.00 752.55,401.00 752.88,401.00 753.20,401.00 753.53,401.00 753.85,401.00 754.18,401.00 754.50,401.00 754.83,401.00 755.15,401.00 755.48,401.00 755.80,401.00 756.13,401.00 756.45,401.00 756.78,401.00 757.10,401.00 757.43,401.00 757.75,401.00 758.08,401.00 758.40,401.00 758.73,401.00 759.05,401.00 759.38,401.00 759.70,401.00 760.03,401.00 760.35,401.00 760.68,401.00 761.00,401.00 761.33,401.00 761.65,401.00 761.98,401.00 762.30,401.00 762.63,401.00 762.95,401.00 763.28,401.00 763.60,401.00 763.93,401.00 764.25,401.00 764.58,401.00 764.90,401.00 765.23,401.00 765.55,401.00 765.88,401.00 766.20,401.00" />
<polyline fill="none" stroke="#3535b5" stroke-width="1.3" stroke-linejoin="round" points="539.10,410.99 539.42,410.99 539.75,410.99 540.07,410.99 540.40,410.99 540.72,410.99 541.05,410.99 541.37,410.99 541.70,410.99 542.02,410.99 542.35,410.99 542.67,410.99 543.00,410.99 543.32,410.99 543.65,410.99 543.97,410.99 544.30,410.98 544.62,410.98 544.95,410.98 545.27,410.98 545.60,410.98 545.92,410.98 546.25,410.98 546.57,410.98 546.90,410.98 547.22,410.98 547.55,410.98 547.87,410.98 548.20,410.98 548.52,410.98 548.85,410.98 549.17,410.98 549.50,410.98 549.82,410.98 550.15,410.97 550.47,410.97 550.80,410.97 551.12,410.97 551.45,410.97 551.77,410.97 552.10,410.97 552.42,410.97 552.75,410.97 553.07,410.97 553.40,410.97 553.72,410.97 554.05,410.97 554.37,410.96 554.69,410.96 555.02,410.96 555.34,410.96 555.67,410.96 555.99,410.96 556.32,410.96 556.64,410.96 556.97,410.96 557.29,410.95 557.62,410.95 557.94,410.95 558.27,410.95 558.59,410.95 558.92,410.95 559.24,410.95 559.57,410.95 559.89,410.94 560.22,410.94 560.54,410.94 560.87,410.94 561.19,410.94 561.52,410.94 561.84,410.93 562.17,410.93 562.49,410.93 562.82,410.93 563.14,410.93 563.47,410.92 563.79,410.92 564.12,410.92 564.44,410.92 564.77,410.92 565.09,410.91 565.42,410.91 565.74,410.91 566.07,410.91 566.39,410.90 566.72,410.90 567.04,410.90 567.37,410.90 567.69,410.89 568.02,410.89 568.34,410.89 568.67,410.88 568.99,410.88 569.32,410.88 569.64,410.87 569.96,410.87 570.29,410.87 570.61,410.86 570.94,410.86 571.26,410.86 571.59,410.85 571.91,410.85 572.24,410.84 572.56,410.84 572.89,410.84 573.21,410.83 573.54,410.83 573.86,410.82 574.19,410.82 574.51,410.81 574.84,410.81 575.16,410.80 575.49,410.80 575.81,410.79 576.14,410.79 576.46,410.78 576.79,410.77 577.11,410.77 577.44,410.76 577.76,410.76 578.09,410.75 578.41,410.74 578.74,410.74 579.06,410.73 579.39,410.72 579.71,410.71 580.04,410.71 580.36,410.70 580.69,410.69 581.01,410.68 581.34,410.67 581.66,410.66 581.99,410.66 582.31,410.65 582.64,410.64 582.96,410.63 583.29,410.62 583.61,410.61 583.94,410.60 584.26,410.59 584.58,410.58 584.91,410.57 585.23,410.55 585.56,410.54 585.88,410.53 586.21,410.52 586.53,410.51 586.86,410.49 587.18,410.48 587.51,410.47 587.83,410.45 588.16,410.44 588.48,410.42 588.81,410.41 589.13,410.39 589.46,410.38 589.78,410.36 590.11,410.34 590.43,410.33 590.76,410.31 591.08,410.29 591.41,410.27 591.73,410.26 592.06,410.24 592.38,410.22 592.71,410.20 593.03,410.18 593.36,410.16 593.68,410.14 594.01,410.11 594.33,410.09 594.66,410.07 594.98,410.05 595.31,410.02 595.63,410.00 595.96,409.97 596.28,409.95 596.61,409.92 596.93,409.90 597.26,409.87 597.58,409.84 597.91,409.81 598.23,409.79 598.56,409.76 598.88,409.73 599.21,409.70 599.53,409.66 599.85,409.63 600.18,409.60 600.50,409.57 600.83,409.53 601.15,409.50 601.48,409.46 601.80,409.43 602.13,409.39 602.45,409.35 602.78,409.32 603.10,409.28 603.43,409.24 603.75,409.20 604.08,409.16 604.40,409.12 604.73,409.07 605.05,409.03 605.38,408.99 605.70,408.94 606.03,408.90 606.35,408.85 606.68,408.81 607.00,408.76 607.33,408.71 607.65,408.66 607.98,408.61 608.30,408.56 608.63,408.51 608.95,408.46 609.28,408.40 609.60,408.35 609.93,408.30 610.25,408.24 610.58,408.19 610.90,408.13 611.23,408.07 611.55,408.01 611.88,407.95 612.20,407.89 612.53,407.83 612.85,407.77 613.18,407.71 613.50,407.65 613.83,407.58 614.15,407.52 614.48,407.46 614.80,407.39 615.12,407.32 615.45,407.26 615.77,407.19 616.10,407.12 616.42,407.05 616.75,406.98 617.07,406.91 617.40,406.84 617.72,406.77 618.05,406.70 618.37,406.62 618.70,406.55 619.02,406.47 619.35,406.40 619.67,406.32 620.00,406.25 620.32,406.17 620.65,406.09 620.97,406.02 621.30,405.94 621.62,405.86 621.95,405.78 622.27,405.70 622.60,405.62 622.92,405.54 623.25,405.45 623.57,405.37 623.90,405.29 624.22,405.20 624.55,405.12 624.87,405.03 625.20,404.95 625.52,404.86 625.85,404.77 626.17,404.69 626.50,404.60 626.82,404.51 627.15,404.42 627.47,404.33 627.80,404.24 628.12,404.15 628.45,404.06 628.77,403.96 629.10,403.87 629.42,403.77 629.75,403.68 630.07,403.58 630.39,403.49 630.72,403.39 631.04,403.29 631.37,403.19 631.69,403.09 632.02,402.99 632.34,402.89 632.67,402.78 632.99,402.68 633.32,402.57 633.64,402.47 633.97,402.36 634.29,402.25 634.62,402.14 634.94,402.03 635.27,401.92 635.59,401.80 635.92,401.69 636.24,401.57 636.57,401.45 636.89,401.34 637.22,401.21 637.54,401.09 637.87,400.97 638.19,400.84 638.52,400.72 638.84,400.59 639.17,400.46 639.49,400.33 639.82,400.20 640.14,400.06 640.47,399.92 640.79,399.79 641.12,399.65 641.44,399.50 641.77,399.36 642.09,399.22 642.42,399.07 642.74,398.92 643.07,398.77 643.39,398.62 643.72,398.46 644.04,398.30 644.37,398.15 644.69,397.99 645.02,397.82 645.34,397.66 645.66,397.49 645.99,397.33 646.31,397.16 646.64,396.99 646.96,396.81 647.29,396.64 647.61,396.46 647.94,396.28 648.26,396.10 648.59,395.92 648.91,395.74 649.24,395.55 649.56,395.37 649.89,395.18 650.21,394.99 650.54,394.80 650.86,394.61 651.19,394.41 651.51,394.22 651.84,394.02 652.16,393.83 652.49,393.63 652.81,393.43 653.14,393.23 653.46,393.03 653.79,392.83 654.11,392.63 654.44,392.43 654.76,392.23 655.09,392.02 655.41,391.82 655.74,391.62 656.06,391.42 656.39,391.22 656.71,391.01 657.04,390.81 657.36,390.61 657.69,390.41 658.01,390.21 658.34,390.02 658.66,389.82 658.99,389.62 659.31,389.43 659.64,389.24 659.96,389.05 660.28,388.86 660.61,388.67 660.93,388.48 661.26,388.30 661.58,388.12 661.91,387.94 662.23,387.76 662.56,387.59 662.88,387.42 663.21,387.25 663.53,387.09 663.86,386.93 664.18,386.77 664.51,386.61 664.83,386.46 665.16,386.32 665.48,386.17 665.81,386.03 666.13,385.90 666.46,385.77 666.78,385.64 667.11,385.52 667.43,385.40 667.76,385.29 668.08,385.18 668.41,385.08 668.73,384.98 669.06,384.89 669.38,384.80 669.71,384.72 670.03,384.64 670.36,384.56 670.68,384.50 671.01,384.44 671.33,384.38 671.66,384.33 671.98,384.28 672.31,384.24 672.63,384.21 672.96,384.18 673.28,384.16 673.61,384.14 673.93,384.13 674.26,384.13 674.58,384.13 674.91,384.13 675.23,384.15 675.55,384.16 675.88,384.19 676.20,384.22 676.53,384.25 676.85,384.29 677.18,384.34 677.50,384.39 677.83,384.44 678.15,384.50 678.48,384.57 678.80,384.64 679.13,384.72 679.45,384.80 679.78,384.89 680.10,384.98 680.43,385.08 680.75,385.18 681.08,385.29 681.40,385.40 681.73,385.52 682.05,385.64 682.38,385.76 682.70,385.89 683.03,386.02 683.35,386.16 683.68,386.30 684.00,386.44 684.33,386.59 684.65,386.74 684.98,386.89 685.30,387.04 685.63,387.20 685.95,387.37 686.28,387.53 686.60,387.70 686.93,387.87 687.25,388.04 687.58,388.21 687.90,388.38 688.23,388.56 688.55,388.74 688.88,388.92 689.20,389.10 689.53,389.28 689.85,389.47 690.18,389.65 690.50,389.84 690.82,390.02 691.15,390.21 691.47,390.40 691.80,390.58 692.12,390.77 692.45,390.96 692.77,391.14 693.10,391.33 693.42,391.52 693.75,391.70 694.07,391.89 694.40,392.07 694.72,392.25 695.05,392.44 695.37,392.62 695.70,392.80 696.02,392.98 696.35,393.16 696.67,393.33 697.00,393.51 697.32,393.68 697.65,393.85 697.97,394.02 698.30,394.19 698.62,394.36 698.95,394.52 699.27,394.69 699.60,394.85 699.92,395.01 700.25,395.16 700.57,395.32 700.90,395.47 701.22,395.62 701.55,395.77 701.87,395.91 702.20,396.05 702.52,396.19 702.85,396.33 703.17,396.47 703.50,396.60 703.82,396.73 704.15,396.86 704.47,396.98 704.80,397.11 705.12,397.23 705.45,397.34 705.77,397.46 706.09,397.57 706.42,397.68 706.74,397.79 707.07,397.90 707.39,398.00 707.72,398.10 708.04,398.20 708.37,398.29 708.69,398.39 709.02,398.48 709.34,398.57 709.67,398.65 709.99,398.74 710.32,398.82 710.64,398.90 710.97,398.98 711.29,399.05 711.62,399.12 711.94,399.19 712.27,399.26 712.59,399.33 712.92,399.39 713.24,399.46 713.57,399.52 713.89,399.58 714.22,399.63 714.54,399.69 714.87,399.74 715.19,399.79 715.52,399.84 715.84,399.89 716.17,399.94 716.49,399.98 716.82,400.02 717.14,400.07 717.47,400.11 717.79,400.15 718.12,400.18 718.44,400.22 718.77,400.25 719.09,400.29 719.42,400.32 719.74,400.35 720.07,400.38 720.39,400.41 720.72,400.44 721.04,400.46 721.36,400.49 721.69,400.51 722.01,400.53 722.34,400.56 722.66,400.58 722.99,400.60 723.31,400.62 723.64,400.64 723.96,400.66 724.29,400.67 724.61,400.69 724.94,400.70 725.26,400.72 725.59,400.73 725.91,400.75 726.24,400.76 726.56,400.77 726.89,400.79 727.21,400.80 727.54,400.81 727.86,400.82 728.19,400.83 728.51,400.84 728.84,400.85 729.16,400.85 729.49,400.86 729.81,400.87 730.14,400.88 730.46,400.88 730.79,400.89 731.11,400.90 731.44,400.90 731.76,400.91 732.09,400.91 732.41,400.92 732.74,400.92 733.06,400.93 733.39,400.93 733.71,400.94 734.04,400.94 734.36,400.94 734.69,400.95 735.01,400.95 735.34,400.95 735.66,400.96 735.98,400.96 736.31,400.96 736.63,400.96 736.96,400.97 737.28,400.97 737.61,400.97 737.93,400.97 738.26,400.97 738.58,400.98 738.91,400.98 739.23,400.98 739.56,400.98 739.88,400.98 740.21,400.98 740.53,400.98 740.86,400.98 741.18,400.99 741.51,400.99 741.83,400.99 742.16,400.99 742.48,400.99 742.81,400.99 743.13,400.99 743.46,400.99 743.78,400.99 744.11,400.99 744.43,400.99 744.76,400.99 745.08,400.99 745.41,400.99 745.73,400.99 746.06,401.00 746.38,401.00 746.71,401.00 747.03,401.00 747.36,401.00 747.68,401.00 748.01,401.00 748.33,401.00 748.66,401.00 748.98,401.00 749.31,401.00 749.63,401.00 749.96,401.00 750.28,401.00 750.61,401.00 750.93,401.00 751.25,401.00 751.58,401.00 751.90,401.00 752.23,401.00 752.55,401.00 752.88,401.00 753.20,401.00 753.53,401.00 753.85,401.00 754.18,401.00 754.50,401.00 754.83,401.00 755.15,401.00 755.48,401.00 755.80,401.00 756.13,401.00 756.45,401.00 756.78,401.00 757.10,401.00 757.43,401.00 757.75,401.00 758.08,401.00 758.40,401.00 758.73,401.00 759.05,401.00 759.38,401.00 759.70,401.00 760.03,401.00 760.35,401.00 760.68,401.00 761.00,401.00 761.33,401.00 761.65,401.00 761.98,401.00 762.30,401.00 762.63,401.00 762.95,401.00 763.28,401.00 763.60,401.00 763.93,401.00 764.25,401.00 764.58,401.00 764.90,401.00 765.23,401.00 765.55,401.00 765.88,401.00 766.20,401.00" />
<polyline fill="none" stroke="#111" stroke-width="1.5" stroke-linejoin="round" points="539.70,412.47 541.24,412.20 543.28,411.53 544.85,410.25 546.26,412.92 548.16,410.50 549.89,411.54 551.40,409.16 553.44,409.59 554.77,410.00 556.63,410.79 558.41,409.95 560.06,412.47 561.85,409.43 563.64,410.60 565.47,410.01 566.77,409.72 568.69,407.88 570.42,408.68 571.88,406.08 573.40,404.98 575.68,402.97 576.98,400.46 578.69,398.25 580.74,393.23 582.25,387.43 583.88,382.95 585.76,374.12 587.02,368.74 589.12,357.09 590.62,349.75 592.15,338.63 594.20,326.60 596.06,315.05 597.32,306.62 599.28,297.01 600.78,288.94 602.75,281.57 604.43,278.11 605.83,275.52 607.90,276.53 609.49,277.27 611.21,281.89 612.99,286.31 614.46,289.84 616.36,294.83 618.13,300.55 619.36,304.23 621.51,306.97 622.94,311.46 624.69,309.82 626.19,310.38 628.22,306.77 629.68,306.43 631.72,303.40 633.07,300.43 634.94,298.64 636.54,296.76 638.37,296.80 639.82,297.65 641.51,298.78 643.55,303.30 645.25,305.59 646.84,310.89 648.75,315.97 650.02,320.47 652.11,326.41 653.40,330.98 655.58,335.93 657.07,340.31 658.76,344.98 660.68,348.37 662.27,353.36 663.97,356.15 665.23,360.03 667.12,362.62 668.65,366.19 670.42,368.69 672.13,372.37 674.22,374.62 675.48,376.10 677.28,377.27 679.10,382.13 681.01,381.45 682.78,384.90 684.32,384.12 685.73,387.60 687.63,386.60 689.42,389.03 690.73,388.69 692.81,389.14 694.32,389.88 696.15,391.91 697.90,392.28 699.60,394.63 701.21,392.36 702.93,396.44 704.42,393.92 706.30,394.90 707.78,397.56 709.69,397.59 711.42,395.29 713.26,396.07 714.74,398.08 716.21,397.33 718.22,398.14 719.72,398.24 721.74,400.42 723.23,396.90 724.93,397.21 726.95,399.61 728.34,398.36 730.01,398.77 731.71,398.76 733.49,400.06 734.96,398.12 736.93,398.42 738.85,400.53 740.34,401.00 742.15,399.78 743.97,400.98 745.61,401.32 747.25,400.75 748.99,401.58 750.69,399.96 752.05,400.99 753.89,399.55 755.51,400.57 757.16,400.86 759.04,402.09 760.59,399.98 762.47,400.52 764.15,399.25" />
<rect x="539.10" y="256.90" width="227.10" height="169.45" fill="none" stroke="#0d0d0d" stroke-width="1.4"/>
<line x1="539.10" y1="426.35" x2="539.10" y2="430.15" stroke="#0d0d0d" stroke-width="1.3"/>
<line x1="576.95" y1="426.35" x2="576.95" y2="430.15" stroke="#0d0d0d" stroke-width="1.3"/>
<line x1="614.80" y1="426.35" x2="614.80" y2="430.15" stroke="#0d0d0d" stroke-width="1.3"/>
<line x1="652.65" y1="426.35" x2="652.65" y2="430.15" stroke="#0d0d0d" stroke-width="1.3"/>
<line x1="690.50" y1="426.35" x2="690.50" y2="430.15" stroke="#0d0d0d" stroke-width="1.3"/>
<line x1="728.35" y1="426.35" x2="728.35" y2="430.15" stroke="#0d0d0d" stroke-width="1.3"/>
<line x1="766.20" y1="426.35" x2="766.20" y2="430.15" stroke="#0d0d0d" stroke-width="1.3"/>
<line x1="558.02" y1="426.35" x2="558.02" y2="428.35" stroke="#0d0d0d" stroke-width="1.3"/>
<line x1="595.88" y1="426.35" x2="595.88" y2="428.35" stroke="#0d0d0d" stroke-width="1.3"/>
<line x1="633.73" y1="426.35" x2="633.73" y2="428.35" stroke="#0d0d0d" stroke-width="1.3"/>
<line x1="671.58" y1="426.35" x2="671.58" y2="428.35" stroke="#0d0d0d" stroke-width="1.3"/>
<line x1="709.43" y1="426.35" x2="709.43" y2="428.35" stroke="#0d0d0d" stroke-width="1.3"/>
<line x1="747.28" y1="426.35" x2="747.28" y2="428.35" stroke="#0d0d0d" stroke-width="1.3"/>
<text x="0" y="0" font-family='"Liberation Sans", sans-serif' font-size="10.8" text-anchor="middle" font-weight="normal" fill="#111" transform="translate(539.10 439.80) scale(0.91 1.0)" stroke="#111" stroke-width="0.25">526</text>
<text x="0" y="0" font-family='"Liberation Sans", sans-serif' font-size="10.8" text-anchor="middle" font-weight="normal" fill="#111" transform="translate(576.95 439.80) scale(0.91 1.0)" stroke="#111" stroke-width="0.25">528</text>
<text x="0" y="0" font-family='"Liberation Sans", sans-serif' font-size="10.8" text-anchor="middle" font-weight="normal" fill="#111" transform="translate(614.80 439.80) scale(0.91 1.0)" stroke="#111" stroke-width="0.25">530</text>
<text x="0" y="0" font-family='"Liberation Sans", sans-serif' font-size="10.8" text-anchor="middle" font-weight="normal" fill="#111" transform="translate(652.65 439.80) scale(0.91 1.0)" stroke="#111" stroke-width="0.25">532</text>
<text x="0" y="0" font-family='"Liberation Sans", sans-serif' font-size="10.8" text-anchor="middle" font-weight="normal" fill="#111" transform="translate(690.50 439.80) scale(0.91 1.0)" stroke="#111" stroke-width="0.25">534</text>
<text x="0" y="0" font-family='"Liberation Sans", sans-serif' font-size="10.8" text-anchor="middle" font-weight="normal" fill="#111" transform="translate(728.35 439.80) scale(0.91 1.0)" stroke="#111" stroke-width="0.25">536</text>
<text x="0" y="0" font-family='"Liberation Sans", sans-serif' font-size="10.8" text-anchor="middle" font-weight="normal" fill="#111" transform="translate(766.20 439.80) scale(0.91 1.0)" stroke="#111" stroke-width="0.25">538</text>
<text x="645.10" y="451.70" font-family='"Liberation Serif", serif' font-size="13.8" text-anchor="middle" font-weight="normal" fill="#111" stroke="#111" stroke-width="0.25">Binding energy (eV)</text>
<text x="0" y="0" font-family='"Liberation Serif", serif' font-size="13.65" text-anchor="middle" font-weight="normal" fill="#111" transform="translate(532.80 330.50) rotate(-90) scale(1.0 0.95)" stroke="#111" stroke-width="0.25">Intensity (a.u.)</text>
<text x="0" y="0" font-family='"Liberation Serif", serif' font-size="11.9" text-anchor="end" font-weight="normal" fill="#111" transform="translate(758.30 272.50) scale(0.91 1.0)" stroke="#111" stroke-width="0.25">O1s</text>
<text x="0" y="0" font-family='"Liberation Sans", sans-serif' font-size="8.6" text-anchor="middle" font-weight="normal" fill="#111" transform="translate(607.00 272.60) scale(0.93 1.0)" stroke="#111" stroke-width="0.25">529.5</text>
<text x="0" y="0" font-family='"Liberation Sans", sans-serif' font-size="8.6" text-anchor="middle" font-weight="normal" fill="#111" transform="translate(642.80 292.40) scale(0.93 1.0)" stroke="#111" stroke-width="0.25">531.2</text>
<text x="0" y="0" font-family='"Liberation Sans", sans-serif' font-size="8.6" text-anchor="middle" font-weight="normal" fill="#111" transform="translate(684.90 372.10) scale(0.93 1.0)" stroke="#111" stroke-width="0.25">533.1</text>
<text x="0" y="0" font-family='"Liberation Sans", sans-serif' font-size="22.3" text-anchor="start" font-weight="bold" fill="#000" transform="translate(521.60 254.90) scale(0.89 1.0)">f</text>
</svg>
</body></html>
